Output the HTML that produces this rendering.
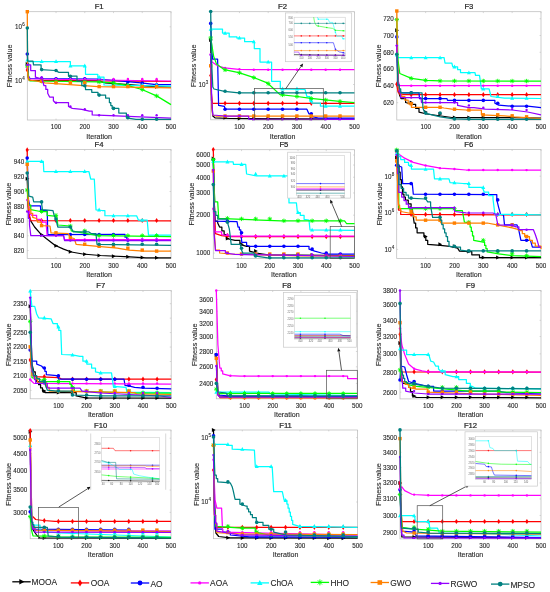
<!DOCTYPE html>
<html><head><meta charset="utf-8"><title>Convergence curves</title>
<style>html,body{margin:0;padding:0;background:#fff;width:550px;height:592px;overflow:hidden}
svg text{font-family:'Liberation Sans', Arial, sans-serif;fill:#262626;stroke:#262626;stroke-width:0.1px}</style></head>
<body>
<svg width="550" height="592" viewBox="0 0 550 592" style="display:block">
<rect width="550" height="592" fill="#ffffff"/>
<defs><clipPath id="cF1"><rect x="24.30" y="8.70" width="149.70" height="114.30"/></clipPath></defs>
<g><rect x="27.30" y="11.70" width="143.70" height="108.30" fill="none" stroke="#bdbdbd" stroke-width="0.75"/><path d="M56.04,120.00v-1.4M56.04,11.70v1.4" stroke="#bdbdbd" stroke-width="0.6"/><text x="56.04" y="129.40" font-size="6.3" text-anchor="middle">100</text><path d="M84.78,120.00v-1.4M84.78,11.70v1.4" stroke="#bdbdbd" stroke-width="0.6"/><text x="84.78" y="129.40" font-size="6.3" text-anchor="middle">200</text><path d="M113.52,120.00v-1.4M113.52,11.70v1.4" stroke="#bdbdbd" stroke-width="0.6"/><text x="113.52" y="129.40" font-size="6.3" text-anchor="middle">300</text><path d="M142.26,120.00v-1.4M142.26,11.70v1.4" stroke="#bdbdbd" stroke-width="0.6"/><text x="142.26" y="129.40" font-size="6.3" text-anchor="middle">400</text><path d="M171.00,120.00v-1.4M171.00,11.70v1.4" stroke="#bdbdbd" stroke-width="0.6"/><text x="171.00" y="129.40" font-size="6.3" text-anchor="middle">500</text><path d="M27.30,26.80h1.4M171.00,26.80h-1.4" stroke="#bdbdbd" stroke-width="0.6"/><text x="22.10" y="29.10" font-size="6.3" text-anchor="end">10</text><text x="22.30" y="26.20" font-size="4.5">6</text><path d="M27.30,80.80h1.4M171.00,80.80h-1.4" stroke="#bdbdbd" stroke-width="0.6"/><text x="22.10" y="83.10" font-size="6.3" text-anchor="end">10</text><text x="22.30" y="80.20" font-size="4.5">4</text><text x="99.15" y="138.80" font-size="7.1" text-anchor="middle">Iteration</text><text x="99.15" y="9.20" font-size="7.7" text-anchor="middle" style="stroke-width:0.22px">F1</text><text transform="translate(12.00,65.85) rotate(-90)" font-size="7.25" text-anchor="middle">Fitness value</text><g clip-path="url(#cF1)"><path d="M27.30,64.00L28.50,78.00L30.00,80.40L98.00,80.60L105.00,82.80L155.00,86.60L171.00,87.00" fill="none" stroke="#000000" stroke-width="1.25" stroke-linejoin="round"/><path d="M25.70,62.00L29.50,64.00L25.70,66.00Z" fill="#000000"/><path d="M40.07,78.43L43.87,80.43L40.07,82.43Z" fill="#000000"/><path d="M54.44,78.48L58.24,80.48L54.44,82.48Z" fill="#000000"/><path d="M68.81,78.52L72.61,80.52L68.81,82.52Z" fill="#000000"/><path d="M83.18,78.56L86.98,80.56L83.18,82.56Z" fill="#000000"/><path d="M97.55,78.96L101.35,80.96L97.55,82.96Z" fill="#000000"/><path d="M111.92,81.45L115.72,83.45L111.92,85.45Z" fill="#000000"/><path d="M126.29,82.54L130.09,84.54L126.29,86.54Z" fill="#000000"/><path d="M140.66,83.63L144.46,85.63L140.66,87.63Z" fill="#000000"/><path d="M155.03,84.64L158.83,86.64L155.03,88.64Z" fill="#000000"/><path d="M27.30,70.00L28.50,79.00L30.00,80.50L171.00,81.50" fill="none" stroke="#ff0000" stroke-width="1.25" stroke-linejoin="round"/><path d="M27.30,67.40L28.90,70.00L27.30,72.60L25.70,70.00Z" fill="#ff0000"/><path d="M41.67,77.90L43.27,80.50L41.67,83.10L40.07,80.50Z" fill="#ff0000"/><path d="M56.04,77.90L57.64,80.50L56.04,83.10L54.44,80.50Z" fill="#ff0000"/><path d="M70.41,77.90L72.01,80.50L70.41,83.10L68.81,80.50Z" fill="#ff0000"/><path d="M84.78,77.90L86.38,80.50L84.78,83.10L83.18,80.50Z" fill="#ff0000"/><path d="M99.15,77.90L100.75,80.50L99.15,83.10L97.55,80.50Z" fill="#ff0000"/><path d="M113.52,77.90L115.12,80.50L113.52,83.10L111.92,80.50Z" fill="#ff0000"/><path d="M127.89,77.90L129.49,80.50L127.89,83.10L126.29,80.50Z" fill="#ff0000"/><path d="M142.26,77.90L143.86,80.50L142.26,83.10L140.66,80.50Z" fill="#ff0000"/><path d="M156.63,77.90L158.23,80.50L156.63,83.10L155.03,80.50Z" fill="#ff0000"/><path d="M27.30,54.00L28.50,76.00L30.00,78.50L98.00,79.00L141.00,82.80L156.00,84.70L171.00,84.70" fill="none" stroke="#0000ff" stroke-width="1.25" stroke-linejoin="round"/><circle cx="27.30" cy="54.00" r="1.80" fill="#0000ff"/><circle cx="41.67" cy="78.59" r="1.80" fill="#0000ff"/><circle cx="56.04" cy="78.69" r="1.80" fill="#0000ff"/><circle cx="70.41" cy="78.80" r="1.80" fill="#0000ff"/><circle cx="84.78" cy="78.90" r="1.80" fill="#0000ff"/><circle cx="99.15" cy="79.10" r="1.80" fill="#0000ff"/><circle cx="113.52" cy="80.37" r="1.80" fill="#0000ff"/><circle cx="127.89" cy="81.64" r="1.80" fill="#0000ff"/><circle cx="142.26" cy="82.96" r="1.80" fill="#0000ff"/><circle cx="156.63" cy="84.70" r="1.80" fill="#0000ff"/><path d="M27.30,68.00L28.50,77.00L30.00,79.00L171.00,81.00" fill="none" stroke="#ff00ff" stroke-width="1.25" stroke-linejoin="round"/><circle cx="27.30" cy="68.00" r="1.20" fill="#ff00ff"/><circle cx="41.67" cy="79.00" r="1.20" fill="#ff00ff"/><circle cx="56.04" cy="79.00" r="1.20" fill="#ff00ff"/><circle cx="70.41" cy="79.00" r="1.20" fill="#ff00ff"/><circle cx="84.78" cy="79.00" r="1.20" fill="#ff00ff"/><circle cx="99.15" cy="79.00" r="1.20" fill="#ff00ff"/><circle cx="113.52" cy="79.00" r="1.20" fill="#ff00ff"/><circle cx="127.89" cy="79.00" r="1.20" fill="#ff00ff"/><circle cx="142.26" cy="79.00" r="1.20" fill="#ff00ff"/><circle cx="156.63" cy="79.00" r="1.20" fill="#ff00ff"/><path d="M27.30,60.00L28.50,61.50L70.40,61.50L70.40,65.80L85.50,65.80L85.50,74.30L97.80,74.30L97.80,77.20L104.00,77.20L104.00,85.00L171.00,86.20" fill="none" stroke="#00ffff" stroke-width="1.25" stroke-linejoin="round"/><path d="M25.30,61.60L27.30,57.80L29.30,61.60Z" fill="#00ffff"/><path d="M39.67,63.10L41.67,59.30L43.67,63.10Z" fill="#00ffff"/><path d="M54.04,63.10L56.04,59.30L58.04,63.10Z" fill="#00ffff"/><path d="M68.41,67.40L70.41,63.60L72.41,67.40Z" fill="#00ffff"/><path d="M82.78,67.40L84.78,63.60L86.78,67.40Z" fill="#00ffff"/><path d="M97.15,78.80L99.15,75.00L101.15,78.80Z" fill="#00ffff"/><path d="M111.52,86.60L113.52,82.80L115.52,86.60Z" fill="#00ffff"/><path d="M125.89,86.60L127.89,82.80L129.89,86.60Z" fill="#00ffff"/><path d="M140.26,86.60L142.26,82.80L144.26,86.60Z" fill="#00ffff"/><path d="M154.63,86.60L156.63,82.80L158.63,86.60Z" fill="#00ffff"/><path d="M27.30,66.00L28.50,78.00L30.00,81.00L98.00,81.90L113.00,82.80L128.00,85.70L142.00,89.50L157.00,96.10L171.00,104.60" fill="none" stroke="#00ff00" stroke-width="1.25" stroke-linejoin="round"/><path d="M25.10,66.00H29.50M27.30,63.80V68.20M25.76,64.46L28.84,67.54M25.76,67.54L28.84,64.46" stroke="#00ff00" stroke-width="0.9" fill="none"/><path d="M39.47,81.15H43.87M41.67,78.95V83.35M40.13,79.61L43.21,82.69M40.13,82.69L43.21,79.61" stroke="#00ff00" stroke-width="0.9" fill="none"/><path d="M53.84,81.34H58.24M56.04,79.14V83.54M54.50,79.80L57.58,82.88M54.50,82.88L57.58,79.80" stroke="#00ff00" stroke-width="0.9" fill="none"/><path d="M68.21,81.53H72.61M70.41,79.33V83.73M68.87,79.99L71.95,83.07M68.87,83.07L71.95,79.99" stroke="#00ff00" stroke-width="0.9" fill="none"/><path d="M82.58,81.73H86.98M84.78,79.53V83.93M83.24,80.19L86.32,83.27M83.24,83.27L86.32,80.19" stroke="#00ff00" stroke-width="0.9" fill="none"/><path d="M96.95,81.97H101.35M99.15,79.77V84.17M97.61,80.43L100.69,83.51M97.61,83.51L100.69,80.43" stroke="#00ff00" stroke-width="0.9" fill="none"/><path d="M111.32,82.90H115.72M113.52,80.70V85.10M111.98,81.36L115.06,84.44M111.98,84.44L115.06,81.36" stroke="#00ff00" stroke-width="0.9" fill="none"/><path d="M125.69,85.68H130.09M127.89,83.48V87.88M126.35,84.14L129.43,87.22M126.35,87.22L129.43,84.14" stroke="#00ff00" stroke-width="0.9" fill="none"/><path d="M140.06,89.61H144.46M142.26,87.41V91.81M140.72,88.07L143.80,91.15M140.72,91.15L143.80,88.07" stroke="#00ff00" stroke-width="0.9" fill="none"/><path d="M154.43,95.94H158.83M156.63,93.74V98.14M155.09,94.40L158.17,97.48M155.09,97.48L158.17,94.40" stroke="#00ff00" stroke-width="0.9" fill="none"/><path d="M27.30,11.70L27.60,72.00L28.50,80.00L36.00,81.00L45.00,82.80L98.00,86.60L171.00,87.80" fill="none" stroke="#ff8000" stroke-width="1.25" stroke-linejoin="round"/><rect x="25.60" y="10.00" width="3.40" height="3.40" fill="#ff8000"/><rect x="39.97" y="79.30" width="3.40" height="3.40" fill="#ff8000"/><rect x="54.34" y="81.10" width="3.40" height="3.40" fill="#ff8000"/><rect x="68.71" y="81.10" width="3.40" height="3.40" fill="#ff8000"/><rect x="83.08" y="81.10" width="3.40" height="3.40" fill="#ff8000"/><rect x="97.45" y="84.90" width="3.40" height="3.40" fill="#ff8000"/><rect x="111.82" y="84.90" width="3.40" height="3.40" fill="#ff8000"/><rect x="126.19" y="84.90" width="3.40" height="3.40" fill="#ff8000"/><rect x="140.56" y="84.90" width="3.40" height="3.40" fill="#ff8000"/><rect x="154.93" y="84.90" width="3.40" height="3.40" fill="#ff8000"/><path d="M27.30,64.90L30.70,64.90L30.70,70.50L35.40,70.50L35.40,77.20L42.00,79.00L44.00,85.70L45.85,85.70L45.85,89.45L47.70,89.45L47.70,93.20L49.60,97.00L53.40,97.00L53.40,100.80L55.30,102.70L68.50,102.70L68.50,106.50L72.30,108.40L81.80,109.30L89.30,111.20L92.20,111.20L92.20,115.00L98.00,115.20L171.00,118.20" fill="none" stroke="#9400ff" stroke-width="1.25" stroke-linejoin="round"/><circle cx="27.30" cy="64.90" r="1.20" fill="#9400ff"/><circle cx="41.67" cy="77.20" r="1.20" fill="#9400ff"/><circle cx="56.04" cy="102.70" r="1.20" fill="#9400ff"/><circle cx="70.41" cy="106.50" r="1.20" fill="#9400ff"/><circle cx="84.78" cy="109.30" r="1.20" fill="#9400ff"/><circle cx="99.15" cy="115.20" r="1.20" fill="#9400ff"/><circle cx="113.52" cy="115.20" r="1.20" fill="#9400ff"/><circle cx="127.89" cy="115.20" r="1.20" fill="#9400ff"/><circle cx="142.26" cy="115.20" r="1.20" fill="#9400ff"/><circle cx="156.63" cy="115.20" r="1.20" fill="#9400ff"/><path d="M27.30,28.00L27.60,61.00L33.00,61.00L33.50,64.90L41.10,64.90L41.10,69.60L55.30,70.50L59.00,72.40L68.50,72.40L68.50,76.20L77.00,76.20L77.00,81.00L81.80,81.00L81.80,85.70L85.50,85.70L85.50,89.50L91.75,89.50L91.75,92.30L98.00,92.30L98.00,95.10L105.60,95.10L105.60,98.00L109.40,98.00L109.40,102.70L110.80,102.70L110.80,105.55L112.20,105.55L112.20,108.40L118.80,108.40L118.80,113.10L126.40,113.10L126.40,117.80L136.00,119.30L171.00,119.30" fill="none" stroke="#008080" stroke-width="1.25" stroke-linejoin="round"/><circle cx="27.30" cy="28.00" r="1.80" fill="#008080"/><circle cx="41.67" cy="69.60" r="1.80" fill="#008080"/><circle cx="56.04" cy="70.50" r="1.80" fill="#008080"/><circle cx="70.41" cy="76.20" r="1.80" fill="#008080"/><circle cx="84.78" cy="85.70" r="1.80" fill="#008080"/><circle cx="99.15" cy="95.10" r="1.80" fill="#008080"/><circle cx="113.52" cy="108.40" r="1.80" fill="#008080"/><circle cx="127.89" cy="117.80" r="1.80" fill="#008080"/><circle cx="142.26" cy="119.30" r="1.80" fill="#008080"/><circle cx="156.63" cy="119.30" r="1.80" fill="#008080"/></g></g>
<defs><clipPath id="cF2"><rect x="207.70" y="8.70" width="149.70" height="114.10"/></clipPath></defs>
<g><rect x="210.70" y="11.70" width="143.70" height="108.10" fill="none" stroke="#bdbdbd" stroke-width="0.75"/><path d="M239.44,119.80v-1.4M239.44,11.70v1.4" stroke="#bdbdbd" stroke-width="0.6"/><text x="239.44" y="129.20" font-size="6.3" text-anchor="middle">100</text><path d="M268.18,119.80v-1.4M268.18,11.70v1.4" stroke="#bdbdbd" stroke-width="0.6"/><text x="268.18" y="129.20" font-size="6.3" text-anchor="middle">200</text><path d="M296.92,119.80v-1.4M296.92,11.70v1.4" stroke="#bdbdbd" stroke-width="0.6"/><text x="296.92" y="129.20" font-size="6.3" text-anchor="middle">300</text><path d="M325.66,119.80v-1.4M325.66,11.70v1.4" stroke="#bdbdbd" stroke-width="0.6"/><text x="325.66" y="129.20" font-size="6.3" text-anchor="middle">400</text><path d="M354.40,119.80v-1.4M354.40,11.70v1.4" stroke="#bdbdbd" stroke-width="0.6"/><text x="354.40" y="129.20" font-size="6.3" text-anchor="middle">500</text><path d="M210.70,84.50h1.4M354.40,84.50h-1.4" stroke="#bdbdbd" stroke-width="0.6"/><text x="205.50" y="86.80" font-size="6.3" text-anchor="end">10</text><text x="205.70" y="83.90" font-size="4.5">3</text><text x="282.55" y="138.60" font-size="7.1" text-anchor="middle">Iteration</text><text x="282.55" y="9.20" font-size="7.7" text-anchor="middle" style="stroke-width:0.22px">F2</text><text transform="translate(195.60,65.75) rotate(-90)" font-size="7.25" text-anchor="middle">Fitness value</text><g clip-path="url(#cF2)"><path d="M210.70,40.00L211.50,100.00L212.80,116.00L215.00,117.80L230.00,118.50L354.40,119.00" fill="none" stroke="#000000" stroke-width="1.25" stroke-linejoin="round"/><path d="M209.10,38.00L212.90,40.00L209.10,42.00Z" fill="#000000"/><path d="M223.47,115.80L227.27,117.80L223.47,119.80Z" fill="#000000"/><path d="M237.84,116.50L241.64,118.50L237.84,120.50Z" fill="#000000"/><path d="M252.21,116.50L256.01,118.50L252.21,120.50Z" fill="#000000"/><path d="M266.58,116.50L270.38,118.50L266.58,120.50Z" fill="#000000"/><path d="M280.95,116.50L284.75,118.50L280.95,120.50Z" fill="#000000"/><path d="M295.32,116.50L299.12,118.50L295.32,120.50Z" fill="#000000"/><path d="M309.69,116.50L313.49,118.50L309.69,120.50Z" fill="#000000"/><path d="M324.06,116.50L327.86,118.50L324.06,120.50Z" fill="#000000"/><path d="M338.43,116.50L342.23,118.50L338.43,120.50Z" fill="#000000"/><path d="M210.70,75.50L211.50,95.00L212.50,103.30L354.40,103.30" fill="none" stroke="#ff0000" stroke-width="1.25" stroke-linejoin="round"/><path d="M210.70,72.90L212.30,75.50L210.70,78.10L209.10,75.50Z" fill="#ff0000"/><path d="M225.07,100.70L226.67,103.30L225.07,105.90L223.47,103.30Z" fill="#ff0000"/><path d="M239.44,100.70L241.04,103.30L239.44,105.90L237.84,103.30Z" fill="#ff0000"/><path d="M253.81,100.70L255.41,103.30L253.81,105.90L252.21,103.30Z" fill="#ff0000"/><path d="M268.18,100.70L269.78,103.30L268.18,105.90L266.58,103.30Z" fill="#ff0000"/><path d="M282.55,100.70L284.15,103.30L282.55,105.90L280.95,103.30Z" fill="#ff0000"/><path d="M296.92,100.70L298.52,103.30L296.92,105.90L295.32,103.30Z" fill="#ff0000"/><path d="M311.29,100.70L312.89,103.30L311.29,105.90L309.69,103.30Z" fill="#ff0000"/><path d="M325.66,100.70L327.26,103.30L325.66,105.90L324.06,103.30Z" fill="#ff0000"/><path d="M340.03,100.70L341.63,103.30L340.03,105.90L338.43,103.30Z" fill="#ff0000"/><path d="M210.70,23.40L211.70,50.00L212.60,59.10L217.60,59.10L218.60,105.40L224.40,106.30L225.00,109.20L306.90,109.20L308.90,113.80L311.70,113.80L311.70,116.70L318.50,118.00L354.40,118.00" fill="none" stroke="#0000ff" stroke-width="1.25" stroke-linejoin="round"/><circle cx="210.70" cy="23.40" r="1.80" fill="#0000ff"/><circle cx="225.07" cy="109.20" r="1.80" fill="#0000ff"/><circle cx="239.44" cy="109.20" r="1.80" fill="#0000ff"/><circle cx="253.81" cy="109.20" r="1.80" fill="#0000ff"/><circle cx="268.18" cy="109.20" r="1.80" fill="#0000ff"/><circle cx="282.55" cy="109.20" r="1.80" fill="#0000ff"/><circle cx="296.92" cy="109.20" r="1.80" fill="#0000ff"/><circle cx="311.29" cy="113.80" r="1.80" fill="#0000ff"/><circle cx="325.66" cy="118.00" r="1.80" fill="#0000ff"/><circle cx="340.03" cy="118.00" r="1.80" fill="#0000ff"/><path d="M210.70,54.30L212.00,62.00L217.60,65.80L224.40,67.80L238.80,69.30L253.30,69.70L354.40,69.70" fill="none" stroke="#ff00ff" stroke-width="1.25" stroke-linejoin="round"/><circle cx="210.70" cy="54.30" r="1.20" fill="#ff00ff"/><circle cx="225.07" cy="67.87" r="1.20" fill="#ff00ff"/><circle cx="239.44" cy="69.32" r="1.20" fill="#ff00ff"/><circle cx="253.81" cy="69.70" r="1.20" fill="#ff00ff"/><circle cx="268.18" cy="69.70" r="1.20" fill="#ff00ff"/><circle cx="282.55" cy="69.70" r="1.20" fill="#ff00ff"/><circle cx="296.92" cy="69.70" r="1.20" fill="#ff00ff"/><circle cx="311.29" cy="69.70" r="1.20" fill="#ff00ff"/><circle cx="325.66" cy="69.70" r="1.20" fill="#ff00ff"/><circle cx="340.03" cy="69.70" r="1.20" fill="#ff00ff"/><path d="M210.70,29.20L222.50,29.20L222.50,33.10L229.20,33.10L229.20,36.90L236.90,36.90L236.90,38.00L244.60,38.00L244.60,41.70L254.30,41.70L254.30,48.50L260.00,48.50L260.00,62.00L271.60,62.00L271.60,81.30L280.30,81.30L280.30,88.80L305.00,89.50L306.90,96.50L309.80,96.50L309.80,100.40L311.70,103.00L320.40,103.00L320.40,106.10L354.40,106.10" fill="none" stroke="#00ffff" stroke-width="1.25" stroke-linejoin="round"/><path d="M208.70,30.80L210.70,27.00L212.70,30.80Z" fill="#00ffff"/><path d="M223.07,34.70L225.07,30.90L227.07,34.70Z" fill="#00ffff"/><path d="M237.44,39.60L239.44,35.80L241.44,39.60Z" fill="#00ffff"/><path d="M251.81,43.30L253.81,39.50L255.81,43.30Z" fill="#00ffff"/><path d="M266.18,63.60L268.18,59.80L270.18,63.60Z" fill="#00ffff"/><path d="M280.55,90.40L282.55,86.60L284.55,90.40Z" fill="#00ffff"/><path d="M294.92,90.40L296.92,86.60L298.92,90.40Z" fill="#00ffff"/><path d="M309.29,102.00L311.29,98.20L313.29,102.00Z" fill="#00ffff"/><path d="M323.66,107.70L325.66,103.90L327.66,107.70Z" fill="#00ffff"/><path d="M338.03,107.70L340.03,103.90L342.03,107.70Z" fill="#00ffff"/><path d="M210.70,37.90L213.60,56.20L216.50,63.90L224.40,69.70L238.80,72.60L253.30,77.40L267.80,83.20L280.00,94.60L297.30,96.50L310.80,98.40L325.20,99.90L339.60,101.30L354.40,102.70" fill="none" stroke="#00ff00" stroke-width="1.25" stroke-linejoin="round"/><path d="M208.50,37.90H212.90M210.70,35.70V40.10M209.16,36.36L212.24,39.44M209.16,39.44L212.24,36.36" stroke="#00ff00" stroke-width="0.9" fill="none"/><path d="M222.87,69.83H227.27M225.07,67.63V72.03M223.53,68.29L226.61,71.37M223.53,71.37L226.61,68.29" stroke="#00ff00" stroke-width="0.9" fill="none"/><path d="M237.24,72.81H241.64M239.44,70.61V75.01M237.90,71.27L240.98,74.35M237.90,74.35L240.98,71.27" stroke="#00ff00" stroke-width="0.9" fill="none"/><path d="M251.61,77.60H256.01M253.81,75.40V79.80M252.27,76.06L255.35,79.14M252.27,79.14L255.35,76.06" stroke="#00ff00" stroke-width="0.9" fill="none"/><path d="M265.98,83.56H270.38M268.18,81.36V85.76M266.64,82.02L269.72,85.10M266.64,85.10L269.72,82.02" stroke="#00ff00" stroke-width="0.9" fill="none"/><path d="M280.35,94.88H284.75M282.55,92.68V97.08M281.01,93.34L284.09,96.42M281.01,96.42L284.09,93.34" stroke="#00ff00" stroke-width="0.9" fill="none"/><path d="M294.72,96.46H299.12M296.92,94.26V98.66M295.38,94.92L298.46,98.00M295.38,98.00L298.46,94.92" stroke="#00ff00" stroke-width="0.9" fill="none"/><path d="M309.09,98.45H313.49M311.29,96.25V100.65M309.75,96.91L312.83,99.99M309.75,99.99L312.83,96.91" stroke="#00ff00" stroke-width="0.9" fill="none"/><path d="M323.46,99.94H327.86M325.66,97.74V102.14M324.12,98.40L327.20,101.48M324.12,101.48L327.20,98.40" stroke="#00ff00" stroke-width="0.9" fill="none"/><path d="M337.83,101.34H342.23M340.03,99.14V103.54M338.49,99.80L341.57,102.88M338.49,102.88L341.57,99.80" stroke="#00ff00" stroke-width="0.9" fill="none"/><path d="M210.70,65.80L211.70,105.00L212.60,115.00L216.00,116.00L354.40,116.00" fill="none" stroke="#ff8000" stroke-width="1.25" stroke-linejoin="round"/><rect x="209.00" y="64.10" width="3.40" height="3.40" fill="#ff8000"/><rect x="223.37" y="114.30" width="3.40" height="3.40" fill="#ff8000"/><rect x="237.74" y="114.30" width="3.40" height="3.40" fill="#ff8000"/><rect x="252.11" y="114.30" width="3.40" height="3.40" fill="#ff8000"/><rect x="266.48" y="114.30" width="3.40" height="3.40" fill="#ff8000"/><rect x="280.85" y="114.30" width="3.40" height="3.40" fill="#ff8000"/><rect x="295.22" y="114.30" width="3.40" height="3.40" fill="#ff8000"/><rect x="309.59" y="114.30" width="3.40" height="3.40" fill="#ff8000"/><rect x="323.96" y="114.30" width="3.40" height="3.40" fill="#ff8000"/><rect x="338.33" y="114.30" width="3.40" height="3.40" fill="#ff8000"/><path d="M210.70,55.00L211.70,100.00L212.80,115.00L225.00,116.00L248.50,116.00L249.00,119.30L354.40,119.30" fill="none" stroke="#9400ff" stroke-width="1.25" stroke-linejoin="round"/><circle cx="210.70" cy="55.00" r="1.20" fill="#9400ff"/><circle cx="225.07" cy="116.00" r="1.20" fill="#9400ff"/><circle cx="239.44" cy="116.00" r="1.20" fill="#9400ff"/><circle cx="253.81" cy="119.30" r="1.20" fill="#9400ff"/><circle cx="268.18" cy="119.30" r="1.20" fill="#9400ff"/><circle cx="282.55" cy="119.30" r="1.20" fill="#9400ff"/><circle cx="296.92" cy="119.30" r="1.20" fill="#9400ff"/><circle cx="311.29" cy="119.30" r="1.20" fill="#9400ff"/><circle cx="325.66" cy="119.30" r="1.20" fill="#9400ff"/><circle cx="340.03" cy="119.30" r="1.20" fill="#9400ff"/><path d="M210.70,11.50L211.50,60.00L212.80,87.00L214.00,89.00L224.40,91.30L238.80,92.80L354.40,92.80" fill="none" stroke="#008080" stroke-width="1.25" stroke-linejoin="round"/><circle cx="210.70" cy="11.50" r="1.80" fill="#008080"/><circle cx="225.07" cy="91.30" r="1.80" fill="#008080"/><circle cx="239.44" cy="92.80" r="1.80" fill="#008080"/><circle cx="253.81" cy="92.80" r="1.80" fill="#008080"/><circle cx="268.18" cy="92.80" r="1.80" fill="#008080"/><circle cx="282.55" cy="92.80" r="1.80" fill="#008080"/><circle cx="296.92" cy="92.80" r="1.80" fill="#008080"/><circle cx="311.29" cy="92.80" r="1.80" fill="#008080"/><circle cx="325.66" cy="92.80" r="1.80" fill="#008080"/><circle cx="340.03" cy="92.80" r="1.80" fill="#008080"/></g></g>
<rect x="254.4" y="88.4" width="68.90" height="31.40" fill="none" stroke="#505050" stroke-width="0.7"/><path d="M285.7,88.8L301.07,66.37" stroke="#101010" stroke-width="0.7"/><path d="M303.1,63.4L302.39,67.27L299.75,65.47Z" fill="#101010"/><rect x="285.6" y="12.9" width="66.10" height="48.80" fill="#ffffff" stroke="#c8c8c8" stroke-width="0.7"/><rect x="294.1" y="17.2" width="51.10" height="38.60" fill="#ffffff" stroke="#c4c4c4" stroke-width="0.5"/><text x="292.90" y="18.80" font-size="2.6" text-anchor="end" style="fill:#6a6a6a;stroke:none">800</text><text x="292.90" y="24.30" font-size="2.6" text-anchor="end" style="fill:#6a6a6a;stroke:none">700</text><text x="292.90" y="30.50" font-size="2.6" text-anchor="end" style="fill:#6a6a6a;stroke:none">600</text><text x="292.90" y="37.70" font-size="2.6" text-anchor="end" style="fill:#6a6a6a;stroke:none">550</text><text x="292.90" y="46.20" font-size="2.6" text-anchor="end" style="fill:#6a6a6a;stroke:none">500</text><text x="301.30" y="59.00" font-size="2.6" text-anchor="middle" style="fill:#6a6a6a;stroke:none">150</text><text x="309.80" y="59.00" font-size="2.6" text-anchor="middle" style="fill:#6a6a6a;stroke:none">200</text><text x="318.30" y="59.00" font-size="2.6" text-anchor="middle" style="fill:#6a6a6a;stroke:none">250</text><text x="326.80" y="59.00" font-size="2.6" text-anchor="middle" style="fill:#6a6a6a;stroke:none">300</text><text x="335.40" y="59.00" font-size="2.6" text-anchor="middle" style="fill:#6a6a6a;stroke:none">350</text><text x="343.20" y="59.00" font-size="2.6" text-anchor="middle" style="fill:#6a6a6a;stroke:none">400</text><path d="M294.10,54.50L345.20,55.30" fill="none" stroke="#000000" stroke-width="0.75" stroke-opacity="0.7"/><circle cx="301.30" cy="54.61" r="0.8" fill="#000000" fill-opacity="0.8"/><circle cx="309.80" cy="54.75" r="0.8" fill="#000000" fill-opacity="0.8"/><circle cx="318.30" cy="54.88" r="0.8" fill="#000000" fill-opacity="0.8"/><circle cx="326.80" cy="55.01" r="0.8" fill="#000000" fill-opacity="0.8"/><circle cx="335.40" cy="55.15" r="0.8" fill="#000000" fill-opacity="0.8"/><circle cx="343.20" cy="55.27" r="0.8" fill="#000000" fill-opacity="0.8"/><path d="M294.10,35.90L345.20,35.90" fill="none" stroke="#ff0000" stroke-width="0.75" stroke-opacity="0.7"/><circle cx="301.30" cy="35.90" r="0.8" fill="#ff0000" fill-opacity="0.8"/><circle cx="309.80" cy="35.90" r="0.8" fill="#ff0000" fill-opacity="0.8"/><circle cx="318.30" cy="35.90" r="0.8" fill="#ff0000" fill-opacity="0.8"/><circle cx="326.80" cy="35.90" r="0.8" fill="#ff0000" fill-opacity="0.8"/><circle cx="335.40" cy="35.90" r="0.8" fill="#ff0000" fill-opacity="0.8"/><circle cx="343.20" cy="35.90" r="0.8" fill="#ff0000" fill-opacity="0.8"/><path d="M294.10,42.70L333.40,42.70L335.40,49.30L339.30,51.90L345.20,53.20" fill="none" stroke="#0000ff" stroke-width="0.75" stroke-opacity="0.7"/><circle cx="301.30" cy="42.70" r="0.8" fill="#0000ff" fill-opacity="0.8"/><circle cx="309.80" cy="42.70" r="0.8" fill="#0000ff" fill-opacity="0.8"/><circle cx="318.30" cy="42.70" r="0.8" fill="#0000ff" fill-opacity="0.8"/><circle cx="326.80" cy="42.70" r="0.8" fill="#0000ff" fill-opacity="0.8"/><circle cx="335.40" cy="49.30" r="0.8" fill="#0000ff" fill-opacity="0.8"/><circle cx="343.20" cy="52.76" r="0.8" fill="#0000ff" fill-opacity="0.8"/><path d="M317.30,17.20L318.30,19.20L328.20,19.20L329.50,22.40L332.70,22.40L335.40,32.30L336.70,36.20L341.90,36.20L342.60,38.80L345.20,38.80" fill="none" stroke="#00ffff" stroke-width="0.75" stroke-opacity="0.7"/><circle cx="318.30" cy="19.20" r="0.8" fill="#00ffff" fill-opacity="0.8"/><circle cx="326.80" cy="19.20" r="0.8" fill="#00ffff" fill-opacity="0.8"/><circle cx="335.40" cy="32.30" r="0.8" fill="#00ffff" fill-opacity="0.8"/><circle cx="343.20" cy="38.80" r="0.8" fill="#00ffff" fill-opacity="0.8"/><path d="M313.70,17.20L314.50,22.00L316.40,25.70L327.50,27.70L332.70,28.40L335.40,30.30L345.20,30.90" fill="none" stroke="#00ff00" stroke-width="0.75" stroke-opacity="0.7"/><circle cx="318.30" cy="26.04" r="0.8" fill="#00ff00" fill-opacity="0.8"/><circle cx="326.80" cy="27.57" r="0.8" fill="#00ff00" fill-opacity="0.8"/><circle cx="335.40" cy="30.30" r="0.8" fill="#00ff00" fill-opacity="0.8"/><circle cx="343.20" cy="30.78" r="0.8" fill="#00ff00" fill-opacity="0.8"/><path d="M294.10,50.60L345.20,50.60" fill="none" stroke="#ff8000" stroke-width="0.75" stroke-opacity="0.7"/><circle cx="301.30" cy="50.60" r="0.8" fill="#ff8000" fill-opacity="0.8"/><circle cx="309.80" cy="50.60" r="0.8" fill="#ff8000" fill-opacity="0.8"/><circle cx="318.30" cy="50.60" r="0.8" fill="#ff8000" fill-opacity="0.8"/><circle cx="326.80" cy="50.60" r="0.8" fill="#ff8000" fill-opacity="0.8"/><circle cx="335.40" cy="50.60" r="0.8" fill="#ff8000" fill-opacity="0.8"/><circle cx="343.20" cy="50.60" r="0.8" fill="#ff8000" fill-opacity="0.8"/><path d="M294.10,52.10L298.70,52.10L300.00,55.20L345.20,55.20" fill="none" stroke="#9400ff" stroke-width="0.75" stroke-opacity="0.7"/><circle cx="301.30" cy="55.20" r="0.8" fill="#9400ff" fill-opacity="0.8"/><circle cx="309.80" cy="55.20" r="0.8" fill="#9400ff" fill-opacity="0.8"/><circle cx="318.30" cy="55.20" r="0.8" fill="#9400ff" fill-opacity="0.8"/><circle cx="326.80" cy="55.20" r="0.8" fill="#9400ff" fill-opacity="0.8"/><circle cx="335.40" cy="55.20" r="0.8" fill="#9400ff" fill-opacity="0.8"/><circle cx="343.20" cy="55.20" r="0.8" fill="#9400ff" fill-opacity="0.8"/><path d="M294.10,23.40L345.20,23.40" fill="none" stroke="#008080" stroke-width="0.75" stroke-opacity="0.7"/><circle cx="301.30" cy="23.40" r="0.8" fill="#008080" fill-opacity="0.8"/><circle cx="309.80" cy="23.40" r="0.8" fill="#008080" fill-opacity="0.8"/><circle cx="318.30" cy="23.40" r="0.8" fill="#008080" fill-opacity="0.8"/><circle cx="326.80" cy="23.40" r="0.8" fill="#008080" fill-opacity="0.8"/><circle cx="335.40" cy="23.40" r="0.8" fill="#008080" fill-opacity="0.8"/><circle cx="343.20" cy="23.40" r="0.8" fill="#008080" fill-opacity="0.8"/>
<defs><clipPath id="cF3"><rect x="393.80" y="8.70" width="150.20" height="114.30"/></clipPath></defs>
<g><rect x="396.80" y="11.70" width="144.20" height="108.30" fill="none" stroke="#bdbdbd" stroke-width="0.75"/><path d="M425.64,120.00v-1.4M425.64,11.70v1.4" stroke="#bdbdbd" stroke-width="0.6"/><text x="425.64" y="129.40" font-size="6.3" text-anchor="middle">100</text><path d="M454.48,120.00v-1.4M454.48,11.70v1.4" stroke="#bdbdbd" stroke-width="0.6"/><text x="454.48" y="129.40" font-size="6.3" text-anchor="middle">200</text><path d="M483.32,120.00v-1.4M483.32,11.70v1.4" stroke="#bdbdbd" stroke-width="0.6"/><text x="483.32" y="129.40" font-size="6.3" text-anchor="middle">300</text><path d="M512.16,120.00v-1.4M512.16,11.70v1.4" stroke="#bdbdbd" stroke-width="0.6"/><text x="512.16" y="129.40" font-size="6.3" text-anchor="middle">400</text><path d="M541.00,120.00v-1.4M541.00,11.70v1.4" stroke="#bdbdbd" stroke-width="0.6"/><text x="541.00" y="129.40" font-size="6.3" text-anchor="middle">500</text><path d="M396.80,102.70h1.4M541.00,102.70h-1.4" stroke="#bdbdbd" stroke-width="0.6"/><text x="393.80" y="105.00" font-size="6.3" text-anchor="end">620</text><path d="M396.80,85.90h1.4M541.00,85.90h-1.4" stroke="#bdbdbd" stroke-width="0.6"/><text x="393.80" y="88.20" font-size="6.3" text-anchor="end">640</text><path d="M396.80,69.10h1.4M541.00,69.10h-1.4" stroke="#bdbdbd" stroke-width="0.6"/><text x="393.80" y="71.40" font-size="6.3" text-anchor="end">660</text><path d="M396.80,52.30h1.4M541.00,52.30h-1.4" stroke="#bdbdbd" stroke-width="0.6"/><text x="393.80" y="54.60" font-size="6.3" text-anchor="end">680</text><path d="M396.80,35.50h1.4M541.00,35.50h-1.4" stroke="#bdbdbd" stroke-width="0.6"/><text x="393.80" y="37.80" font-size="6.3" text-anchor="end">700</text><path d="M396.80,18.70h1.4M541.00,18.70h-1.4" stroke="#bdbdbd" stroke-width="0.6"/><text x="393.80" y="21.00" font-size="6.3" text-anchor="end">720</text><text x="468.90" y="138.80" font-size="7.1" text-anchor="middle">Iteration</text><text x="468.90" y="9.20" font-size="7.7" text-anchor="middle" style="stroke-width:0.22px">F3</text><text transform="translate(381.40,65.85) rotate(-90)" font-size="7.25" text-anchor="middle">Fitness value</text><g clip-path="url(#cF3)"><path d="M396.80,30.20L398.00,80.00L399.50,95.00L401.00,98.60L405.60,98.60L405.60,102.50L412.30,104.40L415.65,104.40L415.65,108.25L419.00,108.25L419.00,112.10L426.80,114.00L441.20,116.00L451.80,117.50L466.00,117.50L512.00,117.70L541.00,118.10" fill="none" stroke="#000000" stroke-width="1.25" stroke-linejoin="round"/><path d="M395.20,28.20L399.00,30.20L395.20,32.20Z" fill="#000000"/><path d="M409.62,100.50L413.42,102.50L409.62,104.50Z" fill="#000000"/><path d="M424.04,110.10L427.84,112.10L424.04,114.10Z" fill="#000000"/><path d="M438.46,112.00L442.26,114.00L438.46,116.00Z" fill="#000000"/><path d="M452.88,115.50L456.68,117.50L452.88,119.50Z" fill="#000000"/><path d="M467.30,115.50L471.10,117.50L467.30,119.50Z" fill="#000000"/><path d="M481.72,115.50L485.52,117.50L481.72,119.50Z" fill="#000000"/><path d="M496.14,115.50L499.94,117.50L496.14,119.50Z" fill="#000000"/><path d="M510.56,115.70L514.36,117.70L510.56,119.70Z" fill="#000000"/><path d="M524.98,115.70L528.78,117.70L524.98,119.70Z" fill="#000000"/><path d="M396.80,84.20L398.00,92.00L400.00,94.70L541.00,94.70" fill="none" stroke="#ff0000" stroke-width="1.25" stroke-linejoin="round"/><path d="M396.80,81.60L398.40,84.20L396.80,86.80L395.20,84.20Z" fill="#ff0000"/><path d="M411.22,92.10L412.82,94.70L411.22,97.30L409.62,94.70Z" fill="#ff0000"/><path d="M425.64,92.10L427.24,94.70L425.64,97.30L424.04,94.70Z" fill="#ff0000"/><path d="M440.06,92.10L441.66,94.70L440.06,97.30L438.46,94.70Z" fill="#ff0000"/><path d="M454.48,92.10L456.08,94.70L454.48,97.30L452.88,94.70Z" fill="#ff0000"/><path d="M468.90,92.10L470.50,94.70L468.90,97.30L467.30,94.70Z" fill="#ff0000"/><path d="M483.32,92.10L484.92,94.70L483.32,97.30L481.72,94.70Z" fill="#ff0000"/><path d="M497.74,92.10L499.34,94.70L497.74,97.30L496.14,94.70Z" fill="#ff0000"/><path d="M512.16,92.10L513.76,94.70L512.16,97.30L510.56,94.70Z" fill="#ff0000"/><path d="M526.58,92.10L528.18,94.70L526.58,97.30L524.98,94.70Z" fill="#ff0000"/><path d="M396.80,36.90L398.00,85.00L399.50,92.80L419.00,92.80L419.50,98.60L447.00,98.60L447.50,100.40L491.00,100.40L494.90,100.40L494.90,103.30L498.70,105.20L512.00,106.20L527.60,106.20L541.00,107.70" fill="none" stroke="#0000ff" stroke-width="1.25" stroke-linejoin="round"/><circle cx="396.80" cy="36.90" r="1.80" fill="#0000ff"/><circle cx="411.22" cy="92.80" r="1.80" fill="#0000ff"/><circle cx="425.64" cy="98.60" r="1.80" fill="#0000ff"/><circle cx="440.06" cy="98.60" r="1.80" fill="#0000ff"/><circle cx="454.48" cy="100.40" r="1.80" fill="#0000ff"/><circle cx="468.90" cy="100.40" r="1.80" fill="#0000ff"/><circle cx="483.32" cy="100.40" r="1.80" fill="#0000ff"/><circle cx="497.74" cy="103.30" r="1.80" fill="#0000ff"/><circle cx="512.16" cy="106.20" r="1.80" fill="#0000ff"/><circle cx="526.58" cy="106.20" r="1.80" fill="#0000ff"/><path d="M396.80,45.60L398.00,80.00L399.50,85.70L541.00,85.70" fill="none" stroke="#ff00ff" stroke-width="1.25" stroke-linejoin="round"/><circle cx="396.80" cy="45.60" r="1.20" fill="#ff00ff"/><circle cx="411.22" cy="85.70" r="1.20" fill="#ff00ff"/><circle cx="425.64" cy="85.70" r="1.20" fill="#ff00ff"/><circle cx="440.06" cy="85.70" r="1.20" fill="#ff00ff"/><circle cx="454.48" cy="85.70" r="1.20" fill="#ff00ff"/><circle cx="468.90" cy="85.70" r="1.20" fill="#ff00ff"/><circle cx="483.32" cy="85.70" r="1.20" fill="#ff00ff"/><circle cx="497.74" cy="85.70" r="1.20" fill="#ff00ff"/><circle cx="512.16" cy="85.70" r="1.20" fill="#ff00ff"/><circle cx="526.58" cy="85.70" r="1.20" fill="#ff00ff"/><path d="M396.80,55.00L398.00,57.70L444.10,57.70L445.00,63.00L451.80,63.00L452.80,66.80L457.60,66.80L457.60,69.70L460.50,69.70L460.50,72.60L475.00,72.60L475.50,75.40L479.50,75.40L481.40,88.80L489.10,88.80L491.00,96.50L504.50,98.10L541.00,98.50" fill="none" stroke="#00ffff" stroke-width="1.25" stroke-linejoin="round"/><path d="M394.80,56.60L396.80,52.80L398.80,56.60Z" fill="#00ffff"/><path d="M409.22,59.30L411.22,55.50L413.22,59.30Z" fill="#00ffff"/><path d="M423.64,59.30L425.64,55.50L427.64,59.30Z" fill="#00ffff"/><path d="M438.06,59.30L440.06,55.50L442.06,59.30Z" fill="#00ffff"/><path d="M452.48,68.40L454.48,64.60L456.48,68.40Z" fill="#00ffff"/><path d="M466.90,74.20L468.90,70.40L470.90,74.20Z" fill="#00ffff"/><path d="M481.32,90.40L483.32,86.60L485.32,90.40Z" fill="#00ffff"/><path d="M495.74,98.10L497.74,94.30L499.74,98.10Z" fill="#00ffff"/><path d="M510.16,99.70L512.16,95.90L514.16,99.70Z" fill="#00ffff"/><path d="M524.58,99.70L526.58,95.90L528.58,99.70Z" fill="#00ffff"/><path d="M396.80,19.60L398.00,60.00L399.80,73.50L411.40,78.40L425.80,80.30L440.00,80.90L541.00,81.10" fill="none" stroke="#00ff00" stroke-width="1.25" stroke-linejoin="round"/><path d="M394.60,19.60H399.00M396.80,17.40V21.80M395.26,18.06L398.34,21.14M395.26,21.14L398.34,18.06" stroke="#00ff00" stroke-width="0.9" fill="none"/><path d="M409.02,78.32H413.42M411.22,76.12V80.52M409.68,76.78L412.76,79.86M409.68,79.86L412.76,76.78" stroke="#00ff00" stroke-width="0.9" fill="none"/><path d="M423.44,80.28H427.84M425.64,78.08V82.48M424.10,78.74L427.18,81.82M424.10,81.82L427.18,78.74" stroke="#00ff00" stroke-width="0.9" fill="none"/><path d="M437.86,80.90H442.26M440.06,78.70V83.10M438.52,79.36L441.60,82.44M438.52,82.44L441.60,79.36" stroke="#00ff00" stroke-width="0.9" fill="none"/><path d="M452.28,80.93H456.68M454.48,78.73V83.13M452.94,79.39L456.02,82.47M452.94,82.47L456.02,79.39" stroke="#00ff00" stroke-width="0.9" fill="none"/><path d="M466.70,80.96H471.10M468.90,78.76V83.16M467.36,79.42L470.44,82.50M467.36,82.50L470.44,79.42" stroke="#00ff00" stroke-width="0.9" fill="none"/><path d="M481.12,80.99H485.52M483.32,78.79V83.19M481.78,79.45L484.86,82.53M481.78,82.53L484.86,79.45" stroke="#00ff00" stroke-width="0.9" fill="none"/><path d="M495.54,81.01H499.94M497.74,78.81V83.21M496.20,79.47L499.28,82.55M496.20,82.55L499.28,79.47" stroke="#00ff00" stroke-width="0.9" fill="none"/><path d="M509.96,81.04H514.36M512.16,78.84V83.24M510.62,79.50L513.70,82.58M510.62,82.58L513.70,79.50" stroke="#00ff00" stroke-width="0.9" fill="none"/><path d="M524.38,81.07H528.78M526.58,78.87V83.27M525.04,79.53L528.12,82.61M525.04,82.61L528.12,79.53" stroke="#00ff00" stroke-width="0.9" fill="none"/><path d="M396.80,11.00L397.50,60.00L398.50,90.00L400.10,90.00L400.10,93.35L401.70,93.35L401.70,96.70L404.93,96.70L404.93,100.23L408.17,100.23L408.17,103.77L411.40,103.77L411.40,107.30L440.30,107.30L444.00,108.00L451.80,109.20L466.00,110.00L481.40,110.00L481.40,114.80L504.50,115.80L514.10,116.80L541.00,118.70" fill="none" stroke="#ff8000" stroke-width="1.25" stroke-linejoin="round"/><rect x="395.10" y="9.30" width="3.40" height="3.40" fill="#ff8000"/><rect x="409.52" y="102.07" width="3.40" height="3.40" fill="#ff8000"/><rect x="423.94" y="105.60" width="3.40" height="3.40" fill="#ff8000"/><rect x="438.36" y="105.60" width="3.40" height="3.40" fill="#ff8000"/><rect x="452.78" y="107.50" width="3.40" height="3.40" fill="#ff8000"/><rect x="467.20" y="108.30" width="3.40" height="3.40" fill="#ff8000"/><rect x="481.62" y="113.10" width="3.40" height="3.40" fill="#ff8000"/><rect x="496.04" y="113.10" width="3.40" height="3.40" fill="#ff8000"/><rect x="510.46" y="114.10" width="3.40" height="3.40" fill="#ff8000"/><rect x="524.88" y="115.10" width="3.40" height="3.40" fill="#ff8000"/><path d="M396.80,45.60L398.00,85.00L399.35,85.00L399.35,91.30L400.70,91.30L400.70,97.60L421.00,97.60L421.50,102.50L451.80,102.50L457.60,102.50L457.60,105.40L469.00,107.70L474.00,107.70L485.20,109.10L512.20,110.00L527.60,112.00L541.00,114.80" fill="none" stroke="#9400ff" stroke-width="1.25" stroke-linejoin="round"/><circle cx="396.80" cy="45.60" r="1.20" fill="#9400ff"/><circle cx="411.22" cy="97.60" r="1.20" fill="#9400ff"/><circle cx="425.64" cy="102.50" r="1.20" fill="#9400ff"/><circle cx="440.06" cy="102.50" r="1.20" fill="#9400ff"/><circle cx="454.48" cy="102.50" r="1.20" fill="#9400ff"/><circle cx="468.90" cy="105.40" r="1.20" fill="#9400ff"/><circle cx="483.32" cy="107.70" r="1.20" fill="#9400ff"/><circle cx="497.74" cy="109.10" r="1.20" fill="#9400ff"/><circle cx="512.16" cy="109.10" r="1.20" fill="#9400ff"/><circle cx="526.58" cy="110.00" r="1.20" fill="#9400ff"/><path d="M396.80,54.30L398.00,85.00L399.35,85.00L399.35,88.90L400.70,88.90L400.70,92.80L422.00,92.80L423.00,108.30L424.80,113.10L440.30,116.90L453.80,118.90L470.00,119.30L541.00,119.30" fill="none" stroke="#008080" stroke-width="1.25" stroke-linejoin="round"/><circle cx="396.80" cy="54.30" r="1.80" fill="#008080"/><circle cx="411.22" cy="92.80" r="1.80" fill="#008080"/><circle cx="425.64" cy="113.10" r="1.80" fill="#008080"/><circle cx="440.06" cy="113.10" r="1.80" fill="#008080"/><circle cx="454.48" cy="118.90" r="1.80" fill="#008080"/><circle cx="468.90" cy="118.90" r="1.80" fill="#008080"/><circle cx="483.32" cy="119.30" r="1.80" fill="#008080"/><circle cx="497.74" cy="119.30" r="1.80" fill="#008080"/><circle cx="512.16" cy="119.30" r="1.80" fill="#008080"/><circle cx="526.58" cy="119.30" r="1.80" fill="#008080"/></g></g>
<defs><clipPath id="cF4"><rect x="24.20" y="146.60" width="149.80" height="114.80"/></clipPath></defs>
<g><rect x="27.20" y="149.60" width="143.80" height="108.80" fill="none" stroke="#bdbdbd" stroke-width="0.75"/><path d="M55.96,258.40v-1.4M55.96,149.60v1.4" stroke="#bdbdbd" stroke-width="0.6"/><text x="55.96" y="267.80" font-size="6.3" text-anchor="middle">100</text><path d="M84.72,258.40v-1.4M84.72,149.60v1.4" stroke="#bdbdbd" stroke-width="0.6"/><text x="84.72" y="267.80" font-size="6.3" text-anchor="middle">200</text><path d="M113.48,258.40v-1.4M113.48,149.60v1.4" stroke="#bdbdbd" stroke-width="0.6"/><text x="113.48" y="267.80" font-size="6.3" text-anchor="middle">300</text><path d="M142.24,258.40v-1.4M142.24,149.60v1.4" stroke="#bdbdbd" stroke-width="0.6"/><text x="142.24" y="267.80" font-size="6.3" text-anchor="middle">400</text><path d="M171.00,258.40v-1.4M171.00,149.60v1.4" stroke="#bdbdbd" stroke-width="0.6"/><text x="171.00" y="267.80" font-size="6.3" text-anchor="middle">500</text><path d="M27.20,250.50h1.4M171.00,250.50h-1.4" stroke="#bdbdbd" stroke-width="0.6"/><text x="24.20" y="252.80" font-size="6.3" text-anchor="end">820</text><path d="M27.20,235.75h1.4M171.00,235.75h-1.4" stroke="#bdbdbd" stroke-width="0.6"/><text x="24.20" y="238.05" font-size="6.3" text-anchor="end">840</text><path d="M27.20,221.00h1.4M171.00,221.00h-1.4" stroke="#bdbdbd" stroke-width="0.6"/><text x="24.20" y="223.30" font-size="6.3" text-anchor="end">860</text><path d="M27.20,206.25h1.4M171.00,206.25h-1.4" stroke="#bdbdbd" stroke-width="0.6"/><text x="24.20" y="208.55" font-size="6.3" text-anchor="end">880</text><path d="M27.20,191.50h1.4M171.00,191.50h-1.4" stroke="#bdbdbd" stroke-width="0.6"/><text x="24.20" y="193.80" font-size="6.3" text-anchor="end">900</text><path d="M27.20,176.75h1.4M171.00,176.75h-1.4" stroke="#bdbdbd" stroke-width="0.6"/><text x="24.20" y="179.05" font-size="6.3" text-anchor="end">920</text><path d="M27.20,162.00h1.4M171.00,162.00h-1.4" stroke="#bdbdbd" stroke-width="0.6"/><text x="24.20" y="164.30" font-size="6.3" text-anchor="end">940</text><text x="99.10" y="277.20" font-size="7.1" text-anchor="middle">Iteration</text><text x="99.10" y="147.10" font-size="7.7" text-anchor="middle" style="stroke-width:0.22px">F4</text><text transform="translate(10.60,204.00) rotate(-90)" font-size="7.25" text-anchor="middle">Fitness value</text><g clip-path="url(#cF4)"><path d="M27.20,178.80L28.50,210.00L29.80,219.30L34.60,227.00L40.40,233.70L46.20,238.50L54.90,245.30L63.60,249.10L71.30,252.00L82.80,254.00L100.00,255.50L130.00,256.90L146.00,257.80L171.00,257.80" fill="none" stroke="#000000" stroke-width="1.25" stroke-linejoin="round"/><path d="M25.60,176.80L29.40,178.80L25.60,180.80Z" fill="#000000"/><path d="M39.98,232.68L43.78,234.68L39.98,236.68Z" fill="#000000"/><path d="M54.36,243.76L58.16,245.76L54.36,247.76Z" fill="#000000"/><path d="M68.74,249.64L72.54,251.64L68.74,253.64Z" fill="#000000"/><path d="M83.12,252.17L86.92,254.17L83.12,256.17Z" fill="#000000"/><path d="M97.50,253.42L101.30,255.42L97.50,257.42Z" fill="#000000"/><path d="M111.88,254.13L115.68,256.13L111.88,258.13Z" fill="#000000"/><path d="M126.26,254.80L130.06,256.80L126.26,258.80Z" fill="#000000"/><path d="M140.64,255.59L144.44,257.59L140.64,259.59Z" fill="#000000"/><path d="M155.02,255.80L158.82,257.80L155.02,259.80Z" fill="#000000"/><path d="M27.20,149.90L28.00,205.00L29.00,214.00L30.80,220.50L171.00,220.80" fill="none" stroke="#ff0000" stroke-width="1.25" stroke-linejoin="round"/><path d="M27.20,147.30L28.80,149.90L27.20,152.50L25.60,149.90Z" fill="#ff0000"/><path d="M41.58,217.90L43.18,220.50L41.58,223.10L39.98,220.50Z" fill="#ff0000"/><path d="M55.96,217.90L57.56,220.50L55.96,223.10L54.36,220.50Z" fill="#ff0000"/><path d="M70.34,217.90L71.94,220.50L70.34,223.10L68.74,220.50Z" fill="#ff0000"/><path d="M84.72,217.90L86.32,220.50L84.72,223.10L83.12,220.50Z" fill="#ff0000"/><path d="M99.10,217.90L100.70,220.50L99.10,223.10L97.50,220.50Z" fill="#ff0000"/><path d="M113.48,217.90L115.08,220.50L113.48,223.10L111.88,220.50Z" fill="#ff0000"/><path d="M127.86,217.90L129.46,220.50L127.86,223.10L126.26,220.50Z" fill="#ff0000"/><path d="M142.24,217.90L143.84,220.50L142.24,223.10L140.64,220.50Z" fill="#ff0000"/><path d="M156.62,217.90L158.22,220.50L156.62,223.10L155.02,220.50Z" fill="#ff0000"/><path d="M27.20,158.00L28.50,200.00L29.80,205.80L40.40,205.80L40.80,210.60L47.20,210.60L47.80,234.50L123.10,234.30L125.00,234.30L125.00,237.20L126.90,237.20L126.90,240.10L171.00,240.10" fill="none" stroke="#0000ff" stroke-width="1.25" stroke-linejoin="round"/><circle cx="27.20" cy="158.00" r="1.80" fill="#0000ff"/><circle cx="41.58" cy="210.60" r="1.80" fill="#0000ff"/><circle cx="55.96" cy="234.50" r="1.80" fill="#0000ff"/><circle cx="70.34" cy="234.50" r="1.80" fill="#0000ff"/><circle cx="84.72" cy="234.50" r="1.80" fill="#0000ff"/><circle cx="99.10" cy="234.50" r="1.80" fill="#0000ff"/><circle cx="113.48" cy="234.50" r="1.80" fill="#0000ff"/><circle cx="127.86" cy="240.10" r="1.80" fill="#0000ff"/><circle cx="142.24" cy="240.10" r="1.80" fill="#0000ff"/><circle cx="156.62" cy="240.10" r="1.80" fill="#0000ff"/><path d="M27.20,200.00L28.50,200.00L28.50,206.75L29.80,206.75L29.80,213.50L31.70,215.40L36.60,215.40L36.60,219.30L41.40,219.30L41.40,222.15L46.20,222.15L46.20,225.00L47.20,235.60L63.60,235.60L64.50,239.50L171.00,239.50" fill="none" stroke="#ff00ff" stroke-width="1.25" stroke-linejoin="round"/><circle cx="27.20" cy="200.00" r="1.20" fill="#ff00ff"/><circle cx="41.58" cy="222.15" r="1.20" fill="#ff00ff"/><circle cx="55.96" cy="235.60" r="1.20" fill="#ff00ff"/><circle cx="70.34" cy="239.50" r="1.20" fill="#ff00ff"/><circle cx="84.72" cy="239.50" r="1.20" fill="#ff00ff"/><circle cx="99.10" cy="239.50" r="1.20" fill="#ff00ff"/><circle cx="113.48" cy="239.50" r="1.20" fill="#ff00ff"/><circle cx="127.86" cy="239.50" r="1.20" fill="#ff00ff"/><circle cx="142.24" cy="239.50" r="1.20" fill="#ff00ff"/><circle cx="156.62" cy="239.50" r="1.20" fill="#ff00ff"/><path d="M27.20,161.40L43.30,161.40L43.80,171.50L88.90,171.50L90.70,179.00L94.30,179.00L96.00,209.80L102.00,210.50L104.90,210.50L104.90,215.70L136.60,215.80L138.50,220.20L147.20,220.20L148.50,235.10L171.00,235.10" fill="none" stroke="#00ffff" stroke-width="1.25" stroke-linejoin="round"/><path d="M25.20,163.00L27.20,159.20L29.20,163.00Z" fill="#00ffff"/><path d="M39.58,163.00L41.58,159.20L43.58,163.00Z" fill="#00ffff"/><path d="M53.96,173.10L55.96,169.30L57.96,173.10Z" fill="#00ffff"/><path d="M68.34,173.10L70.34,169.30L72.34,173.10Z" fill="#00ffff"/><path d="M82.72,173.10L84.72,169.30L86.72,173.10Z" fill="#00ffff"/><path d="M97.10,211.40L99.10,207.60L101.10,211.40Z" fill="#00ffff"/><path d="M111.48,217.30L113.48,213.50L115.48,217.30Z" fill="#00ffff"/><path d="M125.86,217.30L127.86,213.50L129.86,217.30Z" fill="#00ffff"/><path d="M140.24,221.80L142.24,218.00L144.24,221.80Z" fill="#00ffff"/><path d="M154.62,236.70L156.62,232.90L158.62,236.70Z" fill="#00ffff"/><path d="M27.20,190.00L28.50,205.00L30.80,205.00L30.80,209.60L40.40,211.50L47.20,211.50L47.20,215.40L56.80,216.40L57.80,225.00L70.30,226.00L71.30,230.80L98.00,235.60L171.00,236.60" fill="none" stroke="#00ff00" stroke-width="1.25" stroke-linejoin="round"/><path d="M25.00,190.00H29.40M27.20,187.80V192.20M25.66,188.46L28.74,191.54M25.66,191.54L28.74,188.46" stroke="#00ff00" stroke-width="0.9" fill="none"/><path d="M39.38,211.50H43.78M41.58,209.30V213.70M40.04,209.96L43.12,213.04M40.04,213.04L43.12,209.96" stroke="#00ff00" stroke-width="0.9" fill="none"/><path d="M53.76,215.40H58.16M55.96,213.20V217.60M54.42,213.86L57.50,216.94M54.42,216.94L57.50,213.86" stroke="#00ff00" stroke-width="0.9" fill="none"/><path d="M68.14,226.00H72.54M70.34,223.80V228.20M68.80,224.46L71.88,227.54M68.80,227.54L71.88,224.46" stroke="#00ff00" stroke-width="0.9" fill="none"/><path d="M82.52,230.80H86.92M84.72,228.60V233.00M83.18,229.26L86.26,232.34M83.18,232.34L86.26,229.26" stroke="#00ff00" stroke-width="0.9" fill="none"/><path d="M96.90,235.60H101.30M99.10,233.40V237.80M97.56,234.06L100.64,237.14M97.56,237.14L100.64,234.06" stroke="#00ff00" stroke-width="0.9" fill="none"/><path d="M111.28,235.60H115.68M113.48,233.40V237.80M111.94,234.06L115.02,237.14M111.94,237.14L115.02,234.06" stroke="#00ff00" stroke-width="0.9" fill="none"/><path d="M125.66,235.60H130.06M127.86,233.40V237.80M126.32,234.06L129.40,237.14M126.32,237.14L129.40,234.06" stroke="#00ff00" stroke-width="0.9" fill="none"/><path d="M140.04,235.60H144.44M142.24,233.40V237.80M140.70,234.06L143.78,237.14M140.70,237.14L143.78,234.06" stroke="#00ff00" stroke-width="0.9" fill="none"/><path d="M154.42,235.60H158.82M156.62,233.40V237.80M155.08,234.06L158.16,237.14M155.08,237.14L158.16,234.06" stroke="#00ff00" stroke-width="0.9" fill="none"/><path d="M27.20,164.30L28.50,205.00L29.00,209.60L30.85,209.60L30.85,213.45L32.70,213.45L32.70,217.30L36.60,218.50L37.50,222.20L41.40,222.20L41.40,225.60L50.00,226.00L51.00,232.80L68.40,233.70L70.30,237.60L74.20,238.50L76.10,244.30L98.00,246.30L117.30,248.20L128.80,250.10L144.00,251.10L171.00,251.10" fill="none" stroke="#ff8000" stroke-width="1.25" stroke-linejoin="round"/><rect x="25.50" y="162.60" width="3.40" height="3.40" fill="#ff8000"/><rect x="39.88" y="223.90" width="3.40" height="3.40" fill="#ff8000"/><rect x="54.26" y="231.10" width="3.40" height="3.40" fill="#ff8000"/><rect x="68.64" y="235.90" width="3.40" height="3.40" fill="#ff8000"/><rect x="83.02" y="242.60" width="3.40" height="3.40" fill="#ff8000"/><rect x="97.40" y="244.60" width="3.40" height="3.40" fill="#ff8000"/><rect x="111.78" y="244.60" width="3.40" height="3.40" fill="#ff8000"/><rect x="126.16" y="246.50" width="3.40" height="3.40" fill="#ff8000"/><rect x="140.54" y="248.40" width="3.40" height="3.40" fill="#ff8000"/><rect x="154.92" y="249.40" width="3.40" height="3.40" fill="#ff8000"/><path d="M27.20,211.50L28.35,211.50L28.35,218.25L29.50,218.25L29.50,225.00L30.80,235.60L63.60,235.60L64.50,240.50L171.00,240.50" fill="none" stroke="#9400ff" stroke-width="1.25" stroke-linejoin="round"/><circle cx="27.20" cy="211.50" r="1.20" fill="#9400ff"/><circle cx="41.58" cy="235.60" r="1.20" fill="#9400ff"/><circle cx="55.96" cy="235.60" r="1.20" fill="#9400ff"/><circle cx="70.34" cy="240.50" r="1.20" fill="#9400ff"/><circle cx="84.72" cy="240.50" r="1.20" fill="#9400ff"/><circle cx="99.10" cy="240.50" r="1.20" fill="#9400ff"/><circle cx="113.48" cy="240.50" r="1.20" fill="#9400ff"/><circle cx="127.86" cy="240.50" r="1.20" fill="#9400ff"/><circle cx="142.24" cy="240.50" r="1.20" fill="#9400ff"/><circle cx="156.62" cy="240.50" r="1.20" fill="#9400ff"/><path d="M27.20,173.00L28.50,190.00L28.90,196.10L32.70,197.10L33.70,201.90L41.40,201.90L42.40,209.60L53.00,210.60L53.90,214.40L55.80,219.00L57.80,227.00L69.30,227.00L71.30,228.00L73.20,231.80L88.60,231.80L91.50,233.70L96.00,233.70L97.00,244.30L171.00,245.30" fill="none" stroke="#008080" stroke-width="1.25" stroke-linejoin="round"/><circle cx="27.20" cy="173.00" r="1.80" fill="#008080"/><circle cx="41.58" cy="201.90" r="1.80" fill="#008080"/><circle cx="55.96" cy="219.00" r="1.80" fill="#008080"/><circle cx="70.34" cy="227.00" r="1.80" fill="#008080"/><circle cx="84.72" cy="231.80" r="1.80" fill="#008080"/><circle cx="99.10" cy="244.30" r="1.80" fill="#008080"/><circle cx="113.48" cy="244.30" r="1.80" fill="#008080"/><circle cx="127.86" cy="244.30" r="1.80" fill="#008080"/><circle cx="142.24" cy="244.30" r="1.80" fill="#008080"/><circle cx="156.62" cy="244.30" r="1.80" fill="#008080"/></g></g>
<defs><clipPath id="cF5"><rect x="210.30" y="146.70" width="147.20" height="114.70"/></clipPath></defs>
<g><rect x="213.30" y="149.70" width="141.20" height="108.70" fill="none" stroke="#bdbdbd" stroke-width="0.75"/><path d="M241.54,258.40v-1.4M241.54,149.70v1.4" stroke="#bdbdbd" stroke-width="0.6"/><text x="241.54" y="267.80" font-size="6.3" text-anchor="middle">100</text><path d="M269.78,258.40v-1.4M269.78,149.70v1.4" stroke="#bdbdbd" stroke-width="0.6"/><text x="269.78" y="267.80" font-size="6.3" text-anchor="middle">200</text><path d="M298.02,258.40v-1.4M298.02,149.70v1.4" stroke="#bdbdbd" stroke-width="0.6"/><text x="298.02" y="267.80" font-size="6.3" text-anchor="middle">300</text><path d="M326.26,258.40v-1.4M326.26,149.70v1.4" stroke="#bdbdbd" stroke-width="0.6"/><text x="326.26" y="267.80" font-size="6.3" text-anchor="middle">400</text><path d="M354.50,258.40v-1.4M354.50,149.70v1.4" stroke="#bdbdbd" stroke-width="0.6"/><text x="354.50" y="267.80" font-size="6.3" text-anchor="middle">500</text><path d="M213.30,253.10h1.4M354.50,253.10h-1.4" stroke="#bdbdbd" stroke-width="0.6"/><text x="210.30" y="255.40" font-size="6.3" text-anchor="end">1000</text><path d="M213.30,215.17h1.4M354.50,215.17h-1.4" stroke="#bdbdbd" stroke-width="0.6"/><text x="210.30" y="217.47" font-size="6.3" text-anchor="end">2000</text><path d="M213.30,192.98h1.4M354.50,192.98h-1.4" stroke="#bdbdbd" stroke-width="0.6"/><text x="210.30" y="195.28" font-size="6.3" text-anchor="end">3000</text><path d="M213.30,177.24h1.4M354.50,177.24h-1.4" stroke="#bdbdbd" stroke-width="0.6"/><text x="210.30" y="179.54" font-size="6.3" text-anchor="end">4000</text><path d="M213.30,165.03h1.4M354.50,165.03h-1.4" stroke="#bdbdbd" stroke-width="0.6"/><text x="210.30" y="167.33" font-size="6.3" text-anchor="end">5000</text><path d="M213.30,155.05h1.4M354.50,155.05h-1.4" stroke="#bdbdbd" stroke-width="0.6"/><text x="210.30" y="157.35" font-size="6.3" text-anchor="end">6000</text><text x="283.90" y="277.20" font-size="7.1" text-anchor="middle">Iteration</text><text x="283.90" y="147.20" font-size="7.7" text-anchor="middle" style="stroke-width:0.22px">F5</text><text transform="translate(194.10,204.05) rotate(-90)" font-size="7.25" text-anchor="middle">Fitness value</text><g clip-path="url(#cF5)"><path d="M213.30,158.50L214.20,200.00L215.00,221.00L217.70,221.00L217.70,223.10L219.60,227.00L221.87,227.00L221.87,230.83L224.13,230.83L224.13,234.67L226.40,234.67L226.40,238.50L235.00,240.40L239.90,240.40L239.90,244.30L246.60,246.30L249.50,246.30L249.50,251.10L256.30,253.00L267.80,254.90L354.50,255.50" fill="none" stroke="#000000" stroke-width="1.25" stroke-linejoin="round"/><path d="M211.70,156.50L215.50,158.50L211.70,160.50Z" fill="#000000"/><path d="M225.82,236.50L229.62,238.50L225.82,240.50Z" fill="#000000"/><path d="M239.94,242.30L243.74,244.30L239.94,246.30Z" fill="#000000"/><path d="M254.06,249.10L257.86,251.10L254.06,253.10Z" fill="#000000"/><path d="M268.18,252.90L271.98,254.90L268.18,256.90Z" fill="#000000"/><path d="M282.30,252.90L286.10,254.90L282.30,256.90Z" fill="#000000"/><path d="M296.42,252.90L300.22,254.90L296.42,256.90Z" fill="#000000"/><path d="M310.54,252.90L314.34,254.90L310.54,256.90Z" fill="#000000"/><path d="M324.66,252.90L328.46,254.90L324.66,256.90Z" fill="#000000"/><path d="M338.78,252.90L342.58,254.90L338.78,256.90Z" fill="#000000"/><path d="M213.30,149.50L214.20,200.00L215.50,233.70L221.60,235.60L230.00,236.60L354.50,236.60" fill="none" stroke="#ff0000" stroke-width="1.25" stroke-linejoin="round"/><path d="M213.30,146.90L214.90,149.50L213.30,152.10L211.70,149.50Z" fill="#ff0000"/><path d="M227.42,233.00L229.02,235.60L227.42,238.20L225.82,235.60Z" fill="#ff0000"/><path d="M241.54,234.00L243.14,236.60L241.54,239.20L239.94,236.60Z" fill="#ff0000"/><path d="M255.66,234.00L257.26,236.60L255.66,239.20L254.06,236.60Z" fill="#ff0000"/><path d="M269.78,234.00L271.38,236.60L269.78,239.20L268.18,236.60Z" fill="#ff0000"/><path d="M283.90,234.00L285.50,236.60L283.90,239.20L282.30,236.60Z" fill="#ff0000"/><path d="M298.02,234.00L299.62,236.60L298.02,239.20L296.42,236.60Z" fill="#ff0000"/><path d="M312.14,234.00L313.74,236.60L312.14,239.20L310.54,236.60Z" fill="#ff0000"/><path d="M326.26,234.00L327.86,236.60L326.26,239.20L324.66,236.60Z" fill="#ff0000"/><path d="M340.38,234.00L341.98,236.60L340.38,239.20L338.78,236.60Z" fill="#ff0000"/><path d="M213.30,160.00L214.20,200.00L214.80,221.20L237.00,221.60L238.00,227.00L239.40,227.00L239.40,229.90L240.80,229.90L240.80,232.80L241.80,242.40L246.60,242.40L246.60,245.30L250.00,246.30L306.00,246.30L309.00,246.30L309.00,249.10L314.70,251.10L321.50,253.00L327.30,254.00L354.50,254.00" fill="none" stroke="#0000ff" stroke-width="1.25" stroke-linejoin="round"/><circle cx="213.30" cy="160.00" r="1.80" fill="#0000ff"/><circle cx="227.42" cy="221.20" r="1.80" fill="#0000ff"/><circle cx="241.54" cy="232.80" r="1.80" fill="#0000ff"/><circle cx="255.66" cy="246.30" r="1.80" fill="#0000ff"/><circle cx="269.78" cy="246.30" r="1.80" fill="#0000ff"/><circle cx="283.90" cy="246.30" r="1.80" fill="#0000ff"/><circle cx="298.02" cy="246.30" r="1.80" fill="#0000ff"/><circle cx="312.14" cy="249.10" r="1.80" fill="#0000ff"/><circle cx="326.26" cy="253.00" r="1.80" fill="#0000ff"/><circle cx="340.38" cy="254.00" r="1.80" fill="#0000ff"/><path d="M213.30,208.70L214.20,225.00L215.00,231.80L221.60,231.80L221.60,234.60L230.00,236.00L354.50,236.00" fill="none" stroke="#ff00ff" stroke-width="1.25" stroke-linejoin="round"/><circle cx="213.30" cy="208.70" r="1.20" fill="#ff00ff"/><circle cx="227.42" cy="234.60" r="1.20" fill="#ff00ff"/><circle cx="241.54" cy="236.00" r="1.20" fill="#ff00ff"/><circle cx="255.66" cy="236.00" r="1.20" fill="#ff00ff"/><circle cx="269.78" cy="236.00" r="1.20" fill="#ff00ff"/><circle cx="283.90" cy="236.00" r="1.20" fill="#ff00ff"/><circle cx="298.02" cy="236.00" r="1.20" fill="#ff00ff"/><circle cx="312.14" cy="236.00" r="1.20" fill="#ff00ff"/><circle cx="326.26" cy="236.00" r="1.20" fill="#ff00ff"/><circle cx="340.38" cy="236.00" r="1.20" fill="#ff00ff"/><path d="M213.30,161.40L214.00,161.80L233.10,161.80L233.50,164.30L245.70,164.30L246.60,174.00L256.30,175.90L288.70,175.90L289.00,202.90L296.40,202.90L297.40,212.50L300.30,212.50L300.30,215.40L304.10,215.40L304.10,219.30L309.00,220.20L310.00,229.90L354.50,230.40" fill="none" stroke="#00ffff" stroke-width="1.25" stroke-linejoin="round"/><path d="M211.30,163.00L213.30,159.20L215.30,163.00Z" fill="#00ffff"/><path d="M225.42,163.40L227.42,159.60L229.42,163.40Z" fill="#00ffff"/><path d="M239.54,165.90L241.54,162.10L243.54,165.90Z" fill="#00ffff"/><path d="M253.66,175.60L255.66,171.80L257.66,175.60Z" fill="#00ffff"/><path d="M267.78,177.50L269.78,173.70L271.78,177.50Z" fill="#00ffff"/><path d="M281.90,177.50L283.90,173.70L285.90,177.50Z" fill="#00ffff"/><path d="M296.02,214.10L298.02,210.30L300.02,214.10Z" fill="#00ffff"/><path d="M310.14,231.50L312.14,227.70L314.14,231.50Z" fill="#00ffff"/><path d="M324.26,231.50L326.26,227.70L328.26,231.50Z" fill="#00ffff"/><path d="M338.38,231.50L340.38,227.70L342.38,231.50Z" fill="#00ffff"/><path d="M213.30,159.50L214.20,190.00L215.00,201.90L217.70,201.90L218.70,218.30L230.00,218.90L281.00,220.80L344.60,220.80L346.50,223.50L354.50,223.50" fill="none" stroke="#00ff00" stroke-width="1.25" stroke-linejoin="round"/><path d="M211.10,159.50H215.50M213.30,157.30V161.70M211.76,157.96L214.84,161.04M211.76,161.04L214.84,157.96" stroke="#00ff00" stroke-width="0.9" fill="none"/><path d="M225.22,218.30H229.62M227.42,216.10V220.50M225.88,216.76L228.96,219.84M225.88,219.84L228.96,216.76" stroke="#00ff00" stroke-width="0.9" fill="none"/><path d="M239.34,218.90H243.74M241.54,216.70V221.10M240.00,217.36L243.08,220.44M240.00,220.44L243.08,217.36" stroke="#00ff00" stroke-width="0.9" fill="none"/><path d="M253.46,218.90H257.86M255.66,216.70V221.10M254.12,217.36L257.20,220.44M254.12,220.44L257.20,217.36" stroke="#00ff00" stroke-width="0.9" fill="none"/><path d="M267.58,218.90H271.98M269.78,216.70V221.10M268.24,217.36L271.32,220.44M268.24,220.44L271.32,217.36" stroke="#00ff00" stroke-width="0.9" fill="none"/><path d="M281.70,220.80H286.10M283.90,218.60V223.00M282.36,219.26L285.44,222.34M282.36,222.34L285.44,219.26" stroke="#00ff00" stroke-width="0.9" fill="none"/><path d="M295.82,220.80H300.22M298.02,218.60V223.00M296.48,219.26L299.56,222.34M296.48,222.34L299.56,219.26" stroke="#00ff00" stroke-width="0.9" fill="none"/><path d="M309.94,220.80H314.34M312.14,218.60V223.00M310.60,219.26L313.68,222.34M310.60,222.34L313.68,219.26" stroke="#00ff00" stroke-width="0.9" fill="none"/><path d="M324.06,220.80H328.46M326.26,218.60V223.00M324.72,219.26L327.80,222.34M324.72,222.34L327.80,219.26" stroke="#00ff00" stroke-width="0.9" fill="none"/><path d="M338.18,220.80H342.58M340.38,218.60V223.00M338.84,219.26L341.92,222.34M338.84,222.34L341.92,219.26" stroke="#00ff00" stroke-width="0.9" fill="none"/><path d="M213.30,171.00L214.20,230.00L215.50,250.10L219.60,250.10L219.60,253.00L230.00,254.00L300.00,255.90L354.50,255.90" fill="none" stroke="#ff8000" stroke-width="1.25" stroke-linejoin="round"/><rect x="211.60" y="169.30" width="3.40" height="3.40" fill="#ff8000"/><rect x="225.72" y="251.30" width="3.40" height="3.40" fill="#ff8000"/><rect x="239.84" y="252.30" width="3.40" height="3.40" fill="#ff8000"/><rect x="253.96" y="252.30" width="3.40" height="3.40" fill="#ff8000"/><rect x="268.08" y="252.30" width="3.40" height="3.40" fill="#ff8000"/><rect x="282.20" y="252.30" width="3.40" height="3.40" fill="#ff8000"/><rect x="296.32" y="252.30" width="3.40" height="3.40" fill="#ff8000"/><rect x="310.44" y="254.20" width="3.40" height="3.40" fill="#ff8000"/><rect x="324.56" y="254.20" width="3.40" height="3.40" fill="#ff8000"/><rect x="338.68" y="254.20" width="3.40" height="3.40" fill="#ff8000"/><path d="M213.30,170.00L214.20,235.00L215.50,250.50L225.40,250.50L225.40,253.00L235.00,254.40L354.50,256.50" fill="none" stroke="#9400ff" stroke-width="1.25" stroke-linejoin="round"/><circle cx="213.30" cy="170.00" r="1.20" fill="#9400ff"/><circle cx="227.42" cy="253.00" r="1.20" fill="#9400ff"/><circle cx="241.54" cy="254.40" r="1.20" fill="#9400ff"/><circle cx="255.66" cy="254.40" r="1.20" fill="#9400ff"/><circle cx="269.78" cy="254.40" r="1.20" fill="#9400ff"/><circle cx="283.90" cy="254.40" r="1.20" fill="#9400ff"/><circle cx="298.02" cy="254.40" r="1.20" fill="#9400ff"/><circle cx="312.14" cy="254.40" r="1.20" fill="#9400ff"/><circle cx="326.26" cy="254.40" r="1.20" fill="#9400ff"/><circle cx="340.38" cy="254.40" r="1.20" fill="#9400ff"/><path d="M213.30,184.60L214.00,211.50L215.85,211.50L215.85,215.25L217.70,215.25L217.70,219.00L227.40,219.00L227.40,222.20L229.30,228.90L231.20,244.30L240.80,244.30L240.80,248.20L242.80,253.00L254.30,253.00L254.30,255.90L267.80,257.80L354.50,257.80" fill="none" stroke="#008080" stroke-width="1.25" stroke-linejoin="round"/><circle cx="213.30" cy="184.60" r="1.80" fill="#008080"/><circle cx="227.42" cy="222.20" r="1.80" fill="#008080"/><circle cx="241.54" cy="248.20" r="1.80" fill="#008080"/><circle cx="255.66" cy="255.90" r="1.80" fill="#008080"/><circle cx="269.78" cy="257.80" r="1.80" fill="#008080"/><circle cx="283.90" cy="257.80" r="1.80" fill="#008080"/><circle cx="298.02" cy="257.80" r="1.80" fill="#008080"/><circle cx="312.14" cy="257.80" r="1.80" fill="#008080"/><circle cx="326.26" cy="257.80" r="1.80" fill="#008080"/><circle cx="340.38" cy="257.80" r="1.80" fill="#008080"/></g></g>
<rect x="330.2" y="226.6" width="24.30" height="31.80" fill="none" stroke="#505050" stroke-width="0.7"/><path d="M341.7,226.6L331.61,202.91" stroke="#101010" stroke-width="0.7"/><path d="M330.2,199.6L333.08,202.29L330.14,203.54Z" fill="#101010"/><rect x="287.7" y="152.2" width="62.70" height="45.90" fill="#ffffff" stroke="#c8c8c8" stroke-width="0.7"/><rect x="296.4" y="155.6" width="48.20" height="39.60" fill="#ffffff" stroke="#c4c4c4" stroke-width="0.5"/><text x="295.20" y="158.50" font-size="2.6" text-anchor="end" style="fill:#6a6a6a;stroke:none">1000</text><text x="295.20" y="164.30" font-size="2.6" text-anchor="end" style="fill:#6a6a6a;stroke:none">980</text><text x="295.20" y="169.60" font-size="2.6" text-anchor="end" style="fill:#6a6a6a;stroke:none">960</text><text x="295.20" y="175.40" font-size="2.6" text-anchor="end" style="fill:#6a6a6a;stroke:none">940</text><text x="295.20" y="181.60" font-size="2.6" text-anchor="end" style="fill:#6a6a6a;stroke:none">920</text><text x="295.20" y="187.80" font-size="2.6" text-anchor="end" style="fill:#6a6a6a;stroke:none">900</text><text x="299.30" y="198.40" font-size="2.6" text-anchor="middle" style="fill:#6a6a6a;stroke:none">400</text><text x="308.00" y="198.40" font-size="2.6" text-anchor="middle" style="fill:#6a6a6a;stroke:none">420</text><text x="317.60" y="198.40" font-size="2.6" text-anchor="middle" style="fill:#6a6a6a;stroke:none">440</text><text x="327.30" y="198.40" font-size="2.6" text-anchor="middle" style="fill:#6a6a6a;stroke:none">460</text><text x="342.70" y="198.40" font-size="2.6" text-anchor="middle" style="fill:#6a6a6a;stroke:none">500</text><path d="M296.40,190.20L344.60,190.20" fill="none" stroke="#000000" stroke-width="0.75" stroke-opacity="0.7"/><circle cx="320.50" cy="190.20" r="0.8" fill="#000000" fill-opacity="0.8"/><path d="M296.40,183.60L344.60,183.60" fill="none" stroke="#0000ff" stroke-width="0.75" stroke-opacity="0.7"/><circle cx="320.50" cy="183.60" r="0.8" fill="#0000ff" fill-opacity="0.8"/><path d="M296.40,188.60L344.60,188.60" fill="none" stroke="#ff00ff" stroke-width="0.75" stroke-opacity="0.7"/><circle cx="320.50" cy="188.60" r="0.8" fill="#ff00ff" fill-opacity="0.8"/><path d="M296.40,186.90L344.60,186.90" fill="none" stroke="#ff8000" stroke-width="0.75" stroke-opacity="0.7"/><circle cx="320.50" cy="186.90" r="0.8" fill="#ff8000" fill-opacity="0.8"/><path d="M296.40,189.60L344.60,189.60" fill="none" stroke="#9400ff" stroke-width="0.75" stroke-opacity="0.7"/><circle cx="320.50" cy="189.60" r="0.8" fill="#9400ff" fill-opacity="0.8"/><path d="M296.40,193.20L344.60,193.20" fill="none" stroke="#008080" stroke-width="0.75" stroke-opacity="0.7"/><circle cx="320.50" cy="193.20" r="0.8" fill="#008080" fill-opacity="0.8"/>
<defs><clipPath id="cF6"><rect x="393.70" y="146.60" width="150.30" height="114.80"/></clipPath></defs>
<g><rect x="396.70" y="149.60" width="144.30" height="108.80" fill="none" stroke="#bdbdbd" stroke-width="0.75"/><path d="M425.56,258.40v-1.4M425.56,149.60v1.4" stroke="#bdbdbd" stroke-width="0.6"/><text x="425.56" y="267.80" font-size="6.3" text-anchor="middle">100</text><path d="M454.42,258.40v-1.4M454.42,149.60v1.4" stroke="#bdbdbd" stroke-width="0.6"/><text x="454.42" y="267.80" font-size="6.3" text-anchor="middle">200</text><path d="M483.28,258.40v-1.4M483.28,149.60v1.4" stroke="#bdbdbd" stroke-width="0.6"/><text x="483.28" y="267.80" font-size="6.3" text-anchor="middle">300</text><path d="M512.14,258.40v-1.4M512.14,149.60v1.4" stroke="#bdbdbd" stroke-width="0.6"/><text x="512.14" y="267.80" font-size="6.3" text-anchor="middle">400</text><path d="M541.00,258.40v-1.4M541.00,149.60v1.4" stroke="#bdbdbd" stroke-width="0.6"/><text x="541.00" y="267.80" font-size="6.3" text-anchor="middle">500</text><path d="M396.70,176.20h1.4M541.00,176.20h-1.4" stroke="#bdbdbd" stroke-width="0.6"/><text x="391.50" y="178.50" font-size="6.3" text-anchor="end">10</text><text x="391.70" y="175.60" font-size="4.5">8</text><path d="M396.70,212.80h1.4M541.00,212.80h-1.4" stroke="#bdbdbd" stroke-width="0.6"/><text x="391.50" y="215.10" font-size="6.3" text-anchor="end">10</text><text x="391.70" y="212.20" font-size="4.5">6</text><path d="M396.70,249.40h1.4M541.00,249.40h-1.4" stroke="#bdbdbd" stroke-width="0.6"/><text x="391.50" y="251.70" font-size="6.3" text-anchor="end">10</text><text x="391.70" y="248.80" font-size="4.5">4</text><text x="468.85" y="277.20" font-size="7.1" text-anchor="middle">Iteration</text><text x="468.85" y="147.10" font-size="7.7" text-anchor="middle" style="stroke-width:0.22px">F6</text><text transform="translate(382.00,204.00) rotate(-90)" font-size="7.25" text-anchor="middle">Fitness value</text><g clip-path="url(#cF6)"><path d="M396.70,157.60L397.86,157.60L397.86,164.92L399.02,164.92L399.02,172.24L400.18,172.24L400.18,179.56L401.34,179.56L401.34,186.88L402.50,186.88L402.50,194.20L403.95,194.20L403.95,197.10L405.40,197.10L405.40,200.00L408.25,200.00L408.25,203.85L411.10,203.85L411.10,207.70L412.30,209.60L414.20,223.10L415.65,223.10L415.65,227.95L417.10,227.95L417.10,232.80L423.90,232.80L423.90,236.60L425.80,236.60L425.80,240.45L427.70,240.45L427.70,244.30L440.30,245.30L449.90,246.30L457.60,248.20L459.50,251.10L466.00,251.50L471.80,251.50L471.80,254.80L479.50,254.80L479.50,257.60L541.00,257.60" fill="none" stroke="#000000" stroke-width="1.25" stroke-linejoin="round"/><path d="M395.10,155.60L398.90,157.60L395.10,159.60Z" fill="#000000"/><path d="M409.53,205.70L413.33,207.70L409.53,209.70Z" fill="#000000"/><path d="M423.96,234.60L427.76,236.60L423.96,238.60Z" fill="#000000"/><path d="M438.39,242.30L442.19,244.30L438.39,246.30Z" fill="#000000"/><path d="M452.82,244.30L456.62,246.30L452.82,248.30Z" fill="#000000"/><path d="M467.25,249.50L471.05,251.50L467.25,253.50Z" fill="#000000"/><path d="M481.68,255.60L485.48,257.60L481.68,259.60Z" fill="#000000"/><path d="M496.11,255.60L499.91,257.60L496.11,259.60Z" fill="#000000"/><path d="M510.54,255.60L514.34,257.60L510.54,259.60Z" fill="#000000"/><path d="M524.97,255.60L528.77,257.60L524.97,259.60Z" fill="#000000"/><path d="M396.70,152.00L398.50,210.00L400.70,210.00L400.70,214.40L541.00,214.90" fill="none" stroke="#ff0000" stroke-width="1.25" stroke-linejoin="round"/><path d="M396.70,149.40L398.30,152.00L396.70,154.60L395.10,152.00Z" fill="#ff0000"/><path d="M411.13,211.80L412.73,214.40L411.13,217.00L409.53,214.40Z" fill="#ff0000"/><path d="M425.56,211.80L427.16,214.40L425.56,217.00L423.96,214.40Z" fill="#ff0000"/><path d="M439.99,211.80L441.59,214.40L439.99,217.00L438.39,214.40Z" fill="#ff0000"/><path d="M454.42,211.80L456.02,214.40L454.42,217.00L452.82,214.40Z" fill="#ff0000"/><path d="M468.85,211.80L470.45,214.40L468.85,217.00L467.25,214.40Z" fill="#ff0000"/><path d="M483.28,211.80L484.88,214.40L483.28,217.00L481.68,214.40Z" fill="#ff0000"/><path d="M497.71,211.80L499.31,214.40L497.71,217.00L496.11,214.40Z" fill="#ff0000"/><path d="M512.14,211.80L513.74,214.40L512.14,217.00L510.54,214.40Z" fill="#ff0000"/><path d="M526.57,211.80L528.17,214.40L526.57,217.00L524.97,214.40Z" fill="#ff0000"/><path d="M396.70,165.30L401.70,167.00L402.70,183.60L412.30,183.60L413.30,194.20L493.90,194.70L496.80,194.70L496.80,199.90L498.70,207.60L500.60,214.30L503.50,215.00L504.50,224.90L517.00,224.90L518.90,230.70L520.90,240.30L530.50,240.30L532.40,247.10L541.00,247.10" fill="none" stroke="#0000ff" stroke-width="1.25" stroke-linejoin="round"/><circle cx="396.70" cy="165.30" r="1.80" fill="#0000ff"/><circle cx="411.13" cy="183.60" r="1.80" fill="#0000ff"/><circle cx="425.56" cy="194.20" r="1.80" fill="#0000ff"/><circle cx="439.99" cy="194.20" r="1.80" fill="#0000ff"/><circle cx="454.42" cy="194.20" r="1.80" fill="#0000ff"/><circle cx="468.85" cy="194.20" r="1.80" fill="#0000ff"/><circle cx="483.28" cy="194.20" r="1.80" fill="#0000ff"/><circle cx="497.71" cy="199.90" r="1.80" fill="#0000ff"/><circle cx="512.14" cy="224.90" r="1.80" fill="#0000ff"/><circle cx="526.57" cy="240.30" r="1.80" fill="#0000ff"/><path d="M396.70,152.70L403.60,157.60L413.30,162.40L424.80,165.30L440.30,168.20L455.70,169.10L466.00,170.00L541.00,170.10" fill="none" stroke="#ff00ff" stroke-width="1.25" stroke-linejoin="round"/><circle cx="396.70" cy="152.70" r="1.20" fill="#ff00ff"/><circle cx="411.13" cy="161.33" r="1.20" fill="#ff00ff"/><circle cx="425.56" cy="165.44" r="1.20" fill="#ff00ff"/><circle cx="439.99" cy="168.14" r="1.20" fill="#ff00ff"/><circle cx="454.42" cy="169.03" r="1.20" fill="#ff00ff"/><circle cx="468.85" cy="170.00" r="1.20" fill="#ff00ff"/><circle cx="483.28" cy="170.02" r="1.20" fill="#ff00ff"/><circle cx="497.71" cy="170.04" r="1.20" fill="#ff00ff"/><circle cx="512.14" cy="170.06" r="1.20" fill="#ff00ff"/><circle cx="526.57" cy="170.08" r="1.20" fill="#ff00ff"/><path d="M396.70,153.50L398.70,153.50L398.70,156.50L400.70,156.50L400.70,159.50L404.60,159.50L404.60,162.40L408.50,162.40L408.50,165.30L411.40,165.30L411.40,169.10L433.50,169.10L434.50,178.80L449.00,178.80L450.00,182.60L463.40,183.50L466.00,183.50L468.90,183.50L468.90,187.40L482.40,187.40L484.30,192.20L488.65,192.20L488.65,195.60L493.00,195.60L493.00,199.00L494.90,214.30L541.00,214.90" fill="none" stroke="#00ffff" stroke-width="1.25" stroke-linejoin="round"/><path d="M394.70,155.10L396.70,151.30L398.70,155.10Z" fill="#00ffff"/><path d="M409.13,166.90L411.13,163.10L413.13,166.90Z" fill="#00ffff"/><path d="M423.56,170.70L425.56,166.90L427.56,170.70Z" fill="#00ffff"/><path d="M437.99,180.40L439.99,176.60L441.99,180.40Z" fill="#00ffff"/><path d="M452.42,184.20L454.42,180.40L456.42,184.20Z" fill="#00ffff"/><path d="M466.85,185.10L468.85,181.30L470.85,185.10Z" fill="#00ffff"/><path d="M481.28,189.00L483.28,185.20L485.28,189.00Z" fill="#00ffff"/><path d="M495.71,215.90L497.71,212.10L499.71,215.90Z" fill="#00ffff"/><path d="M510.14,215.90L512.14,212.10L514.14,215.90Z" fill="#00ffff"/><path d="M524.57,215.90L526.57,212.10L528.57,215.90Z" fill="#00ffff"/><path d="M396.70,149.90L397.75,149.90L397.75,178.80L398.80,178.80L398.80,207.70L400.00,208.70L453.80,208.70L455.70,210.60L462.40,210.60L464.40,222.20L468.90,222.60L470.10,222.60L470.10,227.03L471.30,227.03L471.30,231.45L472.50,231.45L472.50,235.88L473.70,235.88L473.70,240.30L483.30,242.20L484.60,242.20L484.60,245.43L485.90,245.43L485.90,248.67L487.20,248.67L487.20,251.90L498.70,253.80L512.20,255.70L541.00,256.70" fill="none" stroke="#00ff00" stroke-width="1.25" stroke-linejoin="round"/><path d="M394.50,149.90H398.90M396.70,147.70V152.10M395.16,148.36L398.24,151.44M395.16,151.44L398.24,148.36" stroke="#00ff00" stroke-width="0.9" fill="none"/><path d="M408.93,208.70H413.33M411.13,206.50V210.90M409.59,207.16L412.67,210.24M409.59,210.24L412.67,207.16" stroke="#00ff00" stroke-width="0.9" fill="none"/><path d="M423.36,208.70H427.76M425.56,206.50V210.90M424.02,207.16L427.10,210.24M424.02,210.24L427.10,207.16" stroke="#00ff00" stroke-width="0.9" fill="none"/><path d="M437.79,208.70H442.19M439.99,206.50V210.90M438.45,207.16L441.53,210.24M438.45,210.24L441.53,207.16" stroke="#00ff00" stroke-width="0.9" fill="none"/><path d="M452.22,208.70H456.62M454.42,206.50V210.90M452.88,207.16L455.96,210.24M452.88,210.24L455.96,207.16" stroke="#00ff00" stroke-width="0.9" fill="none"/><path d="M466.65,222.20H471.05M468.85,220.00V224.40M467.31,220.66L470.39,223.74M467.31,223.74L470.39,220.66" stroke="#00ff00" stroke-width="0.9" fill="none"/><path d="M481.08,240.30H485.48M483.28,238.10V242.50M481.74,238.76L484.82,241.84M481.74,241.84L484.82,238.76" stroke="#00ff00" stroke-width="0.9" fill="none"/><path d="M495.51,251.90H499.91M497.71,249.70V254.10M496.17,250.36L499.25,253.44M496.17,253.44L499.25,250.36" stroke="#00ff00" stroke-width="0.9" fill="none"/><path d="M509.94,253.80H514.34M512.14,251.60V256.00M510.60,252.26L513.68,255.34M510.60,255.34L513.68,252.26" stroke="#00ff00" stroke-width="0.9" fill="none"/><path d="M524.37,255.70H528.77M526.57,253.50V257.90M525.03,254.16L528.11,257.24M525.03,257.24L528.11,254.16" stroke="#00ff00" stroke-width="0.9" fill="none"/><path d="M396.70,161.00L398.50,205.00L399.60,205.00L399.60,208.25L400.70,208.25L400.70,211.50L411.40,213.50L413.80,213.50L413.80,216.85L416.20,216.85L416.20,220.20L439.30,220.20L441.20,223.10L487.20,223.00L497.00,224.90L512.20,227.80L516.00,228.80L519.90,230.70L522.30,230.70L522.30,233.60L524.70,233.60L524.70,236.50L529.50,236.50L529.50,240.30L532.40,240.30L532.40,243.20L535.30,243.20L535.30,246.10L541.00,246.10L541.00,249.00" fill="none" stroke="#ff8000" stroke-width="1.25" stroke-linejoin="round"/><rect x="395.00" y="159.30" width="3.40" height="3.40" fill="#ff8000"/><rect x="409.43" y="209.80" width="3.40" height="3.40" fill="#ff8000"/><rect x="423.86" y="218.50" width="3.40" height="3.40" fill="#ff8000"/><rect x="438.29" y="218.50" width="3.40" height="3.40" fill="#ff8000"/><rect x="452.72" y="221.40" width="3.40" height="3.40" fill="#ff8000"/><rect x="467.15" y="221.40" width="3.40" height="3.40" fill="#ff8000"/><rect x="481.58" y="221.40" width="3.40" height="3.40" fill="#ff8000"/><rect x="496.01" y="223.20" width="3.40" height="3.40" fill="#ff8000"/><rect x="510.44" y="223.20" width="3.40" height="3.40" fill="#ff8000"/><rect x="524.87" y="234.80" width="3.40" height="3.40" fill="#ff8000"/><path d="M396.70,155.00L397.75,155.00L397.75,173.65L398.80,173.65L398.80,192.30L401.70,192.30L401.70,197.00L403.97,197.00L403.97,200.57L406.23,200.57L406.23,204.13L408.50,204.13L408.50,207.70L453.80,207.70L454.70,211.50L466.00,212.80L493.00,213.00L495.80,214.30L497.80,224.90L512.20,225.30L516.00,226.80L518.90,226.80L518.90,229.70L533.40,229.70L535.30,234.50L537.20,240.30L539.10,247.10L541.00,247.10" fill="none" stroke="#9400ff" stroke-width="1.25" stroke-linejoin="round"/><circle cx="396.70" cy="155.00" r="1.20" fill="#9400ff"/><circle cx="411.13" cy="207.70" r="1.20" fill="#9400ff"/><circle cx="425.56" cy="207.70" r="1.20" fill="#9400ff"/><circle cx="439.99" cy="207.70" r="1.20" fill="#9400ff"/><circle cx="454.42" cy="207.70" r="1.20" fill="#9400ff"/><circle cx="468.85" cy="212.80" r="1.20" fill="#9400ff"/><circle cx="483.28" cy="212.80" r="1.20" fill="#9400ff"/><circle cx="497.71" cy="214.30" r="1.20" fill="#9400ff"/><circle cx="512.14" cy="224.90" r="1.20" fill="#9400ff"/><circle cx="526.57" cy="229.70" r="1.20" fill="#9400ff"/><path d="M396.70,150.80L397.75,150.80L397.75,167.70L398.80,167.70L398.80,184.60L401.20,184.60L401.20,188.45L403.60,188.45L403.60,192.30L406.05,192.30L406.05,195.20L408.50,195.20L408.50,198.10L425.80,199.00L427.70,201.90L430.60,201.90L430.60,205.70L432.60,217.30L440.30,217.30L440.30,220.20L441.75,220.20L441.75,224.55L443.20,224.55L443.20,228.90L444.65,228.90L444.65,232.75L446.10,232.75L446.10,236.60L447.55,236.60L447.55,241.45L449.00,241.45L449.00,246.30L457.60,247.20L460.50,247.20L460.50,250.10L466.00,250.90L541.00,250.90" fill="none" stroke="#008080" stroke-width="1.25" stroke-linejoin="round"/><circle cx="396.70" cy="150.80" r="1.80" fill="#008080"/><circle cx="411.13" cy="198.10" r="1.80" fill="#008080"/><circle cx="425.56" cy="198.10" r="1.80" fill="#008080"/><circle cx="439.99" cy="217.30" r="1.80" fill="#008080"/><circle cx="454.42" cy="246.30" r="1.80" fill="#008080"/><circle cx="468.85" cy="250.90" r="1.80" fill="#008080"/><circle cx="483.28" cy="250.90" r="1.80" fill="#008080"/><circle cx="497.71" cy="250.90" r="1.80" fill="#008080"/><circle cx="512.14" cy="250.90" r="1.80" fill="#008080"/><circle cx="526.57" cy="250.90" r="1.80" fill="#008080"/></g></g>
<defs><clipPath id="cF7"><rect x="27.20" y="287.60" width="147.00" height="114.20"/></clipPath></defs>
<g><rect x="30.20" y="290.60" width="141.00" height="108.20" fill="none" stroke="#bdbdbd" stroke-width="0.75"/><path d="M58.40,398.80v-1.4M58.40,290.60v1.4" stroke="#bdbdbd" stroke-width="0.6"/><text x="58.40" y="408.20" font-size="6.3" text-anchor="middle">100</text><path d="M86.60,398.80v-1.4M86.60,290.60v1.4" stroke="#bdbdbd" stroke-width="0.6"/><text x="86.60" y="408.20" font-size="6.3" text-anchor="middle">200</text><path d="M114.80,398.80v-1.4M114.80,290.60v1.4" stroke="#bdbdbd" stroke-width="0.6"/><text x="114.80" y="408.20" font-size="6.3" text-anchor="middle">300</text><path d="M143.00,398.80v-1.4M143.00,290.60v1.4" stroke="#bdbdbd" stroke-width="0.6"/><text x="143.00" y="408.20" font-size="6.3" text-anchor="middle">400</text><path d="M171.20,398.80v-1.4M171.20,290.60v1.4" stroke="#bdbdbd" stroke-width="0.6"/><text x="171.20" y="408.20" font-size="6.3" text-anchor="middle">500</text><path d="M30.20,390.40h1.4M171.20,390.40h-1.4" stroke="#bdbdbd" stroke-width="0.6"/><text x="27.20" y="392.70" font-size="6.3" text-anchor="end">2050</text><path d="M30.20,375.95h1.4M171.20,375.95h-1.4" stroke="#bdbdbd" stroke-width="0.6"/><text x="27.20" y="378.25" font-size="6.3" text-anchor="end">2100</text><path d="M30.20,361.50h1.4M171.20,361.50h-1.4" stroke="#bdbdbd" stroke-width="0.6"/><text x="27.20" y="363.80" font-size="6.3" text-anchor="end">2150</text><path d="M30.20,347.05h1.4M171.20,347.05h-1.4" stroke="#bdbdbd" stroke-width="0.6"/><text x="27.20" y="349.35" font-size="6.3" text-anchor="end">2200</text><path d="M30.20,332.60h1.4M171.20,332.60h-1.4" stroke="#bdbdbd" stroke-width="0.6"/><text x="27.20" y="334.90" font-size="6.3" text-anchor="end">2250</text><path d="M30.20,318.15h1.4M171.20,318.15h-1.4" stroke="#bdbdbd" stroke-width="0.6"/><text x="27.20" y="320.45" font-size="6.3" text-anchor="end">2300</text><path d="M30.20,303.70h1.4M171.20,303.70h-1.4" stroke="#bdbdbd" stroke-width="0.6"/><text x="27.20" y="306.00" font-size="6.3" text-anchor="end">2350</text><text x="100.70" y="416.90" font-size="7.1" text-anchor="middle">Iteration</text><text x="100.70" y="288.10" font-size="7.7" text-anchor="middle" style="stroke-width:0.22px">F7</text><text transform="translate(10.80,344.70) rotate(-90)" font-size="7.25" text-anchor="middle">Fitness value</text><g clip-path="url(#cF7)"><path d="M30.20,306.30L32.00,364.10L33.80,371.80L35.25,371.80L35.25,376.65L36.70,376.65L36.70,381.50L38.63,381.50L38.63,384.70L40.57,384.70L40.57,387.90L42.50,387.90L42.50,391.10L45.40,392.60L73.30,392.60L76.20,392.60L76.20,395.90L85.80,397.90L171.20,398.20" fill="none" stroke="#000000" stroke-width="1.25" stroke-linejoin="round"/><path d="M28.60,304.30L32.40,306.30L28.60,308.30Z" fill="#000000"/><path d="M42.70,389.10L46.50,391.10L42.70,393.10Z" fill="#000000"/><path d="M56.80,390.60L60.60,392.60L56.80,394.60Z" fill="#000000"/><path d="M70.90,390.60L74.70,392.60L70.90,394.60Z" fill="#000000"/><path d="M85.00,395.90L88.80,397.90L85.00,399.90Z" fill="#000000"/><path d="M99.10,395.90L102.90,397.90L99.10,399.90Z" fill="#000000"/><path d="M113.20,395.90L117.00,397.90L113.20,399.90Z" fill="#000000"/><path d="M127.30,395.90L131.10,397.90L127.30,399.90Z" fill="#000000"/><path d="M141.40,395.90L145.20,397.90L141.40,399.90Z" fill="#000000"/><path d="M155.50,395.90L159.30,397.90L155.50,399.90Z" fill="#000000"/><path d="M30.20,360.00L32.00,372.00L33.80,376.60L58.80,377.60L62.00,379.20L171.20,379.20" fill="none" stroke="#ff0000" stroke-width="1.25" stroke-linejoin="round"/><path d="M30.20,357.40L31.80,360.00L30.20,362.60L28.60,360.00Z" fill="#ff0000"/><path d="M44.30,374.00L45.90,376.60L44.30,379.20L42.70,376.60Z" fill="#ff0000"/><path d="M58.40,374.00L60.00,376.60L58.40,379.20L56.80,376.60Z" fill="#ff0000"/><path d="M72.50,376.60L74.10,379.20L72.50,381.80L70.90,379.20Z" fill="#ff0000"/><path d="M86.60,376.60L88.20,379.20L86.60,381.80L85.00,379.20Z" fill="#ff0000"/><path d="M100.70,376.60L102.30,379.20L100.70,381.80L99.10,379.20Z" fill="#ff0000"/><path d="M114.80,376.60L116.40,379.20L114.80,381.80L113.20,379.20Z" fill="#ff0000"/><path d="M128.90,376.60L130.50,379.20L128.90,381.80L127.30,379.20Z" fill="#ff0000"/><path d="M143.00,376.60L144.60,379.20L143.00,381.80L141.40,379.20Z" fill="#ff0000"/><path d="M157.10,376.60L158.70,379.20L157.10,381.80L155.50,379.20Z" fill="#ff0000"/><path d="M30.20,350.00L32.00,361.20L36.70,361.20L36.70,364.10L41.50,366.00L43.40,368.00L44.85,368.00L44.85,371.35L46.30,371.35L46.30,374.70L56.90,375.70L58.80,379.20L124.00,379.20L125.00,385.30L130.80,386.30L134.60,387.30L143.30,388.20L171.20,388.80" fill="none" stroke="#0000ff" stroke-width="1.25" stroke-linejoin="round"/><circle cx="30.20" cy="350.00" r="1.80" fill="#0000ff"/><circle cx="44.30" cy="368.00" r="1.80" fill="#0000ff"/><circle cx="58.40" cy="375.70" r="1.80" fill="#0000ff"/><circle cx="72.50" cy="379.20" r="1.80" fill="#0000ff"/><circle cx="86.60" cy="379.20" r="1.80" fill="#0000ff"/><circle cx="100.70" cy="379.20" r="1.80" fill="#0000ff"/><circle cx="114.80" cy="379.20" r="1.80" fill="#0000ff"/><circle cx="128.90" cy="385.30" r="1.80" fill="#0000ff"/><circle cx="143.00" cy="387.30" r="1.80" fill="#0000ff"/><circle cx="157.10" cy="388.20" r="1.80" fill="#0000ff"/><path d="M30.20,379.50L32.00,381.50L34.00,383.40L171.20,384.00" fill="none" stroke="#ff00ff" stroke-width="1.25" stroke-linejoin="round"/><circle cx="30.20" cy="379.50" r="1.20" fill="#ff00ff"/><circle cx="44.30" cy="383.40" r="1.20" fill="#ff00ff"/><circle cx="58.40" cy="383.40" r="1.20" fill="#ff00ff"/><circle cx="72.50" cy="383.40" r="1.20" fill="#ff00ff"/><circle cx="86.60" cy="383.40" r="1.20" fill="#ff00ff"/><circle cx="100.70" cy="383.40" r="1.20" fill="#ff00ff"/><circle cx="114.80" cy="383.40" r="1.20" fill="#ff00ff"/><circle cx="128.90" cy="383.40" r="1.20" fill="#ff00ff"/><circle cx="143.00" cy="383.40" r="1.20" fill="#ff00ff"/><circle cx="157.10" cy="383.40" r="1.20" fill="#ff00ff"/><path d="M30.20,290.90L31.90,306.30L34.70,306.30L36.70,314.00L38.60,317.80L51.10,318.80L53.00,323.60L56.00,323.60L57.40,323.60L57.40,327.00L58.80,327.00L58.80,330.40L60.80,330.40L61.70,354.50L72.30,354.90L80.00,356.40L82.90,356.40L82.90,361.20L86.80,361.20L86.80,364.10L91.60,364.10L91.60,368.00L95.50,368.00L95.50,371.80L100.00,372.80L111.50,372.80L113.40,386.30L126.00,387.30L127.00,392.10L171.20,392.60" fill="none" stroke="#00ffff" stroke-width="1.25" stroke-linejoin="round"/><path d="M28.20,292.50L30.20,288.70L32.20,292.50Z" fill="#00ffff"/><path d="M42.30,319.40L44.30,315.60L46.30,319.40Z" fill="#00ffff"/><path d="M56.40,328.60L58.40,324.80L60.40,328.60Z" fill="#00ffff"/><path d="M70.50,356.50L72.50,352.70L74.50,356.50Z" fill="#00ffff"/><path d="M84.60,362.80L86.60,359.00L88.60,362.80Z" fill="#00ffff"/><path d="M98.70,374.40L100.70,370.60L102.70,374.40Z" fill="#00ffff"/><path d="M112.80,387.90L114.80,384.10L116.80,387.90Z" fill="#00ffff"/><path d="M126.90,393.70L128.90,389.90L130.90,393.70Z" fill="#00ffff"/><path d="M141.00,393.70L143.00,389.90L145.00,393.70Z" fill="#00ffff"/><path d="M155.10,393.70L157.10,389.90L159.10,393.70Z" fill="#00ffff"/><path d="M30.20,321.30L32.00,377.60L39.60,379.50L45.40,381.50L68.50,381.50L69.95,381.50L69.95,384.40L71.40,384.40L71.40,387.30L74.30,387.30L74.30,391.10L134.60,393.00L171.20,393.00" fill="none" stroke="#00ff00" stroke-width="1.25" stroke-linejoin="round"/><path d="M28.00,321.30H32.40M30.20,319.10V323.50M28.66,319.76L31.74,322.84M28.66,322.84L31.74,319.76" stroke="#00ff00" stroke-width="0.9" fill="none"/><path d="M42.10,379.50H46.50M44.30,377.30V381.70M42.76,377.96L45.84,381.04M42.76,381.04L45.84,377.96" stroke="#00ff00" stroke-width="0.9" fill="none"/><path d="M56.20,381.50H60.60M58.40,379.30V383.70M56.86,379.96L59.94,383.04M56.86,383.04L59.94,379.96" stroke="#00ff00" stroke-width="0.9" fill="none"/><path d="M70.30,387.30H74.70M72.50,385.10V389.50M70.96,385.76L74.04,388.84M70.96,388.84L74.04,385.76" stroke="#00ff00" stroke-width="0.9" fill="none"/><path d="M84.40,391.10H88.80M86.60,388.90V393.30M85.06,389.56L88.14,392.64M85.06,392.64L88.14,389.56" stroke="#00ff00" stroke-width="0.9" fill="none"/><path d="M98.50,391.10H102.90M100.70,388.90V393.30M99.16,389.56L102.24,392.64M99.16,392.64L102.24,389.56" stroke="#00ff00" stroke-width="0.9" fill="none"/><path d="M112.60,391.10H117.00M114.80,388.90V393.30M113.26,389.56L116.34,392.64M113.26,392.64L116.34,389.56" stroke="#00ff00" stroke-width="0.9" fill="none"/><path d="M126.70,391.10H131.10M128.90,388.90V393.30M127.36,389.56L130.44,392.64M127.36,392.64L130.44,389.56" stroke="#00ff00" stroke-width="0.9" fill="none"/><path d="M140.80,393.00H145.20M143.00,390.80V395.20M141.46,391.46L144.54,394.54M141.46,394.54L144.54,391.46" stroke="#00ff00" stroke-width="0.9" fill="none"/><path d="M154.90,393.00H159.30M157.10,390.80V395.20M155.56,391.46L158.64,394.54M155.56,394.54L158.64,391.46" stroke="#00ff00" stroke-width="0.9" fill="none"/><path d="M30.20,346.80L32.00,375.70L34.80,375.70L34.80,379.05L37.60,379.05L37.60,382.40L46.30,382.40L46.30,387.30L49.20,387.30L49.20,391.10L134.60,392.60L136.50,394.00L171.20,394.50" fill="none" stroke="#ff8000" stroke-width="1.25" stroke-linejoin="round"/><rect x="28.50" y="345.10" width="3.40" height="3.40" fill="#ff8000"/><rect x="42.60" y="380.70" width="3.40" height="3.40" fill="#ff8000"/><rect x="56.70" y="389.40" width="3.40" height="3.40" fill="#ff8000"/><rect x="70.80" y="389.40" width="3.40" height="3.40" fill="#ff8000"/><rect x="84.90" y="389.40" width="3.40" height="3.40" fill="#ff8000"/><rect x="99.00" y="389.40" width="3.40" height="3.40" fill="#ff8000"/><rect x="113.10" y="389.40" width="3.40" height="3.40" fill="#ff8000"/><rect x="127.20" y="389.40" width="3.40" height="3.40" fill="#ff8000"/><rect x="141.30" y="392.30" width="3.40" height="3.40" fill="#ff8000"/><rect x="155.40" y="392.30" width="3.40" height="3.40" fill="#ff8000"/><path d="M30.20,297.60L32.00,371.80L33.23,371.80L33.23,375.67L34.47,375.67L34.47,379.53L35.70,379.53L35.70,383.40L47.30,383.40L47.30,387.30L48.00,388.20L80.00,388.20L82.00,391.10L100.00,393.00L160.00,396.00L171.20,397.30" fill="none" stroke="#9400ff" stroke-width="1.25" stroke-linejoin="round"/><circle cx="30.20" cy="297.60" r="1.20" fill="#9400ff"/><circle cx="44.30" cy="383.40" r="1.20" fill="#9400ff"/><circle cx="58.40" cy="388.20" r="1.20" fill="#9400ff"/><circle cx="72.50" cy="388.20" r="1.20" fill="#9400ff"/><circle cx="86.60" cy="391.10" r="1.20" fill="#9400ff"/><circle cx="100.70" cy="393.00" r="1.20" fill="#9400ff"/><circle cx="114.80" cy="393.00" r="1.20" fill="#9400ff"/><circle cx="128.90" cy="393.00" r="1.20" fill="#9400ff"/><circle cx="143.00" cy="393.00" r="1.20" fill="#9400ff"/><circle cx="157.10" cy="393.00" r="1.20" fill="#9400ff"/><path d="M30.20,332.30L32.00,366.00L33.80,375.70L36.70,375.70L36.70,378.60L39.60,378.60L39.60,381.50L45.40,381.50L45.40,385.30L47.30,390.10L56.90,391.10L72.30,391.10L72.30,395.00L100.00,395.90L171.20,395.90" fill="none" stroke="#008080" stroke-width="1.25" stroke-linejoin="round"/><circle cx="30.20" cy="332.30" r="1.80" fill="#008080"/><circle cx="44.30" cy="381.50" r="1.80" fill="#008080"/><circle cx="58.40" cy="391.10" r="1.80" fill="#008080"/><circle cx="72.50" cy="395.00" r="1.80" fill="#008080"/><circle cx="86.60" cy="395.00" r="1.80" fill="#008080"/><circle cx="100.70" cy="395.90" r="1.80" fill="#008080"/><circle cx="114.80" cy="395.90" r="1.80" fill="#008080"/><circle cx="128.90" cy="395.90" r="1.80" fill="#008080"/><circle cx="143.00" cy="395.90" r="1.80" fill="#008080"/><circle cx="157.10" cy="395.90" r="1.80" fill="#008080"/></g></g>
<defs><clipPath id="cF8"><rect x="213.30" y="287.60" width="147.00" height="114.20"/></clipPath></defs>
<g><rect x="216.30" y="290.60" width="141.00" height="108.20" fill="none" stroke="#bdbdbd" stroke-width="0.75"/><path d="M244.50,398.80v-1.4M244.50,290.60v1.4" stroke="#bdbdbd" stroke-width="0.6"/><text x="244.50" y="408.20" font-size="6.3" text-anchor="middle">100</text><path d="M272.70,398.80v-1.4M272.70,290.60v1.4" stroke="#bdbdbd" stroke-width="0.6"/><text x="272.70" y="408.20" font-size="6.3" text-anchor="middle">200</text><path d="M300.90,398.80v-1.4M300.90,290.60v1.4" stroke="#bdbdbd" stroke-width="0.6"/><text x="300.90" y="408.20" font-size="6.3" text-anchor="middle">300</text><path d="M329.10,398.80v-1.4M329.10,290.60v1.4" stroke="#bdbdbd" stroke-width="0.6"/><text x="329.10" y="408.20" font-size="6.3" text-anchor="middle">400</text><path d="M357.30,398.80v-1.4M357.30,290.60v1.4" stroke="#bdbdbd" stroke-width="0.6"/><text x="357.30" y="408.20" font-size="6.3" text-anchor="middle">500</text><path d="M216.30,383.40h1.4M357.30,383.40h-1.4" stroke="#bdbdbd" stroke-width="0.6"/><text x="213.30" y="385.70" font-size="6.3" text-anchor="end">2400</text><path d="M216.30,366.82h1.4M357.30,366.82h-1.4" stroke="#bdbdbd" stroke-width="0.6"/><text x="213.30" y="369.12" font-size="6.3" text-anchor="end">2600</text><path d="M216.30,351.47h1.4M357.30,351.47h-1.4" stroke="#bdbdbd" stroke-width="0.6"/><text x="213.30" y="353.77" font-size="6.3" text-anchor="end">2800</text><path d="M216.30,337.17h1.4M357.30,337.17h-1.4" stroke="#bdbdbd" stroke-width="0.6"/><text x="213.30" y="339.47" font-size="6.3" text-anchor="end">3000</text><path d="M216.30,323.80h1.4M357.30,323.80h-1.4" stroke="#bdbdbd" stroke-width="0.6"/><text x="213.30" y="326.10" font-size="6.3" text-anchor="end">3200</text><path d="M216.30,311.25h1.4M357.30,311.25h-1.4" stroke="#bdbdbd" stroke-width="0.6"/><text x="213.30" y="313.55" font-size="6.3" text-anchor="end">3400</text><path d="M216.30,299.40h1.4M357.30,299.40h-1.4" stroke="#bdbdbd" stroke-width="0.6"/><text x="213.30" y="301.70" font-size="6.3" text-anchor="end">3600</text><text x="286.80" y="416.90" font-size="7.1" text-anchor="middle">Iteration</text><text x="286.80" y="288.10" font-size="7.7" text-anchor="middle" style="stroke-width:0.22px">F8</text><text transform="translate(196.70,344.70) rotate(-90)" font-size="7.25" text-anchor="middle">Fitness value</text><g clip-path="url(#cF8)"><path d="M216.30,355.00L217.90,393.00L219.80,396.00L230.00,396.50L357.30,396.90" fill="none" stroke="#000000" stroke-width="1.25" stroke-linejoin="round"/><path d="M214.70,353.00L218.50,355.00L214.70,357.00Z" fill="#000000"/><path d="M228.80,394.50L232.60,396.50L228.80,398.50Z" fill="#000000"/><path d="M242.90,394.50L246.70,396.50L242.90,398.50Z" fill="#000000"/><path d="M257.00,394.50L260.80,396.50L257.00,398.50Z" fill="#000000"/><path d="M271.10,394.50L274.90,396.50L271.10,398.50Z" fill="#000000"/><path d="M285.20,394.50L289.00,396.50L285.20,398.50Z" fill="#000000"/><path d="M299.30,394.50L303.10,396.50L299.30,398.50Z" fill="#000000"/><path d="M313.40,394.50L317.20,396.50L313.40,398.50Z" fill="#000000"/><path d="M327.50,394.50L331.30,396.50L327.50,398.50Z" fill="#000000"/><path d="M341.60,394.50L345.40,396.50L341.60,398.50Z" fill="#000000"/><path d="M216.30,379.50L217.90,394.00L219.80,397.50L357.30,397.90" fill="none" stroke="#ff0000" stroke-width="1.25" stroke-linejoin="round"/><path d="M216.30,376.90L217.90,379.50L216.30,382.10L214.70,379.50Z" fill="#ff0000"/><path d="M230.40,394.90L232.00,397.50L230.40,400.10L228.80,397.50Z" fill="#ff0000"/><path d="M244.50,394.90L246.10,397.50L244.50,400.10L242.90,397.50Z" fill="#ff0000"/><path d="M258.60,394.90L260.20,397.50L258.60,400.10L257.00,397.50Z" fill="#ff0000"/><path d="M272.70,394.90L274.30,397.50L272.70,400.10L271.10,397.50Z" fill="#ff0000"/><path d="M286.80,394.90L288.40,397.50L286.80,400.10L285.20,397.50Z" fill="#ff0000"/><path d="M300.90,394.90L302.50,397.50L300.90,400.10L299.30,397.50Z" fill="#ff0000"/><path d="M315.00,394.90L316.60,397.50L315.00,400.10L313.40,397.50Z" fill="#ff0000"/><path d="M329.10,394.90L330.70,397.50L329.10,400.10L327.50,397.50Z" fill="#ff0000"/><path d="M343.20,394.90L344.80,397.50L343.20,400.10L341.60,397.50Z" fill="#ff0000"/><path d="M216.30,354.50L217.90,395.00L230.00,396.00L300.00,396.00L310.00,396.50L357.30,396.50" fill="none" stroke="#0000ff" stroke-width="1.25" stroke-linejoin="round"/><circle cx="216.30" cy="354.50" r="1.80" fill="#0000ff"/><circle cx="230.40" cy="396.00" r="1.80" fill="#0000ff"/><circle cx="244.50" cy="396.00" r="1.80" fill="#0000ff"/><circle cx="258.60" cy="396.00" r="1.80" fill="#0000ff"/><circle cx="272.70" cy="396.00" r="1.80" fill="#0000ff"/><circle cx="286.80" cy="396.00" r="1.80" fill="#0000ff"/><circle cx="300.90" cy="396.00" r="1.80" fill="#0000ff"/><circle cx="315.00" cy="396.50" r="1.80" fill="#0000ff"/><circle cx="329.10" cy="396.50" r="1.80" fill="#0000ff"/><circle cx="343.20" cy="396.50" r="1.80" fill="#0000ff"/><path d="M216.30,290.50L217.90,344.80L219.80,368.00L221.25,368.00L221.25,370.90L222.70,370.90L222.70,373.80L229.40,375.70L240.00,376.10L343.80,376.10L347.60,376.10L347.60,378.60L357.30,378.60" fill="none" stroke="#ff00ff" stroke-width="1.25" stroke-linejoin="round"/><circle cx="216.30" cy="290.50" r="1.20" fill="#ff00ff"/><circle cx="230.40" cy="375.70" r="1.20" fill="#ff00ff"/><circle cx="244.50" cy="376.10" r="1.20" fill="#ff00ff"/><circle cx="258.60" cy="376.10" r="1.20" fill="#ff00ff"/><circle cx="272.70" cy="376.10" r="1.20" fill="#ff00ff"/><circle cx="286.80" cy="376.10" r="1.20" fill="#ff00ff"/><circle cx="300.90" cy="376.10" r="1.20" fill="#ff00ff"/><circle cx="315.00" cy="376.10" r="1.20" fill="#ff00ff"/><circle cx="329.10" cy="376.10" r="1.20" fill="#ff00ff"/><circle cx="343.20" cy="376.10" r="1.20" fill="#ff00ff"/><path d="M216.30,392.10L218.00,392.10L269.00,392.10L270.00,394.00L357.30,395.50" fill="none" stroke="#00ffff" stroke-width="1.25" stroke-linejoin="round"/><path d="M214.30,393.70L216.30,389.90L218.30,393.70Z" fill="#00ffff"/><path d="M228.40,393.70L230.40,389.90L232.40,393.70Z" fill="#00ffff"/><path d="M242.50,393.70L244.50,389.90L246.50,393.70Z" fill="#00ffff"/><path d="M256.60,393.70L258.60,389.90L260.60,393.70Z" fill="#00ffff"/><path d="M270.70,395.60L272.70,391.80L274.70,395.60Z" fill="#00ffff"/><path d="M284.80,395.60L286.80,391.80L288.80,395.60Z" fill="#00ffff"/><path d="M298.90,395.60L300.90,391.80L302.90,395.60Z" fill="#00ffff"/><path d="M313.00,395.60L315.00,391.80L317.00,395.60Z" fill="#00ffff"/><path d="M327.10,395.60L329.10,391.80L331.10,395.60Z" fill="#00ffff"/><path d="M341.20,395.60L343.20,391.80L345.20,395.60Z" fill="#00ffff"/><path d="M216.30,389.20L218.00,393.50L357.30,393.40" fill="none" stroke="#00ff00" stroke-width="1.25" stroke-linejoin="round"/><path d="M214.10,389.20H218.50M216.30,387.00V391.40M214.76,387.66L217.84,390.74M214.76,390.74L217.84,387.66" stroke="#00ff00" stroke-width="0.9" fill="none"/><path d="M228.20,393.50H232.60M230.40,391.30V395.70M228.86,391.96L231.94,395.04M228.86,395.04L231.94,391.96" stroke="#00ff00" stroke-width="0.9" fill="none"/><path d="M242.30,393.50H246.70M244.50,391.30V395.70M242.96,391.96L246.04,395.04M242.96,395.04L246.04,391.96" stroke="#00ff00" stroke-width="0.9" fill="none"/><path d="M256.40,393.50H260.80M258.60,391.30V395.70M257.06,391.96L260.14,395.04M257.06,395.04L260.14,391.96" stroke="#00ff00" stroke-width="0.9" fill="none"/><path d="M270.50,393.50H274.90M272.70,391.30V395.70M271.16,391.96L274.24,395.04M271.16,395.04L274.24,391.96" stroke="#00ff00" stroke-width="0.9" fill="none"/><path d="M284.60,393.50H289.00M286.80,391.30V395.70M285.26,391.96L288.34,395.04M285.26,395.04L288.34,391.96" stroke="#00ff00" stroke-width="0.9" fill="none"/><path d="M298.70,393.50H303.10M300.90,391.30V395.70M299.36,391.96L302.44,395.04M299.36,395.04L302.44,391.96" stroke="#00ff00" stroke-width="0.9" fill="none"/><path d="M312.80,393.50H317.20M315.00,391.30V395.70M313.46,391.96L316.54,395.04M313.46,395.04L316.54,391.96" stroke="#00ff00" stroke-width="0.9" fill="none"/><path d="M326.90,393.50H331.30M329.10,391.30V395.70M327.56,391.96L330.64,395.04M327.56,395.04L330.64,391.96" stroke="#00ff00" stroke-width="0.9" fill="none"/><path d="M341.00,393.50H345.40M343.20,391.30V395.70M341.66,391.96L344.74,395.04M341.66,395.04L344.74,391.96" stroke="#00ff00" stroke-width="0.9" fill="none"/><path d="M216.30,358.30L217.90,394.00L219.80,397.50L357.30,397.70" fill="none" stroke="#ff8000" stroke-width="1.25" stroke-linejoin="round"/><rect x="214.60" y="356.60" width="3.40" height="3.40" fill="#ff8000"/><rect x="228.70" y="395.80" width="3.40" height="3.40" fill="#ff8000"/><rect x="242.80" y="395.80" width="3.40" height="3.40" fill="#ff8000"/><rect x="256.90" y="395.80" width="3.40" height="3.40" fill="#ff8000"/><rect x="271.00" y="395.80" width="3.40" height="3.40" fill="#ff8000"/><rect x="285.10" y="395.80" width="3.40" height="3.40" fill="#ff8000"/><rect x="299.20" y="395.80" width="3.40" height="3.40" fill="#ff8000"/><rect x="313.30" y="395.80" width="3.40" height="3.40" fill="#ff8000"/><rect x="327.40" y="395.80" width="3.40" height="3.40" fill="#ff8000"/><rect x="341.50" y="395.80" width="3.40" height="3.40" fill="#ff8000"/><path d="M216.30,366.00L217.90,395.00L219.80,397.00L357.30,397.20" fill="none" stroke="#9400ff" stroke-width="1.25" stroke-linejoin="round"/><circle cx="216.30" cy="366.00" r="1.20" fill="#9400ff"/><circle cx="230.40" cy="397.00" r="1.20" fill="#9400ff"/><circle cx="244.50" cy="397.00" r="1.20" fill="#9400ff"/><circle cx="258.60" cy="397.00" r="1.20" fill="#9400ff"/><circle cx="272.70" cy="397.00" r="1.20" fill="#9400ff"/><circle cx="286.80" cy="397.00" r="1.20" fill="#9400ff"/><circle cx="300.90" cy="397.00" r="1.20" fill="#9400ff"/><circle cx="315.00" cy="397.00" r="1.20" fill="#9400ff"/><circle cx="329.10" cy="397.00" r="1.20" fill="#9400ff"/><circle cx="343.20" cy="397.00" r="1.20" fill="#9400ff"/><path d="M216.30,383.40L217.90,392.00L226.00,393.00L228.00,395.90L357.30,395.90" fill="none" stroke="#008080" stroke-width="1.25" stroke-linejoin="round"/><circle cx="216.30" cy="383.40" r="1.80" fill="#008080"/><circle cx="230.40" cy="395.90" r="1.80" fill="#008080"/><circle cx="244.50" cy="395.90" r="1.80" fill="#008080"/><circle cx="258.60" cy="395.90" r="1.80" fill="#008080"/><circle cx="272.70" cy="395.90" r="1.80" fill="#008080"/><circle cx="286.80" cy="395.90" r="1.80" fill="#008080"/><circle cx="300.90" cy="395.90" r="1.80" fill="#008080"/><circle cx="315.00" cy="395.90" r="1.80" fill="#008080"/><circle cx="329.10" cy="395.90" r="1.80" fill="#008080"/><circle cx="343.20" cy="395.90" r="1.80" fill="#008080"/></g></g>
<rect x="326.4" y="370.3" width="30.90" height="28.50" fill="none" stroke="#505050" stroke-width="0.7"/><path d="M341.5,370.3L338.89,351.37" stroke="#101010" stroke-width="0.7"/><path d="M338.4,347.8L340.48,351.15L337.31,351.58Z" fill="#101010"/><rect x="283.4" y="292.4" width="72.90" height="54.80" fill="#ffffff" stroke="#c8c8c8" stroke-width="0.7"/><rect x="294.6" y="295.7" width="55.90" height="43.40" fill="#ffffff" stroke="#c4c4c4" stroke-width="0.5"/><text x="293.40" y="299.90" font-size="2.6" text-anchor="end" style="fill:#6a6a6a;stroke:none">2290</text><text x="293.40" y="306.80" font-size="2.6" text-anchor="end" style="fill:#6a6a6a;stroke:none">2280</text><text x="293.40" y="313.30" font-size="2.6" text-anchor="end" style="fill:#6a6a6a;stroke:none">2270</text><text x="293.40" y="320.30" font-size="2.6" text-anchor="end" style="fill:#6a6a6a;stroke:none">2260</text><text x="293.40" y="327.00" font-size="2.6" text-anchor="end" style="fill:#6a6a6a;stroke:none">2250</text><text x="293.40" y="334.20" font-size="2.6" text-anchor="end" style="fill:#6a6a6a;stroke:none">2240</text><text x="300.40" y="342.30" font-size="2.6" text-anchor="middle" style="fill:#6a6a6a;stroke:none">400</text><text x="311.00" y="342.30" font-size="2.6" text-anchor="middle" style="fill:#6a6a6a;stroke:none">420</text><text x="319.70" y="342.30" font-size="2.6" text-anchor="middle" style="fill:#6a6a6a;stroke:none">440</text><text x="330.30" y="342.30" font-size="2.6" text-anchor="middle" style="fill:#6a6a6a;stroke:none">460</text><text x="339.90" y="342.30" font-size="2.6" text-anchor="middle" style="fill:#6a6a6a;stroke:none">480</text><text x="349.50" y="342.30" font-size="2.6" text-anchor="middle" style="fill:#6a6a6a;stroke:none">500</text><path d="M294.60,338.00L350.50,338.00" fill="none" stroke="#000000" stroke-width="0.75" stroke-opacity="0.7"/><circle cx="300.40" cy="338.00" r="0.8" fill="#000000" fill-opacity="0.8"/><circle cx="325.00" cy="338.00" r="0.8" fill="#000000" fill-opacity="0.8"/><path d="M294.60,335.60L350.50,335.60" fill="none" stroke="#ff0000" stroke-width="0.75" stroke-opacity="0.7"/><circle cx="300.40" cy="335.60" r="0.8" fill="#ff0000" fill-opacity="0.8"/><circle cx="325.00" cy="335.60" r="0.8" fill="#ff0000" fill-opacity="0.8"/><path d="M294.60,334.20L340.00,334.20L343.00,335.50L350.50,335.80" fill="none" stroke="#0000ff" stroke-width="0.75" stroke-opacity="0.7"/><circle cx="300.40" cy="334.20" r="0.8" fill="#0000ff" fill-opacity="0.8"/><circle cx="325.00" cy="334.20" r="0.8" fill="#0000ff" fill-opacity="0.8"/><path d="M294.60,331.70L350.50,331.70" fill="none" stroke="#00ffff" stroke-width="0.75" stroke-opacity="0.7"/><circle cx="300.40" cy="331.70" r="0.8" fill="#00ffff" fill-opacity="0.8"/><circle cx="325.00" cy="331.70" r="0.8" fill="#00ffff" fill-opacity="0.8"/><path d="M294.60,318.20L350.50,318.20" fill="none" stroke="#00ff00" stroke-width="0.75" stroke-opacity="0.7"/><circle cx="300.40" cy="318.20" r="0.8" fill="#00ff00" fill-opacity="0.8"/><circle cx="325.00" cy="318.20" r="0.8" fill="#00ff00" fill-opacity="0.8"/><path d="M294.60,337.00L350.50,337.60" fill="none" stroke="#ff8000" stroke-width="0.75" stroke-opacity="0.7"/><circle cx="300.40" cy="337.06" r="0.8" fill="#ff8000" fill-opacity="0.8"/><circle cx="325.00" cy="337.33" r="0.8" fill="#ff8000" fill-opacity="0.8"/><path d="M294.60,337.40L350.50,337.40" fill="none" stroke="#9400ff" stroke-width="0.75" stroke-opacity="0.7"/><circle cx="300.40" cy="337.40" r="0.8" fill="#9400ff" fill-opacity="0.8"/><circle cx="325.00" cy="337.40" r="0.8" fill="#9400ff" fill-opacity="0.8"/><path d="M294.60,336.20L350.50,336.20" fill="none" stroke="#008080" stroke-width="0.75" stroke-opacity="0.7"/><circle cx="300.40" cy="336.20" r="0.8" fill="#008080" fill-opacity="0.8"/><circle cx="325.00" cy="336.20" r="0.8" fill="#008080" fill-opacity="0.8"/>
<defs><clipPath id="cF9"><rect x="397.00" y="287.60" width="147.00" height="114.30"/></clipPath></defs>
<g><rect x="400.00" y="290.60" width="141.00" height="108.30" fill="none" stroke="#bdbdbd" stroke-width="0.75"/><path d="M428.20,398.90v-1.4M428.20,290.60v1.4" stroke="#bdbdbd" stroke-width="0.6"/><text x="428.20" y="408.30" font-size="6.3" text-anchor="middle">100</text><path d="M456.40,398.90v-1.4M456.40,290.60v1.4" stroke="#bdbdbd" stroke-width="0.6"/><text x="456.40" y="408.30" font-size="6.3" text-anchor="middle">200</text><path d="M484.60,398.90v-1.4M484.60,290.60v1.4" stroke="#bdbdbd" stroke-width="0.6"/><text x="484.60" y="408.30" font-size="6.3" text-anchor="middle">300</text><path d="M512.80,398.90v-1.4M512.80,290.60v1.4" stroke="#bdbdbd" stroke-width="0.6"/><text x="512.80" y="408.30" font-size="6.3" text-anchor="middle">400</text><path d="M541.00,398.90v-1.4M541.00,290.60v1.4" stroke="#bdbdbd" stroke-width="0.6"/><text x="541.00" y="408.30" font-size="6.3" text-anchor="middle">500</text><path d="M400.00,392.20h1.4M541.00,392.20h-1.4" stroke="#bdbdbd" stroke-width="0.6"/><text x="397.00" y="394.50" font-size="6.3" text-anchor="end">2600</text><path d="M400.00,372.34h1.4M541.00,372.34h-1.4" stroke="#bdbdbd" stroke-width="0.6"/><text x="397.00" y="374.64" font-size="6.3" text-anchor="end">2800</text><path d="M400.00,353.85h1.4M541.00,353.85h-1.4" stroke="#bdbdbd" stroke-width="0.6"/><text x="397.00" y="356.15" font-size="6.3" text-anchor="end">3000</text><path d="M400.00,336.56h1.4M541.00,336.56h-1.4" stroke="#bdbdbd" stroke-width="0.6"/><text x="397.00" y="338.86" font-size="6.3" text-anchor="end">3200</text><path d="M400.00,320.32h1.4M541.00,320.32h-1.4" stroke="#bdbdbd" stroke-width="0.6"/><text x="397.00" y="322.62" font-size="6.3" text-anchor="end">3400</text><path d="M400.00,305.00h1.4M541.00,305.00h-1.4" stroke="#bdbdbd" stroke-width="0.6"/><text x="397.00" y="307.30" font-size="6.3" text-anchor="end">3600</text><path d="M400.00,290.51h1.4M541.00,290.51h-1.4" stroke="#bdbdbd" stroke-width="0.6"/><text x="397.00" y="292.81" font-size="6.3" text-anchor="end">3800</text><text x="470.50" y="417.00" font-size="7.1" text-anchor="middle">Iteration</text><text x="470.50" y="288.10" font-size="7.7" text-anchor="middle" style="stroke-width:0.22px">F9</text><text transform="translate(381.40,344.75) rotate(-90)" font-size="7.25" text-anchor="middle">Fitness value</text><g clip-path="url(#cF9)"><path d="M400.00,342.90L401.00,374.70L402.80,383.40L408.60,383.40L408.60,387.30L410.50,387.30L410.50,391.60L412.40,391.60L412.40,395.90L416.30,397.30L541.00,397.80" fill="none" stroke="#000000" stroke-width="1.25" stroke-linejoin="round"/><path d="M398.40,340.90L402.20,342.90L398.40,344.90Z" fill="#000000"/><path d="M412.50,393.90L416.30,395.90L412.50,397.90Z" fill="#000000"/><path d="M426.60,395.30L430.40,397.30L426.60,399.30Z" fill="#000000"/><path d="M440.70,395.30L444.50,397.30L440.70,399.30Z" fill="#000000"/><path d="M454.80,395.30L458.60,397.30L454.80,399.30Z" fill="#000000"/><path d="M468.90,395.30L472.70,397.30L468.90,399.30Z" fill="#000000"/><path d="M483.00,395.30L486.80,397.30L483.00,399.30Z" fill="#000000"/><path d="M497.10,395.30L500.90,397.30L497.10,399.30Z" fill="#000000"/><path d="M511.20,395.30L515.00,397.30L511.20,399.30Z" fill="#000000"/><path d="M525.30,395.30L529.10,397.30L525.30,399.30Z" fill="#000000"/><path d="M400.00,334.20L401.00,360.00L401.80,371.80L541.00,372.20" fill="none" stroke="#ff0000" stroke-width="1.25" stroke-linejoin="round"/><path d="M400.00,331.60L401.60,334.20L400.00,336.80L398.40,334.20Z" fill="#ff0000"/><path d="M414.10,369.20L415.70,371.80L414.10,374.40L412.50,371.80Z" fill="#ff0000"/><path d="M428.20,369.20L429.80,371.80L428.20,374.40L426.60,371.80Z" fill="#ff0000"/><path d="M442.30,369.20L443.90,371.80L442.30,374.40L440.70,371.80Z" fill="#ff0000"/><path d="M456.40,369.20L458.00,371.80L456.40,374.40L454.80,371.80Z" fill="#ff0000"/><path d="M470.50,369.20L472.10,371.80L470.50,374.40L468.90,371.80Z" fill="#ff0000"/><path d="M484.60,369.20L486.20,371.80L484.60,374.40L483.00,371.80Z" fill="#ff0000"/><path d="M498.70,369.20L500.30,371.80L498.70,374.40L497.10,371.80Z" fill="#ff0000"/><path d="M512.80,369.20L514.40,371.80L512.80,374.40L511.20,371.80Z" fill="#ff0000"/><path d="M526.90,369.20L528.50,371.80L526.90,374.40L525.30,371.80Z" fill="#ff0000"/><path d="M400.00,380.00L400.90,366.00L404.70,367.00L406.60,374.70L408.60,381.50L414.40,383.40L427.80,386.30L433.60,386.30L433.60,391.10L496.90,391.10L506.60,392.60L525.80,393.40L541.00,394.00" fill="none" stroke="#0000ff" stroke-width="1.25" stroke-linejoin="round"/><circle cx="400.00" cy="380.00" r="1.80" fill="#0000ff"/><circle cx="414.10" cy="381.50" r="1.80" fill="#0000ff"/><circle cx="428.20" cy="386.30" r="1.80" fill="#0000ff"/><circle cx="442.30" cy="391.10" r="1.80" fill="#0000ff"/><circle cx="456.40" cy="391.10" r="1.80" fill="#0000ff"/><circle cx="470.50" cy="391.10" r="1.80" fill="#0000ff"/><circle cx="484.60" cy="391.10" r="1.80" fill="#0000ff"/><circle cx="498.70" cy="391.10" r="1.80" fill="#0000ff"/><circle cx="512.80" cy="392.60" r="1.80" fill="#0000ff"/><circle cx="526.90" cy="393.40" r="1.80" fill="#0000ff"/><path d="M400.00,328.40L401.80,344.80L404.70,354.50L408.60,364.10L414.40,368.90L422.10,370.90L427.80,371.80L541.00,372.00" fill="none" stroke="#ff00ff" stroke-width="1.25" stroke-linejoin="round"/><circle cx="400.00" cy="328.40" r="1.20" fill="#ff00ff"/><circle cx="414.10" cy="368.65" r="1.20" fill="#ff00ff"/><circle cx="428.20" cy="371.80" r="1.20" fill="#ff00ff"/><circle cx="442.30" cy="371.83" r="1.20" fill="#ff00ff"/><circle cx="456.40" cy="371.85" r="1.20" fill="#ff00ff"/><circle cx="470.50" cy="371.88" r="1.20" fill="#ff00ff"/><circle cx="484.60" cy="371.90" r="1.20" fill="#ff00ff"/><circle cx="498.70" cy="371.93" r="1.20" fill="#ff00ff"/><circle cx="512.80" cy="371.95" r="1.20" fill="#ff00ff"/><circle cx="526.90" cy="371.98" r="1.20" fill="#ff00ff"/><path d="M400.00,348.70L401.00,350.00L406.60,350.00L406.60,354.50L428.80,354.50L430.70,361.20L433.60,362.00L435.60,366.00L438.50,366.00L438.50,369.00L440.40,370.90L445.20,370.90L445.20,374.70L452.90,376.60L458.70,376.60L458.70,379.50L466.40,379.50L466.40,383.40L470.30,383.40L470.30,386.30L472.00,386.30L475.70,388.20L541.00,388.80" fill="none" stroke="#00ffff" stroke-width="1.25" stroke-linejoin="round"/><path d="M398.00,350.30L400.00,346.50L402.00,350.30Z" fill="#00ffff"/><path d="M412.10,356.10L414.10,352.30L416.10,356.10Z" fill="#00ffff"/><path d="M426.20,356.10L428.20,352.30L430.20,356.10Z" fill="#00ffff"/><path d="M440.30,372.50L442.30,368.70L444.30,372.50Z" fill="#00ffff"/><path d="M454.40,378.20L456.40,374.40L458.40,378.20Z" fill="#00ffff"/><path d="M468.50,387.90L470.50,384.10L472.50,387.90Z" fill="#00ffff"/><path d="M482.60,389.80L484.60,386.00L486.60,389.80Z" fill="#00ffff"/><path d="M496.70,389.80L498.70,386.00L500.70,389.80Z" fill="#00ffff"/><path d="M510.80,389.80L512.80,386.00L514.80,389.80Z" fill="#00ffff"/><path d="M524.90,389.80L526.90,386.00L528.90,389.80Z" fill="#00ffff"/><path d="M400.00,369.90L401.80,381.50L406.60,381.50L406.60,384.40L416.30,386.30L427.80,387.30L468.00,391.10L496.90,391.10L500.80,392.10L541.00,392.60" fill="none" stroke="#00ff00" stroke-width="1.25" stroke-linejoin="round"/><path d="M397.80,369.90H402.20M400.00,367.70V372.10M398.46,368.36L401.54,371.44M398.46,371.44L401.54,368.36" stroke="#00ff00" stroke-width="0.9" fill="none"/><path d="M411.90,384.40H416.30M414.10,382.20V386.60M412.56,382.86L415.64,385.94M412.56,385.94L415.64,382.86" stroke="#00ff00" stroke-width="0.9" fill="none"/><path d="M426.00,387.30H430.40M428.20,385.10V389.50M426.66,385.76L429.74,388.84M426.66,388.84L429.74,385.76" stroke="#00ff00" stroke-width="0.9" fill="none"/><path d="M440.10,387.30H444.50M442.30,385.10V389.50M440.76,385.76L443.84,388.84M440.76,388.84L443.84,385.76" stroke="#00ff00" stroke-width="0.9" fill="none"/><path d="M454.20,387.30H458.60M456.40,385.10V389.50M454.86,385.76L457.94,388.84M454.86,388.84L457.94,385.76" stroke="#00ff00" stroke-width="0.9" fill="none"/><path d="M468.30,391.10H472.70M470.50,388.90V393.30M468.96,389.56L472.04,392.64M468.96,392.64L472.04,389.56" stroke="#00ff00" stroke-width="0.9" fill="none"/><path d="M482.40,391.10H486.80M484.60,388.90V393.30M483.06,389.56L486.14,392.64M483.06,392.64L486.14,389.56" stroke="#00ff00" stroke-width="0.9" fill="none"/><path d="M496.50,391.10H500.90M498.70,388.90V393.30M497.16,389.56L500.24,392.64M497.16,392.64L500.24,389.56" stroke="#00ff00" stroke-width="0.9" fill="none"/><path d="M510.60,392.10H515.00M512.80,389.90V394.30M511.26,390.56L514.34,393.64M511.26,393.64L514.34,390.56" stroke="#00ff00" stroke-width="0.9" fill="none"/><path d="M524.70,392.10H529.10M526.90,389.90V394.30M525.36,390.56L528.44,393.64M525.36,393.64L528.44,390.56" stroke="#00ff00" stroke-width="0.9" fill="none"/><path d="M400.00,322.70L401.00,360.00L401.80,381.50L405.20,381.50L405.20,384.40L408.60,384.40L408.60,387.30L416.30,389.20L427.80,389.20L427.80,392.10L480.00,394.00L541.00,395.50" fill="none" stroke="#ff8000" stroke-width="1.25" stroke-linejoin="round"/><rect x="398.30" y="321.00" width="3.40" height="3.40" fill="#ff8000"/><rect x="412.40" y="385.60" width="3.40" height="3.40" fill="#ff8000"/><rect x="426.50" y="390.40" width="3.40" height="3.40" fill="#ff8000"/><rect x="440.60" y="390.40" width="3.40" height="3.40" fill="#ff8000"/><rect x="454.70" y="390.40" width="3.40" height="3.40" fill="#ff8000"/><rect x="468.80" y="390.40" width="3.40" height="3.40" fill="#ff8000"/><rect x="482.90" y="392.30" width="3.40" height="3.40" fill="#ff8000"/><rect x="497.00" y="392.30" width="3.40" height="3.40" fill="#ff8000"/><rect x="511.10" y="392.30" width="3.40" height="3.40" fill="#ff8000"/><rect x="525.20" y="392.30" width="3.40" height="3.40" fill="#ff8000"/><path d="M400.00,290.50L401.00,360.00L402.20,379.50L402.80,388.20L405.70,388.20L405.70,391.10L414.40,393.00L427.80,394.00L541.00,394.20" fill="none" stroke="#9400ff" stroke-width="1.25" stroke-linejoin="round"/><circle cx="400.00" cy="290.50" r="1.20" fill="#9400ff"/><circle cx="414.10" cy="391.10" r="1.20" fill="#9400ff"/><circle cx="428.20" cy="394.00" r="1.20" fill="#9400ff"/><circle cx="442.30" cy="394.00" r="1.20" fill="#9400ff"/><circle cx="456.40" cy="394.00" r="1.20" fill="#9400ff"/><circle cx="470.50" cy="394.00" r="1.20" fill="#9400ff"/><circle cx="484.60" cy="394.00" r="1.20" fill="#9400ff"/><circle cx="498.70" cy="394.00" r="1.20" fill="#9400ff"/><circle cx="512.80" cy="394.00" r="1.20" fill="#9400ff"/><circle cx="526.90" cy="394.00" r="1.20" fill="#9400ff"/><path d="M400.00,303.40L401.20,371.80L402.37,371.80L402.37,375.03L403.53,375.03L403.53,378.27L404.70,378.27L404.70,381.50L408.60,383.40L422.10,385.30L427.80,386.30L441.30,388.20L541.00,388.80" fill="none" stroke="#008080" stroke-width="1.25" stroke-linejoin="round"/><circle cx="400.00" cy="303.40" r="1.80" fill="#008080"/><circle cx="414.10" cy="383.40" r="1.80" fill="#008080"/><circle cx="428.20" cy="386.30" r="1.80" fill="#008080"/><circle cx="442.30" cy="388.20" r="1.80" fill="#008080"/><circle cx="456.40" cy="388.20" r="1.80" fill="#008080"/><circle cx="470.50" cy="388.20" r="1.80" fill="#008080"/><circle cx="484.60" cy="388.20" r="1.80" fill="#008080"/><circle cx="498.70" cy="388.20" r="1.80" fill="#008080"/><circle cx="512.80" cy="388.20" r="1.80" fill="#008080"/><circle cx="526.90" cy="388.20" r="1.80" fill="#008080"/></g></g>
<defs><clipPath id="cF10"><rect x="27.20" y="427.00" width="146.80" height="114.70"/></clipPath></defs>
<g><rect x="30.20" y="430.00" width="140.80" height="108.70" fill="none" stroke="#bdbdbd" stroke-width="0.75"/><path d="M58.36,538.70v-1.4M58.36,430.00v1.4" stroke="#bdbdbd" stroke-width="0.6"/><text x="58.36" y="548.10" font-size="6.3" text-anchor="middle">100</text><path d="M86.52,538.70v-1.4M86.52,430.00v1.4" stroke="#bdbdbd" stroke-width="0.6"/><text x="86.52" y="548.10" font-size="6.3" text-anchor="middle">200</text><path d="M114.68,538.70v-1.4M114.68,430.00v1.4" stroke="#bdbdbd" stroke-width="0.6"/><text x="114.68" y="548.10" font-size="6.3" text-anchor="middle">300</text><path d="M142.84,538.70v-1.4M142.84,430.00v1.4" stroke="#bdbdbd" stroke-width="0.6"/><text x="142.84" y="548.10" font-size="6.3" text-anchor="middle">400</text><path d="M171.00,538.70v-1.4M171.00,430.00v1.4" stroke="#bdbdbd" stroke-width="0.6"/><text x="171.00" y="548.10" font-size="6.3" text-anchor="middle">500</text><path d="M30.20,512.40h1.4M171.00,512.40h-1.4" stroke="#bdbdbd" stroke-width="0.6"/><text x="27.20" y="514.70" font-size="6.3" text-anchor="end">3000</text><path d="M30.20,490.01h1.4M171.00,490.01h-1.4" stroke="#bdbdbd" stroke-width="0.6"/><text x="27.20" y="492.31" font-size="6.3" text-anchor="end">3500</text><path d="M30.20,470.61h1.4M171.00,470.61h-1.4" stroke="#bdbdbd" stroke-width="0.6"/><text x="27.20" y="472.91" font-size="6.3" text-anchor="end">4000</text><path d="M30.20,453.50h1.4M171.00,453.50h-1.4" stroke="#bdbdbd" stroke-width="0.6"/><text x="27.20" y="455.80" font-size="6.3" text-anchor="end">4500</text><path d="M30.20,438.19h1.4M171.00,438.19h-1.4" stroke="#bdbdbd" stroke-width="0.6"/><text x="27.20" y="440.49" font-size="6.3" text-anchor="end">5000</text><text x="100.60" y="556.50" font-size="7.1" text-anchor="middle">Iteration</text><text x="100.60" y="427.50" font-size="7.7" text-anchor="middle" style="stroke-width:0.22px">F10</text><text transform="translate(10.60,484.35) rotate(-90)" font-size="7.25" text-anchor="middle">Fitness value</text><g clip-path="url(#cF10)"><path d="M30.20,431.80L31.00,500.00L32.00,528.00L34.50,532.00L37.00,535.50L39.60,537.90L171.00,538.00" fill="none" stroke="#000000" stroke-width="1.25" stroke-linejoin="round"/><path d="M28.60,429.80L32.40,431.80L28.60,433.80Z" fill="#000000"/><path d="M42.68,535.90L46.48,537.90L42.68,539.90Z" fill="#000000"/><path d="M56.76,535.91L60.56,537.91L56.76,539.91Z" fill="#000000"/><path d="M70.84,535.92L74.64,537.92L70.84,539.92Z" fill="#000000"/><path d="M84.92,535.94L88.72,537.94L84.92,539.94Z" fill="#000000"/><path d="M99.00,535.95L102.80,537.95L99.00,539.95Z" fill="#000000"/><path d="M113.08,535.96L116.88,537.96L113.08,539.96Z" fill="#000000"/><path d="M127.16,535.97L130.96,537.97L127.16,539.97Z" fill="#000000"/><path d="M141.24,535.98L145.04,537.98L141.24,539.98Z" fill="#000000"/><path d="M155.32,535.99L159.12,537.99L155.32,539.99Z" fill="#000000"/><path d="M30.20,430.50L31.20,490.00L31.90,515.70L35.70,519.50L43.40,520.50L55.00,521.40L171.00,521.40" fill="none" stroke="#ff0000" stroke-width="1.25" stroke-linejoin="round"/><path d="M30.20,427.90L31.80,430.50L30.20,433.10L28.60,430.50Z" fill="#ff0000"/><path d="M44.28,517.97L45.88,520.57L44.28,523.17L42.68,520.57Z" fill="#ff0000"/><path d="M58.36,518.80L59.96,521.40L58.36,524.00L56.76,521.40Z" fill="#ff0000"/><path d="M72.44,518.80L74.04,521.40L72.44,524.00L70.84,521.40Z" fill="#ff0000"/><path d="M86.52,518.80L88.12,521.40L86.52,524.00L84.92,521.40Z" fill="#ff0000"/><path d="M100.60,518.80L102.20,521.40L100.60,524.00L99.00,521.40Z" fill="#ff0000"/><path d="M114.68,518.80L116.28,521.40L114.68,524.00L113.08,521.40Z" fill="#ff0000"/><path d="M128.76,518.80L130.36,521.40L128.76,524.00L127.16,521.40Z" fill="#ff0000"/><path d="M142.84,518.80L144.44,521.40L142.84,524.00L141.24,521.40Z" fill="#ff0000"/><path d="M156.92,518.80L158.52,521.40L156.92,524.00L155.32,521.40Z" fill="#ff0000"/><path d="M30.20,511.80L31.50,522.00L32.65,522.00L32.65,525.60L33.80,525.60L33.80,529.20L129.40,530.20L132.00,531.40L171.00,531.40" fill="none" stroke="#0000ff" stroke-width="1.25" stroke-linejoin="round"/><circle cx="30.20" cy="511.80" r="1.80" fill="#0000ff"/><circle cx="44.28" cy="529.20" r="1.80" fill="#0000ff"/><circle cx="58.36" cy="529.20" r="1.80" fill="#0000ff"/><circle cx="72.44" cy="529.20" r="1.80" fill="#0000ff"/><circle cx="86.52" cy="529.20" r="1.80" fill="#0000ff"/><circle cx="100.60" cy="529.20" r="1.80" fill="#0000ff"/><circle cx="114.68" cy="529.20" r="1.80" fill="#0000ff"/><circle cx="128.76" cy="529.20" r="1.80" fill="#0000ff"/><circle cx="142.84" cy="531.40" r="1.80" fill="#0000ff"/><circle cx="156.92" cy="531.40" r="1.80" fill="#0000ff"/><path d="M30.20,448.20L31.20,510.00L32.50,528.00L35.00,528.00L35.00,530.50L171.00,531.00" fill="none" stroke="#ff00ff" stroke-width="1.25" stroke-linejoin="round"/><circle cx="30.20" cy="448.20" r="1.20" fill="#ff00ff"/><circle cx="44.28" cy="530.50" r="1.20" fill="#ff00ff"/><circle cx="58.36" cy="530.50" r="1.20" fill="#ff00ff"/><circle cx="72.44" cy="530.50" r="1.20" fill="#ff00ff"/><circle cx="86.52" cy="530.50" r="1.20" fill="#ff00ff"/><circle cx="100.60" cy="530.50" r="1.20" fill="#ff00ff"/><circle cx="114.68" cy="530.50" r="1.20" fill="#ff00ff"/><circle cx="128.76" cy="530.50" r="1.20" fill="#ff00ff"/><circle cx="142.84" cy="530.50" r="1.20" fill="#ff00ff"/><circle cx="156.92" cy="530.50" r="1.20" fill="#ff00ff"/><path d="M30.20,445.30L31.20,500.00L32.50,525.00L40.00,525.00L40.00,530.00L48.00,532.00L60.00,533.00L171.00,537.00" fill="none" stroke="#00ffff" stroke-width="1.25" stroke-linejoin="round"/><path d="M28.20,446.90L30.20,443.10L32.20,446.90Z" fill="#00ffff"/><path d="M42.28,531.60L44.28,527.80L46.28,531.60Z" fill="#00ffff"/><path d="M56.36,533.60L58.36,529.80L60.36,533.60Z" fill="#00ffff"/><path d="M70.44,534.60L72.44,530.80L74.44,534.60Z" fill="#00ffff"/><path d="M84.52,534.60L86.52,530.80L88.52,534.60Z" fill="#00ffff"/><path d="M98.60,534.60L100.60,530.80L102.60,534.60Z" fill="#00ffff"/><path d="M112.68,534.60L114.68,530.80L116.68,534.60Z" fill="#00ffff"/><path d="M126.76,534.60L128.76,530.80L130.76,534.60Z" fill="#00ffff"/><path d="M140.84,534.60L142.84,530.80L144.84,534.60Z" fill="#00ffff"/><path d="M154.92,534.60L156.92,530.80L158.92,534.60Z" fill="#00ffff"/><path d="M30.20,516.60L31.50,530.00L33.00,535.90L48.00,536.20L60.00,536.90L171.00,537.30" fill="none" stroke="#00ff00" stroke-width="1.25" stroke-linejoin="round"/><path d="M28.00,516.60H32.40M30.20,514.40V518.80M28.66,515.06L31.74,518.14M28.66,518.14L31.74,515.06" stroke="#00ff00" stroke-width="0.9" fill="none"/><path d="M42.08,535.90H46.48M44.28,533.70V538.10M42.74,534.36L45.82,537.44M42.74,537.44L45.82,534.36" stroke="#00ff00" stroke-width="0.9" fill="none"/><path d="M56.16,536.20H60.56M58.36,534.00V538.40M56.82,534.66L59.90,537.74M56.82,537.74L59.90,534.66" stroke="#00ff00" stroke-width="0.9" fill="none"/><path d="M70.24,536.90H74.64M72.44,534.70V539.10M70.90,535.36L73.98,538.44M70.90,538.44L73.98,535.36" stroke="#00ff00" stroke-width="0.9" fill="none"/><path d="M84.32,536.90H88.72M86.52,534.70V539.10M84.98,535.36L88.06,538.44M84.98,538.44L88.06,535.36" stroke="#00ff00" stroke-width="0.9" fill="none"/><path d="M98.40,536.90H102.80M100.60,534.70V539.10M99.06,535.36L102.14,538.44M99.06,538.44L102.14,535.36" stroke="#00ff00" stroke-width="0.9" fill="none"/><path d="M112.48,536.90H116.88M114.68,534.70V539.10M113.14,535.36L116.22,538.44M113.14,538.44L116.22,535.36" stroke="#00ff00" stroke-width="0.9" fill="none"/><path d="M126.56,536.90H130.96M128.76,534.70V539.10M127.22,535.36L130.30,538.44M127.22,538.44L130.30,535.36" stroke="#00ff00" stroke-width="0.9" fill="none"/><path d="M140.64,536.90H145.04M142.84,534.70V539.10M141.30,535.36L144.38,538.44M141.30,538.44L144.38,535.36" stroke="#00ff00" stroke-width="0.9" fill="none"/><path d="M154.72,536.90H159.12M156.92,534.70V539.10M155.38,535.36L158.46,538.44M155.38,538.44L158.46,535.36" stroke="#00ff00" stroke-width="0.9" fill="none"/><path d="M30.20,440.00L31.20,505.00L32.50,527.00L35.00,527.00L35.00,530.10L171.00,531.60" fill="none" stroke="#ff8000" stroke-width="1.25" stroke-linejoin="round"/><rect x="28.50" y="438.30" width="3.40" height="3.40" fill="#ff8000"/><rect x="42.58" y="528.40" width="3.40" height="3.40" fill="#ff8000"/><rect x="56.66" y="528.40" width="3.40" height="3.40" fill="#ff8000"/><rect x="70.74" y="528.40" width="3.40" height="3.40" fill="#ff8000"/><rect x="84.82" y="528.40" width="3.40" height="3.40" fill="#ff8000"/><rect x="98.90" y="528.40" width="3.40" height="3.40" fill="#ff8000"/><rect x="112.98" y="528.40" width="3.40" height="3.40" fill="#ff8000"/><rect x="127.06" y="528.40" width="3.40" height="3.40" fill="#ff8000"/><rect x="141.14" y="528.40" width="3.40" height="3.40" fill="#ff8000"/><rect x="155.22" y="528.40" width="3.40" height="3.40" fill="#ff8000"/><path d="M30.20,450.00L31.20,510.00L32.50,529.00L35.00,529.00L35.00,532.00L171.00,532.30" fill="none" stroke="#9400ff" stroke-width="1.25" stroke-linejoin="round"/><circle cx="30.20" cy="450.00" r="1.20" fill="#9400ff"/><circle cx="44.28" cy="532.00" r="1.20" fill="#9400ff"/><circle cx="58.36" cy="532.00" r="1.20" fill="#9400ff"/><circle cx="72.44" cy="532.00" r="1.20" fill="#9400ff"/><circle cx="86.52" cy="532.00" r="1.20" fill="#9400ff"/><circle cx="100.60" cy="532.00" r="1.20" fill="#9400ff"/><circle cx="114.68" cy="532.00" r="1.20" fill="#9400ff"/><circle cx="128.76" cy="532.00" r="1.20" fill="#9400ff"/><circle cx="142.84" cy="532.00" r="1.20" fill="#9400ff"/><circle cx="156.92" cy="532.00" r="1.20" fill="#9400ff"/><path d="M30.20,507.00L31.50,522.00L32.65,522.00L32.65,524.65L33.80,524.65L33.80,527.30L47.30,527.30L48.20,536.00L60.00,537.00L171.00,538.00" fill="none" stroke="#008080" stroke-width="1.25" stroke-linejoin="round"/><circle cx="30.20" cy="507.00" r="1.80" fill="#008080"/><circle cx="44.28" cy="527.30" r="1.80" fill="#008080"/><circle cx="58.36" cy="536.00" r="1.80" fill="#008080"/><circle cx="72.44" cy="537.00" r="1.80" fill="#008080"/><circle cx="86.52" cy="537.00" r="1.80" fill="#008080"/><circle cx="100.60" cy="537.00" r="1.80" fill="#008080"/><circle cx="114.68" cy="537.00" r="1.80" fill="#008080"/><circle cx="128.76" cy="537.00" r="1.80" fill="#008080"/><circle cx="142.84" cy="537.00" r="1.80" fill="#008080"/><circle cx="156.92" cy="537.00" r="1.80" fill="#008080"/></g></g>
<rect x="38.6" y="507.6" width="39.90" height="31.10" fill="none" stroke="#505050" stroke-width="0.7"/><path d="M58.8,507.0L87.66,488.73" stroke="#101010" stroke-width="0.7"/><path d="M90.7,486.8L88.51,490.08L86.80,487.37Z" fill="#101010"/><rect x="90.7" y="433.5" width="75.00" height="56.30" fill="#ffffff"/><path d="M90.7,433.5V489.8M165.7,433.5V489.8" stroke="#c8c8c8" stroke-width="0.7"/><rect x="101.6" y="437.4" width="57.90" height="44.60" fill="#ffffff" stroke="#c4c4c4" stroke-width="0.5"/><text x="100.40" y="444.50" font-size="2.6" text-anchor="end" style="fill:#6a6a6a;stroke:none">2800</text><text x="100.40" y="453.60" font-size="2.6" text-anchor="end" style="fill:#6a6a6a;stroke:none">2750</text><text x="100.40" y="463.00" font-size="2.6" text-anchor="end" style="fill:#6a6a6a;stroke:none">2700</text><text x="100.40" y="472.70" font-size="2.6" text-anchor="end" style="fill:#6a6a6a;stroke:none">2650</text><text x="103.20" y="485.20" font-size="2.6" text-anchor="middle" style="fill:#6a6a6a;stroke:none">40</text><text x="111.80" y="485.20" font-size="2.6" text-anchor="middle" style="fill:#6a6a6a;stroke:none">60</text><text x="121.20" y="485.20" font-size="2.6" text-anchor="middle" style="fill:#6a6a6a;stroke:none">80</text><text x="130.60" y="485.20" font-size="2.6" text-anchor="middle" style="fill:#6a6a6a;stroke:none">100</text><text x="140.00" y="485.20" font-size="2.6" text-anchor="middle" style="fill:#6a6a6a;stroke:none">120</text><text x="149.30" y="485.20" font-size="2.6" text-anchor="middle" style="fill:#6a6a6a;stroke:none">140</text><text x="157.10" y="485.20" font-size="2.6" text-anchor="middle" style="fill:#6a6a6a;stroke:none">160</text><path d="M101.60,480.40L159.50,481.20" fill="none" stroke="#000000" stroke-width="0.75" stroke-opacity="0.7"/><circle cx="108.70" cy="480.50" r="0.8" fill="#000000" fill-opacity="0.8"/><circle cx="130.60" cy="480.80" r="0.8" fill="#000000" fill-opacity="0.8"/><circle cx="152.50" cy="481.10" r="0.8" fill="#000000" fill-opacity="0.8"/><path d="M101.60,448.30L113.40,448.30L115.00,450.70L159.50,450.70" fill="none" stroke="#ff0000" stroke-width="0.75" stroke-opacity="0.7"/><circle cx="108.70" cy="448.30" r="0.8" fill="#ff0000" fill-opacity="0.8"/><circle cx="130.60" cy="450.70" r="0.8" fill="#ff0000" fill-opacity="0.8"/><circle cx="152.50" cy="450.70" r="0.8" fill="#ff0000" fill-opacity="0.8"/><path d="M101.60,465.20L159.50,465.20" fill="none" stroke="#0000ff" stroke-width="0.75" stroke-opacity="0.7"/><circle cx="108.70" cy="465.20" r="0.8" fill="#0000ff" fill-opacity="0.8"/><circle cx="130.60" cy="465.20" r="0.8" fill="#0000ff" fill-opacity="0.8"/><circle cx="152.50" cy="465.20" r="0.8" fill="#0000ff" fill-opacity="0.8"/><path d="M101.60,469.00L159.50,469.00" fill="none" stroke="#ff00ff" stroke-width="0.75" stroke-opacity="0.7"/><circle cx="108.70" cy="469.00" r="0.8" fill="#ff00ff" fill-opacity="0.8"/><circle cx="130.60" cy="469.00" r="0.8" fill="#ff00ff" fill-opacity="0.8"/><circle cx="152.50" cy="469.00" r="0.8" fill="#ff00ff" fill-opacity="0.8"/><path d="M101.60,461.60L109.50,463.20L119.60,469.40L132.10,469.40L133.70,474.10L139.20,475.70L148.50,477.30L159.50,478.80" fill="none" stroke="#00ffff" stroke-width="0.75" stroke-opacity="0.7"/><circle cx="108.70" cy="463.04" r="0.8" fill="#00ffff" fill-opacity="0.8"/><circle cx="130.60" cy="469.40" r="0.8" fill="#00ffff" fill-opacity="0.8"/><circle cx="152.50" cy="477.85" r="0.8" fill="#00ffff" fill-opacity="0.8"/><path d="M101.60,474.90L117.30,476.50L148.50,478.00L159.50,478.80" fill="none" stroke="#00ff00" stroke-width="0.75" stroke-opacity="0.7"/><circle cx="108.70" cy="475.62" r="0.8" fill="#00ff00" fill-opacity="0.8"/><circle cx="130.60" cy="477.14" r="0.8" fill="#00ff00" fill-opacity="0.8"/><circle cx="152.50" cy="478.29" r="0.8" fill="#00ff00" fill-opacity="0.8"/><path d="M101.60,465.80L145.40,465.80L146.00,466.30L159.50,466.30" fill="none" stroke="#ff8000" stroke-width="0.75" stroke-opacity="0.7"/><circle cx="108.70" cy="465.80" r="0.8" fill="#ff8000" fill-opacity="0.8"/><circle cx="130.60" cy="465.80" r="0.8" fill="#ff8000" fill-opacity="0.8"/><circle cx="152.50" cy="466.30" r="0.8" fill="#ff8000" fill-opacity="0.8"/><path d="M101.60,467.10L145.40,467.60L146.00,468.70L159.50,468.70" fill="none" stroke="#9400ff" stroke-width="0.75" stroke-opacity="0.7"/><circle cx="108.70" cy="467.18" r="0.8" fill="#9400ff" fill-opacity="0.8"/><circle cx="130.60" cy="467.43" r="0.8" fill="#9400ff" fill-opacity="0.8"/><circle cx="152.50" cy="468.70" r="0.8" fill="#9400ff" fill-opacity="0.8"/><path d="M101.60,460.50L107.90,462.40L115.70,462.40L116.50,478.80L159.50,479.30" fill="none" stroke="#008080" stroke-width="0.75" stroke-opacity="0.7"/><circle cx="108.70" cy="462.40" r="0.8" fill="#008080" fill-opacity="0.8"/><circle cx="130.60" cy="478.96" r="0.8" fill="#008080" fill-opacity="0.8"/><circle cx="152.50" cy="479.22" r="0.8" fill="#008080" fill-opacity="0.8"/>
<defs><clipPath id="cF11"><rect x="210.50" y="427.00" width="150.10" height="114.70"/></clipPath></defs>
<g><rect x="213.50" y="430.00" width="144.10" height="108.70" fill="none" stroke="#bdbdbd" stroke-width="0.75"/><path d="M242.32,538.70v-1.4M242.32,430.00v1.4" stroke="#bdbdbd" stroke-width="0.6"/><text x="242.32" y="548.10" font-size="6.3" text-anchor="middle">100</text><path d="M271.14,538.70v-1.4M271.14,430.00v1.4" stroke="#bdbdbd" stroke-width="0.6"/><text x="271.14" y="548.10" font-size="6.3" text-anchor="middle">200</text><path d="M299.96,538.70v-1.4M299.96,430.00v1.4" stroke="#bdbdbd" stroke-width="0.6"/><text x="299.96" y="548.10" font-size="6.3" text-anchor="middle">300</text><path d="M328.78,538.70v-1.4M328.78,430.00v1.4" stroke="#bdbdbd" stroke-width="0.6"/><text x="328.78" y="548.10" font-size="6.3" text-anchor="middle">400</text><path d="M357.60,538.70v-1.4M357.60,430.00v1.4" stroke="#bdbdbd" stroke-width="0.6"/><text x="357.60" y="548.10" font-size="6.3" text-anchor="middle">500</text><path d="M213.50,437.60h1.4M357.60,437.60h-1.4" stroke="#bdbdbd" stroke-width="0.6"/><text x="208.30" y="439.90" font-size="6.3" text-anchor="end">10</text><text x="208.50" y="437.00" font-size="4.5">5</text><path d="M213.50,502.00h1.4M357.60,502.00h-1.4" stroke="#bdbdbd" stroke-width="0.6"/><text x="208.30" y="504.30" font-size="6.3" text-anchor="end">10</text><text x="208.50" y="501.40" font-size="4.5">4</text><text x="285.55" y="556.50" font-size="7.1" text-anchor="middle">Iteration</text><text x="285.55" y="427.50" font-size="7.7" text-anchor="middle" style="stroke-width:0.22px">F11</text><text transform="translate(199.10,484.35) rotate(-90)" font-size="7.25" text-anchor="middle">Fitness value</text><g clip-path="url(#cF11)"><path d="M213.50,429.90L214.50,500.00L215.90,533.00L218.70,536.50L230.00,537.90L357.60,538.20" fill="none" stroke="#000000" stroke-width="1.25" stroke-linejoin="round"/><path d="M211.90,427.90L215.70,429.90L211.90,431.90Z" fill="#000000"/><path d="M226.31,535.64L230.11,537.64L226.31,539.64Z" fill="#000000"/><path d="M240.72,535.93L244.52,537.93L240.72,539.93Z" fill="#000000"/><path d="M255.13,535.96L258.93,537.96L255.13,539.96Z" fill="#000000"/><path d="M269.54,536.00L273.34,538.00L269.54,540.00Z" fill="#000000"/><path d="M283.95,536.03L287.75,538.03L283.95,540.03Z" fill="#000000"/><path d="M298.36,536.06L302.16,538.06L298.36,540.06Z" fill="#000000"/><path d="M312.77,536.10L316.57,538.10L312.77,540.10Z" fill="#000000"/><path d="M327.18,536.13L330.98,538.13L327.18,540.13Z" fill="#000000"/><path d="M341.59,536.17L345.39,538.17L341.59,540.17Z" fill="#000000"/><path d="M213.50,470.00L214.50,515.00L216.00,527.30L357.60,527.30" fill="none" stroke="#ff0000" stroke-width="1.25" stroke-linejoin="round"/><path d="M213.50,467.40L215.10,470.00L213.50,472.60L211.90,470.00Z" fill="#ff0000"/><path d="M227.91,524.70L229.51,527.30L227.91,529.90L226.31,527.30Z" fill="#ff0000"/><path d="M242.32,524.70L243.92,527.30L242.32,529.90L240.72,527.30Z" fill="#ff0000"/><path d="M256.73,524.70L258.33,527.30L256.73,529.90L255.13,527.30Z" fill="#ff0000"/><path d="M271.14,524.70L272.74,527.30L271.14,529.90L269.54,527.30Z" fill="#ff0000"/><path d="M285.55,524.70L287.15,527.30L285.55,529.90L283.95,527.30Z" fill="#ff0000"/><path d="M299.96,524.70L301.56,527.30L299.96,529.90L298.36,527.30Z" fill="#ff0000"/><path d="M314.37,524.70L315.97,527.30L314.37,529.90L312.77,527.30Z" fill="#ff0000"/><path d="M328.78,524.70L330.38,527.30L328.78,529.90L327.18,527.30Z" fill="#ff0000"/><path d="M343.19,524.70L344.79,527.30L343.19,529.90L341.59,527.30Z" fill="#ff0000"/><path d="M213.50,435.70L214.50,510.00L214.90,529.20L222.60,529.20L222.60,532.10L230.30,532.10L230.30,535.00L249.60,536.90L357.60,537.00" fill="none" stroke="#0000ff" stroke-width="1.25" stroke-linejoin="round"/><circle cx="213.50" cy="435.70" r="1.80" fill="#0000ff"/><circle cx="227.91" cy="532.10" r="1.80" fill="#0000ff"/><circle cx="242.32" cy="535.00" r="1.80" fill="#0000ff"/><circle cx="256.73" cy="536.90" r="1.80" fill="#0000ff"/><circle cx="271.14" cy="536.90" r="1.80" fill="#0000ff"/><circle cx="285.55" cy="536.90" r="1.80" fill="#0000ff"/><circle cx="299.96" cy="536.90" r="1.80" fill="#0000ff"/><circle cx="314.37" cy="536.90" r="1.80" fill="#0000ff"/><circle cx="328.78" cy="536.90" r="1.80" fill="#0000ff"/><circle cx="343.19" cy="536.90" r="1.80" fill="#0000ff"/><path d="M213.50,459.80L215.00,500.00L216.80,508.00L221.60,508.00L222.60,532.10L357.60,535.00" fill="none" stroke="#ff00ff" stroke-width="1.25" stroke-linejoin="round"/><circle cx="213.50" cy="459.80" r="1.20" fill="#ff00ff"/><circle cx="227.91" cy="532.10" r="1.20" fill="#ff00ff"/><circle cx="242.32" cy="532.10" r="1.20" fill="#ff00ff"/><circle cx="256.73" cy="532.10" r="1.20" fill="#ff00ff"/><circle cx="271.14" cy="532.10" r="1.20" fill="#ff00ff"/><circle cx="285.55" cy="532.10" r="1.20" fill="#ff00ff"/><circle cx="299.96" cy="532.10" r="1.20" fill="#ff00ff"/><circle cx="314.37" cy="532.10" r="1.20" fill="#ff00ff"/><circle cx="328.78" cy="532.10" r="1.20" fill="#ff00ff"/><circle cx="343.19" cy="532.10" r="1.20" fill="#ff00ff"/><path d="M213.50,444.40L226.40,444.40L228.40,445.30L232.20,445.30L232.20,449.20L254.40,450.10L255.30,466.50L271.70,466.50L272.30,468.50L273.70,491.60L282.30,491.60L284.20,500.30L286.90,500.30L286.90,504.10L288.06,504.10L288.06,508.16L289.22,508.16L289.22,512.22L290.38,512.22L290.38,516.28L291.54,516.28L291.54,520.34L292.70,520.34L292.70,524.40L299.40,526.30L357.60,527.30" fill="none" stroke="#00ffff" stroke-width="1.25" stroke-linejoin="round"/><path d="M211.50,446.00L213.50,442.20L215.50,446.00Z" fill="#00ffff"/><path d="M225.91,446.00L227.91,442.20L229.91,446.00Z" fill="#00ffff"/><path d="M240.32,450.80L242.32,447.00L244.32,450.80Z" fill="#00ffff"/><path d="M254.73,468.10L256.73,464.30L258.73,468.10Z" fill="#00ffff"/><path d="M269.14,468.10L271.14,464.30L273.14,468.10Z" fill="#00ffff"/><path d="M283.55,501.90L285.55,498.10L287.55,501.90Z" fill="#00ffff"/><path d="M297.96,527.90L299.96,524.10L301.96,527.90Z" fill="#00ffff"/><path d="M312.37,527.90L314.37,524.10L316.37,527.90Z" fill="#00ffff"/><path d="M326.78,527.90L328.78,524.10L330.78,527.90Z" fill="#00ffff"/><path d="M341.19,527.90L343.19,524.10L345.19,527.90Z" fill="#00ffff"/><path d="M213.50,445.30L214.50,510.00L215.90,526.30L241.80,528.20L255.30,528.20L255.30,532.10L268.80,535.00L357.60,536.80" fill="none" stroke="#00ff00" stroke-width="1.25" stroke-linejoin="round"/><path d="M211.30,445.30H215.70M213.50,443.10V447.50M211.96,443.76L215.04,446.84M211.96,446.84L215.04,443.76" stroke="#00ff00" stroke-width="0.9" fill="none"/><path d="M225.71,526.30H230.11M227.91,524.10V528.50M226.37,524.76L229.45,527.84M226.37,527.84L229.45,524.76" stroke="#00ff00" stroke-width="0.9" fill="none"/><path d="M240.12,528.20H244.52M242.32,526.00V530.40M240.78,526.66L243.86,529.74M240.78,529.74L243.86,526.66" stroke="#00ff00" stroke-width="0.9" fill="none"/><path d="M254.53,532.10H258.93M256.73,529.90V534.30M255.19,530.56L258.27,533.64M255.19,533.64L258.27,530.56" stroke="#00ff00" stroke-width="0.9" fill="none"/><path d="M268.94,535.00H273.34M271.14,532.80V537.20M269.60,533.46L272.68,536.54M269.60,536.54L272.68,533.46" stroke="#00ff00" stroke-width="0.9" fill="none"/><path d="M283.35,535.00H287.75M285.55,532.80V537.20M284.01,533.46L287.09,536.54M284.01,536.54L287.09,533.46" stroke="#00ff00" stroke-width="0.9" fill="none"/><path d="M297.76,535.00H302.16M299.96,532.80V537.20M298.42,533.46L301.50,536.54M298.42,536.54L301.50,533.46" stroke="#00ff00" stroke-width="0.9" fill="none"/><path d="M312.17,535.00H316.57M314.37,532.80V537.20M312.83,533.46L315.91,536.54M312.83,536.54L315.91,533.46" stroke="#00ff00" stroke-width="0.9" fill="none"/><path d="M326.58,535.00H330.98M328.78,532.80V537.20M327.24,533.46L330.32,536.54M327.24,536.54L330.32,533.46" stroke="#00ff00" stroke-width="0.9" fill="none"/><path d="M340.99,535.00H345.39M343.19,532.80V537.20M341.65,533.46L344.73,536.54M341.65,536.54L344.73,533.46" stroke="#00ff00" stroke-width="0.9" fill="none"/><path d="M213.50,445.30L214.50,515.00L215.65,515.00L215.65,523.80L216.80,523.80L216.80,532.60L241.80,534.00L357.60,534.60" fill="none" stroke="#ff8000" stroke-width="1.25" stroke-linejoin="round"/><rect x="211.80" y="443.60" width="3.40" height="3.40" fill="#ff8000"/><rect x="226.21" y="530.90" width="3.40" height="3.40" fill="#ff8000"/><rect x="240.62" y="532.30" width="3.40" height="3.40" fill="#ff8000"/><rect x="255.03" y="532.30" width="3.40" height="3.40" fill="#ff8000"/><rect x="269.44" y="532.30" width="3.40" height="3.40" fill="#ff8000"/><rect x="283.85" y="532.30" width="3.40" height="3.40" fill="#ff8000"/><rect x="298.26" y="532.30" width="3.40" height="3.40" fill="#ff8000"/><rect x="312.67" y="532.30" width="3.40" height="3.40" fill="#ff8000"/><rect x="327.08" y="532.30" width="3.40" height="3.40" fill="#ff8000"/><rect x="341.49" y="532.30" width="3.40" height="3.40" fill="#ff8000"/><path d="M213.50,455.00L214.50,515.00L215.65,515.00L215.65,523.05L216.80,523.05L216.80,531.10L239.90,535.00L357.60,536.00" fill="none" stroke="#9400ff" stroke-width="1.25" stroke-linejoin="round"/><circle cx="213.50" cy="455.00" r="1.20" fill="#9400ff"/><circle cx="227.91" cy="531.10" r="1.20" fill="#9400ff"/><circle cx="242.32" cy="535.00" r="1.20" fill="#9400ff"/><circle cx="256.73" cy="535.00" r="1.20" fill="#9400ff"/><circle cx="271.14" cy="535.00" r="1.20" fill="#9400ff"/><circle cx="285.55" cy="535.00" r="1.20" fill="#9400ff"/><circle cx="299.96" cy="535.00" r="1.20" fill="#9400ff"/><circle cx="314.37" cy="535.00" r="1.20" fill="#9400ff"/><circle cx="328.78" cy="535.00" r="1.20" fill="#9400ff"/><circle cx="343.19" cy="535.00" r="1.20" fill="#9400ff"/><path d="M213.50,437.00L214.90,475.20L216.30,475.20L216.30,478.55L217.70,478.55L217.70,481.90L230.30,482.90L232.20,486.80L233.20,490.60L235.10,499.30L239.90,499.30L239.90,504.10L245.70,506.00L247.15,506.00L247.15,508.90L248.60,508.90L248.60,511.80L250.50,511.80L250.50,514.70L252.40,514.70L252.40,517.60L256.30,517.60L256.30,522.40L263.00,522.40L263.00,525.30L268.80,525.30L268.80,529.20L273.70,529.20L273.70,532.10L286.00,535.00L357.60,536.50" fill="none" stroke="#008080" stroke-width="1.25" stroke-linejoin="round"/><circle cx="213.50" cy="437.00" r="1.80" fill="#008080"/><circle cx="227.91" cy="481.90" r="1.80" fill="#008080"/><circle cx="242.32" cy="504.10" r="1.80" fill="#008080"/><circle cx="256.73" cy="522.40" r="1.80" fill="#008080"/><circle cx="271.14" cy="529.20" r="1.80" fill="#008080"/><circle cx="285.55" cy="532.10" r="1.80" fill="#008080"/><circle cx="299.96" cy="535.00" r="1.80" fill="#008080"/><circle cx="314.37" cy="535.00" r="1.80" fill="#008080"/><circle cx="328.78" cy="535.00" r="1.80" fill="#008080"/><circle cx="343.19" cy="535.00" r="1.80" fill="#008080"/></g></g>
<defs><clipPath id="cF12"><rect x="397.00" y="427.00" width="147.00" height="114.90"/></clipPath></defs>
<g><rect x="400.00" y="430.00" width="141.00" height="108.90" fill="none" stroke="#bdbdbd" stroke-width="0.75"/><path d="M428.20,538.90v-1.4M428.20,430.00v1.4" stroke="#bdbdbd" stroke-width="0.6"/><text x="428.20" y="548.30" font-size="6.3" text-anchor="middle">100</text><path d="M456.40,538.90v-1.4M456.40,430.00v1.4" stroke="#bdbdbd" stroke-width="0.6"/><text x="456.40" y="548.30" font-size="6.3" text-anchor="middle">200</text><path d="M484.60,538.90v-1.4M484.60,430.00v1.4" stroke="#bdbdbd" stroke-width="0.6"/><text x="484.60" y="548.30" font-size="6.3" text-anchor="middle">300</text><path d="M512.80,538.90v-1.4M512.80,430.00v1.4" stroke="#bdbdbd" stroke-width="0.6"/><text x="512.80" y="548.30" font-size="6.3" text-anchor="middle">400</text><path d="M541.00,538.90v-1.4M541.00,430.00v1.4" stroke="#bdbdbd" stroke-width="0.6"/><text x="541.00" y="548.30" font-size="6.3" text-anchor="middle">500</text><path d="M400.00,532.60h1.4M541.00,532.60h-1.4" stroke="#bdbdbd" stroke-width="0.6"/><text x="397.00" y="534.90" font-size="6.3" text-anchor="end">2900</text><path d="M400.00,515.49h1.4M541.00,515.49h-1.4" stroke="#bdbdbd" stroke-width="0.6"/><text x="397.00" y="517.79" font-size="6.3" text-anchor="end">3000</text><path d="M400.00,498.94h1.4M541.00,498.94h-1.4" stroke="#bdbdbd" stroke-width="0.6"/><text x="397.00" y="501.24" font-size="6.3" text-anchor="end">3100</text><path d="M400.00,482.92h1.4M541.00,482.92h-1.4" stroke="#bdbdbd" stroke-width="0.6"/><text x="397.00" y="485.22" font-size="6.3" text-anchor="end">3200</text><path d="M400.00,467.39h1.4M541.00,467.39h-1.4" stroke="#bdbdbd" stroke-width="0.6"/><text x="397.00" y="469.69" font-size="6.3" text-anchor="end">3300</text><path d="M400.00,452.33h1.4M541.00,452.33h-1.4" stroke="#bdbdbd" stroke-width="0.6"/><text x="397.00" y="454.63" font-size="6.3" text-anchor="end">3400</text><path d="M400.00,437.70h1.4M541.00,437.70h-1.4" stroke="#bdbdbd" stroke-width="0.6"/><text x="397.00" y="440.00" font-size="6.3" text-anchor="end">3500</text><text x="470.50" y="556.70" font-size="7.1" text-anchor="middle">Iteration</text><text x="470.50" y="427.50" font-size="7.7" text-anchor="middle" style="stroke-width:0.22px">F12</text><text transform="translate(381.20,484.45) rotate(-90)" font-size="7.25" text-anchor="middle">Fitness value</text><g clip-path="url(#cF12)"><path d="M400.00,482.90L401.00,520.00L401.80,536.90L541.00,537.90" fill="none" stroke="#000000" stroke-width="1.25" stroke-linejoin="round"/><path d="M398.40,480.90L402.20,482.90L398.40,484.90Z" fill="#000000"/><path d="M412.50,534.99L416.30,536.99L412.50,538.99Z" fill="#000000"/><path d="M426.60,535.09L430.40,537.09L426.60,539.09Z" fill="#000000"/><path d="M440.70,535.19L444.50,537.19L440.70,539.19Z" fill="#000000"/><path d="M454.80,535.29L458.60,537.29L454.80,539.29Z" fill="#000000"/><path d="M468.90,535.39L472.70,537.39L468.90,539.39Z" fill="#000000"/><path d="M483.00,535.49L486.80,537.49L483.00,539.49Z" fill="#000000"/><path d="M497.10,535.60L500.90,537.60L497.10,539.60Z" fill="#000000"/><path d="M511.20,535.70L515.00,537.70L511.20,539.70Z" fill="#000000"/><path d="M525.30,535.80L529.10,537.80L525.30,539.80Z" fill="#000000"/><path d="M400.00,482.90L401.00,510.00L401.80,521.50L541.00,521.70" fill="none" stroke="#ff0000" stroke-width="1.25" stroke-linejoin="round"/><path d="M400.00,480.30L401.60,482.90L400.00,485.50L398.40,482.90Z" fill="#ff0000"/><path d="M414.10,518.90L415.70,521.50L414.10,524.10L412.50,521.50Z" fill="#ff0000"/><path d="M428.20,518.90L429.80,521.50L428.20,524.10L426.60,521.50Z" fill="#ff0000"/><path d="M442.30,518.90L443.90,521.50L442.30,524.10L440.70,521.50Z" fill="#ff0000"/><path d="M456.40,518.90L458.00,521.50L456.40,524.10L454.80,521.50Z" fill="#ff0000"/><path d="M470.50,518.90L472.10,521.50L470.50,524.10L468.90,521.50Z" fill="#ff0000"/><path d="M484.60,518.90L486.20,521.50L484.60,524.10L483.00,521.50Z" fill="#ff0000"/><path d="M498.70,518.90L500.30,521.50L498.70,524.10L497.10,521.50Z" fill="#ff0000"/><path d="M512.80,518.90L514.40,521.50L512.80,524.10L511.20,521.50Z" fill="#ff0000"/><path d="M526.90,518.90L528.50,521.50L526.90,524.10L525.30,521.50Z" fill="#ff0000"/><path d="M400.00,489.70L401.00,520.00L401.80,531.10L414.40,532.10L416.30,535.90L541.00,537.60" fill="none" stroke="#0000ff" stroke-width="1.25" stroke-linejoin="round"/><circle cx="400.00" cy="489.70" r="1.80" fill="#0000ff"/><circle cx="414.10" cy="531.10" r="1.80" fill="#0000ff"/><circle cx="428.20" cy="535.90" r="1.80" fill="#0000ff"/><circle cx="442.30" cy="535.90" r="1.80" fill="#0000ff"/><circle cx="456.40" cy="535.90" r="1.80" fill="#0000ff"/><circle cx="470.50" cy="535.90" r="1.80" fill="#0000ff"/><circle cx="484.60" cy="535.90" r="1.80" fill="#0000ff"/><circle cx="498.70" cy="535.90" r="1.80" fill="#0000ff"/><circle cx="512.80" cy="535.90" r="1.80" fill="#0000ff"/><circle cx="526.90" cy="535.90" r="1.80" fill="#0000ff"/><path d="M400.00,488.70L401.80,486.80L404.70,490.60L412.40,494.50L430.00,495.40L541.00,495.40" fill="none" stroke="#ff00ff" stroke-width="1.25" stroke-linejoin="round"/><circle cx="400.00" cy="488.70" r="1.20" fill="#ff00ff"/><circle cx="414.10" cy="494.59" r="1.20" fill="#ff00ff"/><circle cx="428.20" cy="495.31" r="1.20" fill="#ff00ff"/><circle cx="442.30" cy="495.40" r="1.20" fill="#ff00ff"/><circle cx="456.40" cy="495.40" r="1.20" fill="#ff00ff"/><circle cx="470.50" cy="495.40" r="1.20" fill="#ff00ff"/><circle cx="484.60" cy="495.40" r="1.20" fill="#ff00ff"/><circle cx="498.70" cy="495.40" r="1.20" fill="#ff00ff"/><circle cx="512.80" cy="495.40" r="1.20" fill="#ff00ff"/><circle cx="526.90" cy="495.40" r="1.20" fill="#ff00ff"/><path d="M400.00,515.70L414.40,515.70L415.30,520.50L416.30,521.50L428.80,521.50L429.80,528.20L437.50,528.20L439.40,533.00L480.00,533.50L541.00,536.00" fill="none" stroke="#00ffff" stroke-width="1.25" stroke-linejoin="round"/><path d="M398.00,517.30L400.00,513.50L402.00,517.30Z" fill="#00ffff"/><path d="M412.10,517.30L414.10,513.50L416.10,517.30Z" fill="#00ffff"/><path d="M426.20,523.10L428.20,519.30L430.20,523.10Z" fill="#00ffff"/><path d="M440.30,534.60L442.30,530.80L444.30,534.60Z" fill="#00ffff"/><path d="M454.40,534.60L456.40,530.80L458.40,534.60Z" fill="#00ffff"/><path d="M468.50,534.60L470.50,530.80L472.50,534.60Z" fill="#00ffff"/><path d="M482.60,535.10L484.60,531.30L486.60,535.10Z" fill="#00ffff"/><path d="M496.70,535.10L498.70,531.30L500.70,535.10Z" fill="#00ffff"/><path d="M510.80,535.10L512.80,531.30L514.80,535.10Z" fill="#00ffff"/><path d="M524.90,535.10L526.90,531.30L528.90,535.10Z" fill="#00ffff"/><path d="M400.00,494.50L401.00,515.00L401.80,527.30L414.40,529.20L428.80,530.10L442.20,531.10L541.00,532.20" fill="none" stroke="#00ff00" stroke-width="1.25" stroke-linejoin="round"/><path d="M397.80,494.50H402.20M400.00,492.30V496.70M398.46,492.96L401.54,496.04M398.46,496.04L401.54,492.96" stroke="#00ff00" stroke-width="0.9" fill="none"/><path d="M411.90,527.30H416.30M414.10,525.10V529.50M412.56,525.76L415.64,528.84M412.56,528.84L415.64,525.76" stroke="#00ff00" stroke-width="0.9" fill="none"/><path d="M426.00,529.20H430.40M428.20,527.00V531.40M426.66,527.66L429.74,530.74M426.66,530.74L429.74,527.66" stroke="#00ff00" stroke-width="0.9" fill="none"/><path d="M440.10,531.10H444.50M442.30,528.90V533.30M440.76,529.56L443.84,532.64M440.76,532.64L443.84,529.56" stroke="#00ff00" stroke-width="0.9" fill="none"/><path d="M454.20,531.10H458.60M456.40,528.90V533.30M454.86,529.56L457.94,532.64M454.86,532.64L457.94,529.56" stroke="#00ff00" stroke-width="0.9" fill="none"/><path d="M468.30,531.10H472.70M470.50,528.90V533.30M468.96,529.56L472.04,532.64M468.96,532.64L472.04,529.56" stroke="#00ff00" stroke-width="0.9" fill="none"/><path d="M482.40,531.10H486.80M484.60,528.90V533.30M483.06,529.56L486.14,532.64M483.06,532.64L486.14,529.56" stroke="#00ff00" stroke-width="0.9" fill="none"/><path d="M496.50,531.10H500.90M498.70,528.90V533.30M497.16,529.56L500.24,532.64M497.16,532.64L500.24,529.56" stroke="#00ff00" stroke-width="0.9" fill="none"/><path d="M510.60,531.10H515.00M512.80,528.90V533.30M511.26,529.56L514.34,532.64M511.26,532.64L514.34,529.56" stroke="#00ff00" stroke-width="0.9" fill="none"/><path d="M524.70,531.10H529.10M526.90,528.90V533.30M525.36,529.56L528.44,532.64M525.36,532.64L528.44,529.56" stroke="#00ff00" stroke-width="0.9" fill="none"/><path d="M400.00,438.60L401.00,510.00L402.80,531.10L406.60,533.00L441.00,533.50L541.00,534.20" fill="none" stroke="#ff8000" stroke-width="1.25" stroke-linejoin="round"/><rect x="398.30" y="436.90" width="3.40" height="3.40" fill="#ff8000"/><rect x="412.40" y="531.30" width="3.40" height="3.40" fill="#ff8000"/><rect x="426.50" y="531.30" width="3.40" height="3.40" fill="#ff8000"/><rect x="440.60" y="531.80" width="3.40" height="3.40" fill="#ff8000"/><rect x="454.70" y="531.80" width="3.40" height="3.40" fill="#ff8000"/><rect x="468.80" y="531.80" width="3.40" height="3.40" fill="#ff8000"/><rect x="482.90" y="531.80" width="3.40" height="3.40" fill="#ff8000"/><rect x="497.00" y="531.80" width="3.40" height="3.40" fill="#ff8000"/><rect x="511.10" y="531.80" width="3.40" height="3.40" fill="#ff8000"/><rect x="525.20" y="531.80" width="3.40" height="3.40" fill="#ff8000"/><path d="M400.00,456.90L401.00,525.00L401.80,535.00L404.00,535.00L404.00,537.90L541.00,538.10" fill="none" stroke="#9400ff" stroke-width="1.25" stroke-linejoin="round"/><circle cx="400.00" cy="456.90" r="1.20" fill="#9400ff"/><circle cx="414.10" cy="537.90" r="1.20" fill="#9400ff"/><circle cx="428.20" cy="537.90" r="1.20" fill="#9400ff"/><circle cx="442.30" cy="537.90" r="1.20" fill="#9400ff"/><circle cx="456.40" cy="537.90" r="1.20" fill="#9400ff"/><circle cx="470.50" cy="537.90" r="1.20" fill="#9400ff"/><circle cx="484.60" cy="537.90" r="1.20" fill="#9400ff"/><circle cx="498.70" cy="537.90" r="1.20" fill="#9400ff"/><circle cx="512.80" cy="537.90" r="1.20" fill="#9400ff"/><circle cx="526.90" cy="537.90" r="1.20" fill="#9400ff"/><path d="M400.00,429.90L401.00,510.00L401.80,528.20L414.40,529.20L418.20,529.20L418.20,532.10L428.80,533.00L541.00,533.60" fill="none" stroke="#008080" stroke-width="1.25" stroke-linejoin="round"/><circle cx="400.00" cy="429.90" r="1.80" fill="#008080"/><circle cx="414.10" cy="528.20" r="1.80" fill="#008080"/><circle cx="428.20" cy="532.10" r="1.80" fill="#008080"/><circle cx="442.30" cy="533.00" r="1.80" fill="#008080"/><circle cx="456.40" cy="533.00" r="1.80" fill="#008080"/><circle cx="470.50" cy="533.00" r="1.80" fill="#008080"/><circle cx="484.60" cy="533.00" r="1.80" fill="#008080"/><circle cx="498.70" cy="533.00" r="1.80" fill="#008080"/><circle cx="512.80" cy="533.00" r="1.80" fill="#008080"/><circle cx="526.90" cy="533.00" r="1.80" fill="#008080"/></g></g>
<rect x="417.2" y="505.7" width="25.50" height="33.20" fill="none" stroke="#505050" stroke-width="0.7"/><path d="M429.8,505.7L466.12,486.48" stroke="#101010" stroke-width="0.7"/><path d="M469.3,484.8L466.87,487.90L465.37,485.07Z" fill="#101010"/><rect x="465.0" y="431.8" width="72.40" height="54.30" fill="#ffffff" stroke="#c8c8c8" stroke-width="0.7"/><rect x="475.6" y="436.3" width="55.80" height="43.00" fill="#ffffff" stroke="#c4c4c4" stroke-width="0.5"/><text x="474.40" y="439.80" font-size="2.6" text-anchor="end" style="fill:#6a6a6a;stroke:none">3000</text><text x="474.40" y="445.80" font-size="2.6" text-anchor="end" style="fill:#6a6a6a;stroke:none">2980</text><text x="474.40" y="451.50" font-size="2.6" text-anchor="end" style="fill:#6a6a6a;stroke:none">2960</text><text x="474.40" y="457.60" font-size="2.6" text-anchor="end" style="fill:#6a6a6a;stroke:none">2940</text><text x="474.40" y="463.60" font-size="2.6" text-anchor="end" style="fill:#6a6a6a;stroke:none">2920</text><text x="474.40" y="469.30" font-size="2.6" text-anchor="end" style="fill:#6a6a6a;stroke:none">2900</text><text x="474.40" y="475.40" font-size="2.6" text-anchor="end" style="fill:#6a6a6a;stroke:none">2880</text><text x="484.60" y="482.50" font-size="2.6" text-anchor="middle" style="fill:#6a6a6a;stroke:none">60</text><text x="493.70" y="482.50" font-size="2.6" text-anchor="middle" style="fill:#6a6a6a;stroke:none">80</text><text x="505.80" y="482.50" font-size="2.6" text-anchor="middle" style="fill:#6a6a6a;stroke:none">100</text><text x="515.60" y="482.50" font-size="2.6" text-anchor="middle" style="fill:#6a6a6a;stroke:none">120</text><text x="526.10" y="482.50" font-size="2.6" text-anchor="middle" style="fill:#6a6a6a;stroke:none">140</text><path d="M475.60,477.80L531.40,478.00" fill="none" stroke="#000000" stroke-width="0.75" stroke-opacity="0.7"/><circle cx="488.40" cy="477.85" r="0.8" fill="#000000" fill-opacity="0.8"/><circle cx="516.30" cy="477.95" r="0.8" fill="#000000" fill-opacity="0.8"/><path d="M475.60,450.60L531.40,450.60" fill="none" stroke="#ff0000" stroke-width="0.75" stroke-opacity="0.7"/><circle cx="488.40" cy="450.60" r="0.8" fill="#ff0000" fill-opacity="0.8"/><circle cx="516.30" cy="450.60" r="0.8" fill="#ff0000" fill-opacity="0.8"/><path d="M475.60,463.50L484.60,464.20L486.10,466.50L491.40,466.90L492.90,471.80L494.40,475.10L531.40,475.60" fill="none" stroke="#0000ff" stroke-width="0.75" stroke-opacity="0.7"/><circle cx="488.40" cy="466.67" r="0.8" fill="#0000ff" fill-opacity="0.8"/><circle cx="516.30" cy="475.40" r="0.8" fill="#0000ff" fill-opacity="0.8"/><path d="M475.60,440.80L488.40,440.80L489.90,447.60L492.90,448.40L494.40,450.60L516.30,450.60L517.50,461.20L527.60,461.50L529.90,464.20L531.40,464.20" fill="none" stroke="#00ffff" stroke-width="0.75" stroke-opacity="0.7"/><circle cx="488.40" cy="440.80" r="0.8" fill="#00ffff" fill-opacity="0.8"/><circle cx="516.30" cy="450.60" r="0.8" fill="#00ffff" fill-opacity="0.8"/><path d="M475.60,461.50L489.20,463.50L501.20,464.20L531.40,464.50" fill="none" stroke="#00ff00" stroke-width="0.75" stroke-opacity="0.7"/><circle cx="488.40" cy="463.38" r="0.8" fill="#00ff00" fill-opacity="0.8"/><circle cx="516.30" cy="464.35" r="0.8" fill="#00ff00" fill-opacity="0.8"/><path d="M475.60,470.60L516.00,470.60L531.40,471.50" fill="none" stroke="#ff8000" stroke-width="0.75" stroke-opacity="0.7"/><circle cx="488.40" cy="470.60" r="0.8" fill="#ff8000" fill-opacity="0.8"/><circle cx="516.30" cy="470.62" r="0.8" fill="#ff8000" fill-opacity="0.8"/><path d="M475.60,478.60L531.40,478.60" fill="none" stroke="#9400ff" stroke-width="0.75" stroke-opacity="0.7"/><circle cx="488.40" cy="478.60" r="0.8" fill="#9400ff" fill-opacity="0.8"/><circle cx="516.30" cy="478.60" r="0.8" fill="#9400ff" fill-opacity="0.8"/><path d="M475.60,476.60L531.40,476.60" fill="none" stroke="#008080" stroke-width="0.75" stroke-opacity="0.7"/><circle cx="488.40" cy="476.60" r="0.8" fill="#008080" fill-opacity="0.8"/><circle cx="516.30" cy="476.60" r="0.8" fill="#008080" fill-opacity="0.8"/>
<path d="M12.30,581.80H30.70" stroke="#000000" stroke-width="1.3"/>
<path d="M19.34,579.10L24.47,581.80L19.34,584.50Z" fill="#000000"/>
<text x="31.50" y="585.20" font-size="8.4">MOOA</text>
<path d="M70.80,582.90H89.20" stroke="#ff0000" stroke-width="1.3"/>
<path d="M80.00,579.39L82.16,582.90L80.00,586.41L77.84,582.90Z" fill="#ff0000"/>
<text x="90.80" y="586.20" font-size="8.4">OOA</text>
<path d="M130.80,583.00H149.20" stroke="#0000ff" stroke-width="1.3"/>
<circle cx="140.00" cy="583.00" r="2.43" fill="#0000ff"/>
<text x="150.40" y="586.50" font-size="8.4">AO</text>
<path d="M190.50,582.90H208.90" stroke="#ff00ff" stroke-width="1.3"/>
<circle cx="199.70" cy="582.90" r="1.62" fill="#ff00ff"/>
<text x="210.10" y="586.30" font-size="8.4">AOA</text>
<path d="M250.60,582.90H269.00" stroke="#00ffff" stroke-width="1.3"/>
<path d="M257.10,585.06L259.80,579.93L262.50,585.06Z" fill="#00ffff"/>
<text x="270.40" y="586.20" font-size="8.4">ChOA</text>
<path d="M310.70,582.40H329.10" stroke="#00ff00" stroke-width="1.3"/>
<path d="M316.93,582.40H322.87M319.90,579.43V585.37M317.82,580.32L321.98,584.48M317.82,584.48L321.98,580.32" stroke="#00ff00" stroke-width="0.9" fill="none"/>
<text x="330.50" y="585.90" font-size="8.4">HHO</text>
<path d="M370.60,582.50H389.00" stroke="#ff8000" stroke-width="1.3"/>
<rect x="377.50" y="580.21" width="4.59" height="4.59" fill="#ff8000"/>
<text x="390.30" y="585.70" font-size="8.4">GWO</text>
<path d="M430.90,583.40H449.30" stroke="#9400ff" stroke-width="1.3"/>
<circle cx="440.10" cy="583.40" r="1.62" fill="#9400ff"/>
<text x="450.40" y="586.60" font-size="8.4">RGWO</text>
<path d="M491.00,584.10H509.40" stroke="#008080" stroke-width="1.3"/>
<circle cx="500.20" cy="584.10" r="2.43" fill="#008080"/>
<text x="510.40" y="587.50" font-size="8.4">MPSO</text>
</svg>
</body></html>
